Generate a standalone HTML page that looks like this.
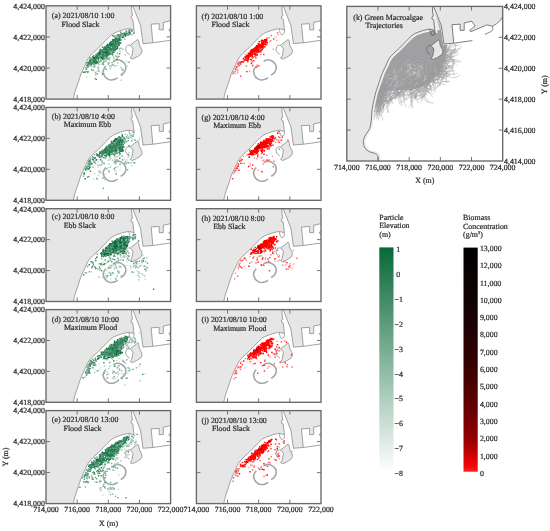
<!DOCTYPE html>
<html><head><meta charset="utf-8"><style>
html,body{margin:0;padding:0;background:#fff;}
body{width:550px;height:531px;overflow:hidden;}
svg{display:block;filter:blur(0.3px);}
text{font-family:'Liberation Serif','Times New Roman',serif;font-size:7.9px;fill:#2c2c2c;stroke:#2c2c2c;stroke-width:0.22px;text-rendering:geometricPrecision;}
</style></head><body>
<svg width="550" height="531" viewBox="0 0 550 531">
<defs><linearGradient id="gG" x1="0" y1="0" x2="0" y2="1"><stop offset="0" stop-color="#086838"/><stop offset="1" stop-color="#ffffff"/></linearGradient><linearGradient id="gR" x1="0" y1="0" x2="0" y2="1"><stop offset="0" stop-color="#000000"/><stop offset="0.25" stop-color="#120204"/><stop offset="0.5" stop-color="#320000"/><stop offset="0.725" stop-color="#660000"/><stop offset="0.86" stop-color="#960000"/><stop offset="0.975" stop-color="#f50505"/><stop offset="1.0" stop-color="#ff1e1e"/></linearGradient></defs>
<clipPath id="c00"><rect x="46.00" y="5.80" width="124.60" height="93.30"/></clipPath>
<g clip-path="url(#c00)">
<rect x="46.00" y="5.80" width="124.60" height="93.30" fill="#fff"/>
<path d="M38.21 169.07 L78.08 165.97 C78.01 165.14 77.85 162.70 77.62 160.99 C77.38 159.28 77.28 156.92 76.68 155.70 C76.09 154.48 75.49 154.35 74.03 153.68 C72.58 153.01 69.67 152.70 67.96 151.66 C66.25 150.62 64.66 149.20 63.76 147.46 C62.85 145.72 62.33 143.31 62.51 141.24 C62.69 139.17 63.78 137.12 64.85 135.02 C65.91 132.92 67.96 131.08 68.90 128.65 C69.83 126.21 70.06 123.51 70.45 120.40 C70.84 117.29 70.71 113.74 71.23 109.98 C71.75 106.23 72.87 101.10 73.57 97.86 C74.27 94.62 74.66 93.11 75.44 90.55 C76.22 87.98 77.38 85.03 78.24 82.46 C79.10 79.90 79.82 77.23 80.58 75.15 C81.33 73.08 82.06 71.58 82.76 70.02 C83.46 68.47 84.08 67.35 84.78 65.82 C85.48 64.29 86.24 62.30 86.96 60.85 C87.69 59.40 88.21 58.38 89.14 57.11 C90.08 55.85 91.30 54.50 92.57 53.23 C93.84 51.96 95.42 50.77 96.77 49.50 C98.12 48.23 99.14 47.16 100.67 45.61 C102.20 44.05 104.35 41.80 105.96 40.17 C107.57 38.53 108.87 37.03 110.32 35.81 C111.78 34.59 113.00 33.71 114.69 32.86 C116.37 32.00 118.79 31.25 120.45 30.68 C122.11 30.11 123.25 29.77 124.65 29.44 C126.06 29.10 128.16 28.79 128.86 28.66 L134.00 29.90 L132.91 20.26 L132.75 19.17 L131.20 18.55 L131.04 16.37 L132.44 15.60 L131.66 10.46 L131.20 -1.97 L38.21 -1.97Z" fill="#e6e6e6"/>
<path d="M132.75 -1.97 L133.06 6.58 L140.54 25.55 L142.88 42.50 L142.88 43.59 L152.84 42.81 L151.13 24.15 L159.23 23.68 L159.23 29.90 L163.28 29.90 L163.28 22.44 L170.91 20.73 L174.18 25.55 L168.73 29.90 L169.82 31.30 L184.46 25.08 L185.86 24.46 L189.13 25.08 L191.31 25.86 L195.36 23.37 L198.95 20.42 L201.13 16.84 L209.54 12.80 L209.54 -1.97Z" fill="#e6e6e6"/>
<path d="M130.26 45.30 L137.74 39.39 L138.67 40.94 L139.45 45.30 L141.63 49.18 L142.10 51.83 L140.54 54.63 L136.65 57.11 L132.29 59.14 L130.26 58.05 L131.82 55.72 L132.44 52.29 L133.06 48.72 L131.35 46.54Z" fill="#e6e6e6"/>
<path d="M78.08 165.97 C78.01 165.14 77.85 162.70 77.62 160.99 C77.38 159.28 77.28 156.92 76.68 155.70 C76.09 154.48 75.49 154.35 74.03 153.68 C72.58 153.01 69.67 152.70 67.96 151.66 C66.25 150.62 64.66 149.20 63.76 147.46 C62.85 145.72 62.33 143.31 62.51 141.24 C62.69 139.17 63.78 137.12 64.85 135.02 C65.91 132.92 67.96 131.08 68.90 128.65 C69.83 126.21 70.06 123.51 70.45 120.40 C70.84 117.29 70.71 113.74 71.23 109.98 C71.75 106.23 72.87 101.10 73.57 97.86 C74.27 94.62 74.66 93.11 75.44 90.55 C76.22 87.98 77.38 85.03 78.24 82.46 C79.10 79.90 79.82 77.23 80.58 75.15 C81.33 73.08 82.06 71.58 82.76 70.02 C83.46 68.47 84.08 67.35 84.78 65.82 C85.48 64.29 86.24 62.30 86.96 60.85 C87.69 59.40 88.21 58.38 89.14 57.11 C90.08 55.85 91.30 54.50 92.57 53.23 C93.84 51.96 95.42 50.77 96.77 49.50 C98.12 48.23 99.14 47.16 100.67 45.61 C102.20 44.05 104.35 41.80 105.96 40.17 C107.57 38.53 108.87 37.03 110.32 35.81 C111.78 34.59 113.00 33.71 114.69 32.86 C116.37 32.00 118.79 31.25 120.45 30.68 C122.11 30.11 123.25 29.77 124.65 29.44 C126.06 29.10 128.16 28.79 128.86 28.66 L134.00 29.90 L132.91 20.26 L132.75 19.17 L131.20 18.55 L131.04 16.37 L132.44 15.60 L131.66 10.46 L131.20 -1.97" fill="none" stroke="#8c8c8c" stroke-width="0.8" stroke-linejoin="round"/>
<path d="M132.75 -1.97 L133.06 6.58 L140.54 25.55 L142.88 42.50 L142.88 43.59 L152.84 42.81 L151.13 24.15 L159.23 23.68 L159.23 29.90 L163.28 29.90 L163.28 22.44 L170.91 20.73 L174.18 25.55 L168.73 29.90 L169.82 31.30 L184.46 25.08 L185.86 24.46 L189.13 25.08 L191.31 25.86 L195.36 23.37 L198.95 20.42 L201.13 16.84 L209.54 12.80 L209.54 -1.97" fill="none" stroke="#8c8c8c" stroke-width="0.8" stroke-linejoin="round"/>
<path d="M152.84 42.81 L171.38 40.17" fill="none" stroke="#8c8c8c" stroke-width="0.8" stroke-linejoin="round"/>
<path d="M191.31 25.86 C191.39 26.40 192.07 28.22 191.78 29.12 C191.50 30.03 190.90 30.50 189.60 31.30 C188.30 32.11 184.93 33.50 183.99 33.95" fill="none" stroke="#8c8c8c" stroke-width="0.8" stroke-linejoin="round"/>
<path d="M128.86 28.66 C128.99 29.31 129.33 31.59 129.64 32.55 C129.95 33.50 130.23 34.10 130.73 34.41 C131.22 34.72 132.05 34.77 132.60 34.41 C133.14 34.05 133.77 32.99 134.00 32.23 C134.23 31.48 134.00 30.29 134.00 29.90" fill="none" stroke="#8c8c8c" stroke-width="0.8" stroke-linejoin="round"/>
<path d="M130.26 45.30 L137.74 39.39 L138.67 40.94 L139.45 45.30 L141.63 49.18 L142.10 51.83 L140.54 54.63 L136.65 57.11 L132.29 59.14 L130.26 58.05 L131.82 55.72 L132.44 52.29 L133.06 48.72 L131.35 46.54Z" fill="none" stroke="#8c8c8c" stroke-width="0.8" stroke-linejoin="round"/>
<path d="M130.26 45.30 C129.79 45.32 128.21 44.93 127.46 45.45 C126.70 45.97 125.93 47.34 125.74 48.41 C125.56 49.47 125.72 50.79 126.37 51.83 C127.02 52.86 129.09 54.16 129.64 54.63" fill="none" stroke="#8c8c8c" stroke-width="0.8" stroke-linejoin="round"/>
<path d="M113.13 61.31 C113.83 61.05 115.93 59.81 117.33 59.76 C118.74 59.71 120.27 60.28 121.54 61.00 C122.81 61.73 124.24 62.95 124.97 64.11 C125.69 65.28 126.03 66.65 125.90 68.00 C125.77 69.35 125.04 71.01 124.19 72.20 C123.33 73.39 121.33 74.66 120.76 75.15" fill="none" stroke="#a6a6a6" stroke-width="1.6"/>
<path d="M105.81 66.13 C105.44 66.70 104.04 68.47 103.63 69.55 C103.21 70.64 103.06 71.42 103.32 72.66 C103.58 73.91 104.35 75.90 105.19 77.02 C106.02 78.13 107.29 78.86 108.30 79.35 C109.31 79.84 110.17 79.97 111.26 79.97 C112.35 79.97 113.78 79.71 114.84 79.35 C115.91 78.99 117.18 78.06 117.64 77.80" fill="none" stroke="#a6a6a6" stroke-width="1.6"/>
<path d="M102.7 50.2h0M97.4 54.1h0M114.1 48.9h0M111.3 41.6h0M92.1 59.0h0M101.6 58.6h0M91.6 62.2h0M106.8 48.5h0M110.9 44.6h0M102.7 51.8h0M99.0 56.9h0M113.0 49.4h0M110.5 45.1h0M89.6 65.3h0M112.0 50.4h0M105.4 50.4h0M112.4 46.1h0M108.3 50.8h0M99.0 56.0h0M103.2 50.0h0M116.5 48.9h0M117.5 45.9h0M107.5 50.3h0M107.8 50.0h0M114.7 49.9h0M116.8 38.6h0M95.7 60.8h0M114.6 46.2h0M106.6 52.7h0M119.4 42.7h0M113.1 45.8h0M115.3 40.2h0M98.5 54.6h0M117.8 44.4h0M110.9 49.2h0M96.2 59.3h0M109.3 46.2h0M102.5 51.0h0M107.1 54.4h0M95.5 63.2h0M110.6 50.5h0M102.8 54.0h0M104.7 46.9h0M113.3 41.2h0M119.7 39.5h0M97.2 56.9h0M106.4 47.9h0M107.9 50.0h0M102.1 57.7h0M87.1 62.7h0M95.5 56.8h0M95.7 56.9h0M105.4 49.3h0M110.7 50.6h0M106.5 48.5h0M95.6 56.0h0M115.6 38.8h0M113.3 48.2h0M115.9 43.7h0M96.7 59.3h0M93.6 63.5h0M118.1 44.9h0M94.6 63.8h0M105.2 49.5h0M117.1 39.4h0M100.4 61.2h0M103.5 50.8h0M106.1 55.0h0M107.5 48.3h0M111.9 46.6h0M115.6 49.3h0M105.5 57.3h0M95.9 61.8h0M107.7 54.5h0M115.1 47.2h0M116.4 38.7h0M96.1 56.4h0M117.4 47.7h0M110.4 50.2h0M111.1 47.8h0M111.3 47.4h0M118.9 39.3h0M111.3 47.6h0M105.0 54.6h0M102.7 57.7h0M90.0 63.2h0M106.8 48.0h0M98.0 59.6h0M115.5 40.1h0M106.9 47.2h0M108.6 51.4h0M109.7 45.8h0M103.5 55.1h0M112.0 44.4h0M106.8 46.5h0M116.2 44.2h0M112.7 40.9h0M106.6 46.3h0M95.7 60.5h0M106.8 57.8h0M110.0 50.2h0M99.4 53.7h0M106.9 45.1h0M103.2 59.2h0M107.0 49.6h0M117.9 44.8h0M102.9 56.6h0M105.8 52.5h0M111.4 44.1h0M100.2 54.1h0M105.4 49.3h0M101.5 51.8h0M110.0 44.6h0M108.3 47.5h0M95.5 62.4h0M102.2 49.9h0M112.1 47.1h0M113.0 41.2h0M105.2 51.1h0M115.7 40.1h0M108.4 52.5h0M112.1 49.7h0M96.3 61.4h0M109.6 48.3h0M113.1 42.2h0M120.0 37.2h0M91.3 64.7h0M99.4 54.8h0M96.7 56.1h0M120.0 40.4h0M119.9 36.9h0M109.9 47.0h0M108.7 51.2h0M99.2 54.0h0M96.3 63.5h0M112.0 45.2h0M104.6 52.7h0M102.1 51.9h0M110.6 51.0h0M102.8 56.9h0M100.9 58.1h0M115.2 45.8h0M95.7 60.9h0M105.0 48.7h0M114.5 50.3h0M114.1 43.5h0M103.5 53.7h0M93.5 60.6h0M92.9 62.4h0M88.9 64.5h0M114.2 41.4h0M107.8 47.3h0M96.9 59.3h0M110.1 50.7h0M111.8 43.4h0M113.4 46.0h0M88.2 63.7h0M112.4 49.2h0M98.0 56.7h0M100.6 57.1h0M116.4 49.4h0M100.1 53.2h0M110.5 42.6h0M104.3 54.9h0M109.0 47.9h0M101.0 49.8h0M97.4 56.2h0M108.2 52.6h0M104.3 49.8h0M102.8 52.4h0M101.7 51.4h0M113.2 49.3h0M93.6 61.1h0M108.5 47.8h0M110.3 45.9h0M112.9 41.4h0M110.9 43.4h0M102.3 53.7h0M93.8 63.9h0M106.4 51.9h0M120.1 40.4h0M96.6 57.0h0M106.6 49.2h0M113.6 39.7h0M101.5 57.9h0M110.0 47.3h0M118.6 37.9h0M117.1 45.5h0M112.1 49.8h0M93.4 61.2h0M100.5 54.2h0M113.3 43.6h0M111.3 48.2h0M106.1 50.3h0M102.8 49.9h0M93.6 57.2h0M117.7 47.9h0M90.3 60.9h0M108.0 50.3h0M112.3 46.8h0M106.6 46.1h0M119.6 43.3h0M95.8 55.4h0M115.8 41.8h0M113.8 43.4h0M110.8 45.5h0M112.6 49.3h0M112.3 42.9h0M106.6 49.9h0M105.0 47.2h0M92.5 61.3h0M105.8 48.8h0M100.8 56.0h0M117.1 45.9h0M112.2 53.0h0M108.1 45.3h0M89.8 65.1h0M102.8 47.4h0M108.5 45.4h0M100.1 51.7h0M108.9 49.5h0M112.1 45.3h0M93.5 62.1h0M109.0 53.3h0M97.8 58.7h0M112.0 50.6h0M112.6 45.0h0M104.3 50.8h0M94.8 63.3h0M95.7 61.2h0M109.1 53.3h0M112.4 45.5h0M106.7 52.6h0M118.2 45.6h0M103.2 51.9h0M112.7 44.3h0M96.7 62.8h0M99.5 57.4h0M105.0 56.5h0M93.3 60.4h0M111.0 42.3h0M103.0 49.6h0M118.0 45.6h0M111.6 44.8h0M112.2 46.9h0M96.1 62.5h0M104.1 54.2h0M107.5 45.8h0M101.2 56.5h0M101.0 56.0h0M125.5 35.5h0M115.5 40.6h0M126.2 33.3h0M122.7 33.8h0M124.8 34.2h0M126.3 34.5h0M124.3 35.0h0M124.2 33.1h0M117.9 35.1h0M128.5 32.1h0M124.5 34.3h0M124.9 34.4h0M128.0 35.3h0M119.9 35.9h0M129.8 32.2h0M121.6 34.1h0M123.3 33.8h0M117.0 59.3h0M96.2 79.4h0M90.3 57.9h0M89.8 62.1h0M84.8 72.3h0M88.4 66.3h0M86.9 65.5h0M92.6 56.6h0M93.2 60.6h0M89.2 61.5h0M87.8 64.6h0" stroke="#22794e" stroke-width="1.4" stroke-linecap="square"/>
<path d="M97.9 59.5h0M99.4 59.5h0M99.2 54.2h0M111.6 49.4h0M103.5 58.1h0M113.2 52.1h0M115.2 46.3h0M99.6 54.7h0M90.6 63.6h0M100.6 58.6h0M102.4 56.1h0M99.3 58.9h0M108.8 46.7h0M117.9 41.1h0M100.8 50.8h0M99.9 55.8h0M104.3 56.9h0M113.3 47.6h0M98.1 59.0h0M120.0 43.6h0M112.1 46.1h0M113.3 42.4h0M117.0 41.5h0M97.9 57.5h0M104.1 58.4h0M114.1 44.9h0M108.4 49.6h0M107.5 46.9h0M98.8 53.9h0M99.7 52.1h0M94.9 59.9h0M98.0 55.0h0M104.0 51.3h0M106.6 48.9h0M106.4 46.3h0M107.4 46.7h0M97.0 59.8h0M96.0 55.6h0M92.4 61.9h0M119.0 44.6h0M101.1 50.0h0M109.1 54.8h0M97.0 56.5h0M106.4 50.4h0M107.1 50.9h0M90.8 64.9h0M98.8 54.9h0M97.0 62.0h0M112.5 45.5h0M114.5 49.7h0M97.4 61.4h0M109.3 45.8h0M120.7 35.3h0M96.3 62.5h0M112.4 47.4h0M92.5 57.3h0M117.5 39.0h0M112.8 35.6h0M120.7 32.3h0M119.2 38.6h0M118.6 36.5h0M131.0 30.2h0M128.9 32.0h0M117.1 39.5h0M125.4 36.5h0M122.8 35.7h0M134.1 32.9h0M117.7 35.3h0M121.1 37.2h0M123.6 37.4h0M119.6 34.8h0M127.9 33.4h0M123.4 36.8h0M117.3 35.5h0M129.2 32.8h0M112.1 65.1h0M98.5 67.7h0M87.9 64.5h0M87.6 66.4h0M89.7 59.5h0M88.2 64.1h0M90.7 62.8h0" stroke="#549775" stroke-width="1.4" stroke-linecap="square"/>
<path d="M116.0 44.4h0M104.7 53.4h0M100.1 58.4h0M97.0 60.2h0M115.1 41.9h0M96.9 57.8h0M113.4 46.3h0M105.0 52.7h0M94.2 63.0h0M115.1 39.5h0M99.5 58.9h0M98.6 55.6h0M118.1 40.7h0M107.9 50.9h0M97.8 62.7h0M108.3 52.7h0M110.1 51.0h0M122.5 37.5h0M106.4 55.4h0M96.4 58.2h0M110.1 43.7h0M97.0 59.4h0M98.2 54.9h0M90.9 59.4h0M97.7 61.9h0M118.9 41.0h0M103.4 51.5h0M96.8 61.5h0M116.6 38.6h0M90.3 61.5h0M108.1 54.9h0M118.0 42.8h0M96.9 57.9h0M99.0 60.2h0M117.4 48.0h0M90.7 60.2h0M114.0 40.1h0M119.0 45.2h0M106.6 54.1h0M118.0 44.1h0M99.5 58.3h0M96.6 58.1h0M118.0 42.7h0M93.9 63.0h0M105.6 52.6h0M89.3 62.4h0M111.9 43.3h0M93.7 58.8h0M114.3 48.2h0M114.7 41.8h0M98.7 58.3h0M115.2 49.6h0M98.0 60.4h0M105.1 50.3h0M110.2 53.8h0M102.1 58.5h0M98.9 52.4h0M115.4 49.5h0M117.0 46.4h0M107.6 48.3h0M98.4 60.7h0M105.8 48.1h0M101.5 57.2h0M94.4 57.7h0M94.9 58.6h0M108.2 50.8h0M93.7 58.2h0M115.8 42.3h0M114.1 46.9h0M109.6 44.9h0M110.2 43.7h0M109.7 46.9h0M111.2 49.1h0M106.3 48.9h0M110.1 49.3h0M117.7 41.2h0M108.2 46.6h0M111.3 50.3h0M109.1 45.4h0M101.2 57.6h0M97.8 59.6h0M113.8 44.2h0M113.5 47.3h0M111.2 43.3h0M107.5 48.0h0M92.0 63.9h0M110.4 48.3h0M112.6 41.1h0M109.8 43.1h0M108.5 51.6h0M103.5 49.2h0M89.0 62.3h0M117.3 47.9h0M114.3 47.1h0M113.7 40.5h0M112.0 44.8h0M119.7 38.2h0M113.3 51.3h0M115.4 41.8h0M96.8 55.6h0M116.8 45.8h0M101.1 55.0h0M114.2 40.9h0M107.0 56.3h0M105.3 49.6h0M91.6 63.1h0M110.5 53.6h0M101.3 58.7h0M110.7 48.9h0M105.3 55.8h0M108.0 54.3h0M98.4 57.2h0M113.7 43.8h0M98.6 55.1h0M101.9 58.7h0M94.5 59.8h0M103.0 56.3h0M99.8 53.6h0M113.4 52.5h0M102.3 55.4h0M97.5 55.5h0M103.8 57.8h0M101.3 57.3h0M101.5 59.9h0M110.7 52.6h0M104.3 48.6h0M98.5 57.5h0M112.4 51.7h0M105.2 52.4h0M110.2 49.7h0M107.8 44.4h0M115.8 43.1h0M105.5 54.1h0M98.6 53.4h0M93.6 58.9h0M88.5 63.2h0M109.6 50.5h0M88.5 64.5h0M100.7 52.5h0M100.1 52.5h0M119.2 40.1h0M107.7 55.9h0M90.9 59.9h0M100.6 54.4h0M104.0 53.2h0M111.5 53.8h0M97.7 56.0h0M106.8 48.8h0M117.1 40.4h0M95.3 58.2h0M107.4 50.5h0M103.4 50.4h0M99.4 57.7h0M101.7 54.7h0M113.5 46.9h0M113.8 49.6h0M100.2 60.8h0M110.0 49.5h0M111.9 50.5h0M107.0 51.7h0M110.5 50.0h0M118.0 39.5h0M103.4 52.3h0M104.4 53.2h0M94.3 61.2h0M114.7 43.7h0M110.9 51.2h0M107.3 49.8h0" stroke="#0a6a3a" stroke-width="1.4" stroke-linecap="square"/>
<path d="M117.0 39.0h0M112.6 41.0h0M97.8 53.4h0M114.7 48.0h0M103.9 55.7h0M102.8 50.1h0M109.3 45.1h0M91.4 63.6h0M102.9 55.9h0M95.3 60.3h0M117.3 45.3h0M116.4 40.9h0M109.4 48.9h0M91.0 64.1h0M115.7 43.7h0M102.9 58.9h0M100.7 51.1h0M106.1 46.8h0M96.6 59.8h0M102.5 54.0h0M105.9 56.2h0M105.7 49.5h0M112.7 49.5h0M112.8 51.9h0M105.2 50.8h0M118.1 44.9h0M111.9 48.5h0M113.9 43.7h0M91.2 61.7h0M112.6 49.6h0M91.1 63.9h0M118.5 45.2h0M110.4 51.9h0M114.1 50.3h0M108.7 53.6h0M89.8 65.6h0M96.9 58.6h0M109.7 50.5h0M121.1 39.9h0M103.7 53.4h0M105.2 51.5h0M91.1 62.0h0M101.2 54.1h0M115.4 44.4h0M104.1 49.4h0M114.2 45.2h0M118.8 40.6h0M111.4 42.2h0M101.1 56.8h0M101.1 55.4h0M89.8 60.9h0M103.6 55.3h0M113.7 46.1h0M109.7 50.7h0M99.8 59.6h0M117.7 39.6h0M99.8 50.8h0M112.2 48.0h0M92.1 62.9h0M95.8 57.8h0M114.1 44.4h0M92.6 60.2h0M117.4 38.8h0M101.4 51.5h0M112.0 50.2h0M92.5 62.0h0M113.5 51.8h0M100.1 49.4h0M119.5 38.1h0M116.7 41.1h0M92.2 59.6h0M108.8 50.9h0M101.3 53.0h0M115.2 39.6h0M106.6 54.6h0M93.4 62.3h0M117.7 38.8h0M101.4 56.7h0M99.7 51.4h0M110.7 50.6h0M116.2 44.1h0M118.3 40.8h0M92.3 61.2h0M99.6 61.9h0M110.0 48.8h0M98.4 55.7h0M105.8 54.7h0M102.5 47.1h0M96.1 54.1h0M118.9 43.6h0M111.6 48.6h0M105.1 54.5h0M95.1 59.5h0M108.4 49.8h0M118.1 38.9h0M113.3 47.5h0M111.3 52.6h0M113.7 41.4h0M99.4 58.9h0M110.1 50.6h0M101.6 53.5h0M94.9 62.2h0M100.3 56.7h0M102.4 56.1h0M108.8 51.6h0M110.5 50.1h0M108.7 45.9h0M89.6 62.8h0M114.8 41.1h0M111.5 43.3h0M109.9 54.4h0M120.7 42.8h0M115.0 46.6h0M111.7 50.4h0M92.9 60.5h0M97.8 58.1h0M100.9 61.4h0M98.3 54.5h0M112.3 42.7h0M103.6 57.4h0M98.3 54.5h0M108.9 48.9h0M109.3 51.9h0M106.7 48.0h0M102.1 50.1h0M104.8 48.4h0M107.5 48.4h0M97.8 60.2h0M108.0 46.4h0M109.8 47.1h0M90.2 63.5h0M119.5 42.7h0M114.2 49.1h0M117.5 43.2h0M118.6 34.6h0M130.3 32.7h0M120.4 35.0h0M116.8 37.0h0M120.5 40.0h0M129.8 34.2h0M113.7 36.2h0M131.9 31.2h0M124.7 33.5h0M112.6 39.6h0M126.3 31.3h0M129.3 30.6h0M126.4 33.6h0M103.0 62.9h0M87.5 62.8h0M93.6 55.7h0M86.2 67.7h0M86.2 69.3h0M83.4 72.2h0M128.8 62.3h0" stroke="#3b8861" stroke-width="1.4" stroke-linecap="square"/>
<path d="M102.1 49.6h0M95.7 55.3h0M118.4 37.3h0M120.7 33.3h0M124.8 39.1h0M121.4 34.1h0M114.7 37.5h0M126.7 32.1h0M122.6 35.5h0M115.1 35.5h0M120.9 37.4h0M122.9 35.6h0M128.5 31.1h0M128.2 35.0h0M109.2 60.1h0M101.1 55.7h0M105.6 58.5h0M85.4 71.9h0M88.7 61.6h0M86.8 68.2h0M87.5 63.5h0M91.9 61.3h0M89.9 64.1h0M90.7 58.8h0M88.8 65.3h0M88.1 67.0h0M86.8 67.7h0" stroke="#84b49c" stroke-width="1.4" stroke-linecap="square"/>
<path d="M111.1 51.6h0M89.7 65.4h0M94.0 64.8h0M119.9 50.9h0M115.7 65.7h0M99.2 71.0h0M117.3 57.3h0M118.0 63.1h0M125.3 54.9h0M88.5 71.8h0M110.2 57.9h0M121.0 67.5h0M127.0 66.4h0" stroke="#9dc3b0" stroke-width="1.4" stroke-linecap="square"/>
<path d="M98.4 56.1h0M108.9 50.9h0M104.6 54.3h0M107.9 48.9h0M102.2 52.8h0M109.7 46.5h0M99.2 57.2h0M115.4 37.4h0M103.8 50.7h0M127.0 35.0h0M128.4 35.2h0M122.4 35.9h0M123.3 35.6h0M123.4 33.7h0M126.3 32.4h0M119.4 34.7h0M133.8 33.4h0M120.8 34.4h0M94.6 65.5h0M98.7 61.2h0M87.7 72.5h0M105.7 69.1h0M86.3 71.6h0" stroke="#6ca689" stroke-width="1.4" stroke-linecap="square"/>
<path d="M112.1 55.9h0M117.3 65.6h0M113.5 55.0h0M106.3 66.2h0M102.0 64.3h0M126.9 66.3h0" stroke="#d8e7df" stroke-width="1.4" stroke-linecap="square"/>
<path d="M117.6 53.5h0M87.6 71.4h0M98.6 64.0h0M95.2 78.5h0M115.0 51.3h0" stroke="#7aaf95" stroke-width="1.4" stroke-linecap="square"/>
<path d="M107.6 57.7h0M106.1 61.2h0M99.9 58.8h0" stroke="#bbd5c8" stroke-width="1.4" stroke-linecap="square"/>
<path d="M103.6 64.9h0M105.0 57.5h0M111.0 66.8h0M111.5 47.4h0" stroke="#a7cab8" stroke-width="1.4" stroke-linecap="square"/>
<path d="M96.1 73.2h0M99.6 60.2h0M91.5 66.9h0M98.4 69.4h0M109.7 62.8h0M114.4 65.9h0M123.8 62.1h0M121.8 69.5h0" stroke="#b1cfc0" stroke-width="1.4" stroke-linecap="square"/>
<path d="M116.0 56.3h0M116.2 56.3h0M102.7 73.8h0M110.2 68.6h0M106.4 69.4h0M119.6 48.9h0M113.6 57.1h0M112.4 51.1h0M105.2 60.2h0M121.2 48.3h0M108.7 58.7h0" stroke="#89b8a0" stroke-width="1.4" stroke-linecap="square"/>
<path d="M103.0 64.0h0M112.6 54.8h0M93.9 64.1h0M118.7 56.5h0M102.5 74.4h0M107.2 59.1h0M119.7 53.8h0M94.6 66.9h0M93.2 70.4h0" stroke="#4e9471" stroke-width="1.4" stroke-linecap="square"/>
<path d="M101.5 64.1h0M95.4 72.4h0M108.0 56.7h0M111.3 53.1h0M122.7 68.8h0" stroke="#a7c9b8" stroke-width="1.4" stroke-linecap="square"/>
<path d="M108.7 56.4h0M97.8 68.0h0M96.9 71.6h0M101.3 72.3h0M122.7 49.3h0" stroke="#cee1d7" stroke-width="1.4" stroke-linecap="square"/>
<path d="M103.9 59.2h0M93.4 59.6h0M114.1 52.1h0M108.4 63.0h0M107.4 56.5h0M101.0 54.6h0M99.9 57.1h0M91.7 69.7h0M112.2 62.6h0" stroke="#62a081" stroke-width="1.4" stroke-linecap="square"/>
<path d="M108.9 58.1h0M105.3 61.3h0M113.7 57.4h0" stroke="#e2ede7" stroke-width="1.4" stroke-linecap="square"/>
<path d="M108.0 58.6h0M114.1 61.6h0M100.7 59.2h0M95.8 74.5h0M109.6 65.9h0M103.6 61.5h0M121.9 75.4h0" stroke="#76ac91" stroke-width="1.4" stroke-linecap="square"/>
<path d="M99.3 65.0h0M119.9 50.9h0M101.1 59.8h0M86.5 76.8h0M97.6 60.5h0M106.1 61.6h0M113.5 56.8h0M94.3 72.1h0M122.2 69.6h0M123.2 70.9h0" stroke="#c4dbd0" stroke-width="1.4" stroke-linecap="square"/>
<path d="M97.5 66.5h0M97.3 59.9h0M103.9 60.7h0M126.4 61.1h0" stroke="#c5dbd0" stroke-width="1.4" stroke-linecap="square"/>
<path d="M113.8 58.5h0M113.3 64.6h0M108.3 64.4h0M117.2 45.1h0M109.1 58.4h0M104.0 61.8h0M116.0 56.1h0M97.7 73.7h0M98.3 70.9h0M122.9 70.2h0" stroke="#89b8a1" stroke-width="1.4" stroke-linecap="square"/>
<path d="M99.2 62.2h0M105.9 61.2h0M94.2 63.9h0M93.0 66.9h0M125.2 64.2h0M121.3 80.1h0" stroke="#98c1ac" stroke-width="1.4" stroke-linecap="square"/>
<path d="M99.7 59.2h0M100.4 61.7h0M122.9 49.5h0M117.5 53.0h0M128.2 62.3h0" stroke="#b5d2c4" stroke-width="1.4" stroke-linecap="square"/>
</g>
<rect x="46.00" y="5.80" width="124.60" height="93.30" fill="none" stroke="#686868" stroke-width="1.35"/>
<path d="M77.15 5.80v4M77.15 99.10v-4M108.30 5.80v4M108.30 99.10v-4M139.45 5.80v4M139.45 99.10v-4M46.00 36.90h4M170.60 36.90h-4M46.00 68.00h4M170.60 68.00h-4" stroke="#686868" stroke-width="0.9"/>
<clipPath id="c01"><rect x="46.00" y="107.40" width="124.60" height="92.90"/></clipPath>
<g clip-path="url(#c01)">
<rect x="46.00" y="107.40" width="124.60" height="92.90" fill="#fff"/>
<path d="M38.21 269.98 L78.08 266.88 C78.01 266.05 77.85 263.63 77.62 261.92 C77.38 260.22 77.28 257.87 76.68 256.66 C76.09 255.45 75.49 255.32 74.03 254.65 C72.58 253.98 69.67 253.67 67.96 252.63 C66.25 251.60 64.66 250.18 63.76 248.45 C62.85 246.72 62.33 244.32 62.51 242.26 C62.69 240.20 63.78 238.16 64.85 236.07 C65.91 233.98 67.96 232.14 68.90 229.72 C69.83 227.29 70.06 224.61 70.45 221.51 C70.84 218.42 70.71 214.88 71.23 211.14 C71.75 207.40 72.87 202.29 73.57 199.06 C74.27 195.84 74.66 194.34 75.44 191.78 C76.22 189.23 77.38 186.29 78.24 183.73 C79.10 181.18 79.82 178.52 80.58 176.46 C81.33 174.39 82.06 172.89 82.76 171.35 C83.46 169.80 84.08 168.69 84.78 167.17 C85.48 165.64 86.24 163.66 86.96 162.21 C87.69 160.77 88.21 159.76 89.14 158.50 C90.08 157.23 91.30 155.89 92.57 154.62 C93.84 153.36 95.42 152.17 96.77 150.91 C98.12 149.64 99.14 148.59 100.67 147.04 C102.20 145.49 104.35 143.24 105.96 141.62 C107.57 139.99 108.87 138.50 110.32 137.28 C111.78 136.07 113.00 135.19 114.69 134.34 C116.37 133.49 118.79 132.74 120.45 132.17 C122.11 131.61 123.25 131.27 124.65 130.93 C126.06 130.60 128.16 130.29 128.86 130.16 L134.00 131.40 L132.91 121.80 L132.75 120.72 L131.20 120.10 L131.04 117.93 L132.44 117.15 L131.66 112.05 L131.20 99.66 L38.21 99.66Z" fill="#e6e6e6"/>
<path d="M132.75 99.66 L133.06 108.17 L140.54 127.06 L142.88 143.94 L142.88 145.02 L152.84 144.25 L151.13 125.67 L159.23 125.21 L159.23 131.40 L163.28 131.40 L163.28 123.97 L170.91 122.26 L174.18 127.06 L168.73 131.40 L169.82 132.79 L184.46 126.60 L185.86 125.98 L189.13 126.60 L191.31 127.37 L195.36 124.90 L198.95 121.95 L201.13 118.39 L209.54 114.37 L209.54 99.66Z" fill="#e6e6e6"/>
<path d="M130.26 146.73 L137.74 140.84 L138.67 142.39 L139.45 146.73 L141.63 150.60 L142.10 153.23 L140.54 156.02 L136.65 158.50 L132.29 160.51 L130.26 159.42 L131.82 157.10 L132.44 153.70 L133.06 150.13 L131.35 147.97Z" fill="#e6e6e6"/>
<path d="M78.08 266.88 C78.01 266.05 77.85 263.63 77.62 261.92 C77.38 260.22 77.28 257.87 76.68 256.66 C76.09 255.45 75.49 255.32 74.03 254.65 C72.58 253.98 69.67 253.67 67.96 252.63 C66.25 251.60 64.66 250.18 63.76 248.45 C62.85 246.72 62.33 244.32 62.51 242.26 C62.69 240.20 63.78 238.16 64.85 236.07 C65.91 233.98 67.96 232.14 68.90 229.72 C69.83 227.29 70.06 224.61 70.45 221.51 C70.84 218.42 70.71 214.88 71.23 211.14 C71.75 207.40 72.87 202.29 73.57 199.06 C74.27 195.84 74.66 194.34 75.44 191.78 C76.22 189.23 77.38 186.29 78.24 183.73 C79.10 181.18 79.82 178.52 80.58 176.46 C81.33 174.39 82.06 172.89 82.76 171.35 C83.46 169.80 84.08 168.69 84.78 167.17 C85.48 165.64 86.24 163.66 86.96 162.21 C87.69 160.77 88.21 159.76 89.14 158.50 C90.08 157.23 91.30 155.89 92.57 154.62 C93.84 153.36 95.42 152.17 96.77 150.91 C98.12 149.64 99.14 148.59 100.67 147.04 C102.20 145.49 104.35 143.24 105.96 141.62 C107.57 139.99 108.87 138.50 110.32 137.28 C111.78 136.07 113.00 135.19 114.69 134.34 C116.37 133.49 118.79 132.74 120.45 132.17 C122.11 131.61 123.25 131.27 124.65 130.93 C126.06 130.60 128.16 130.29 128.86 130.16 L134.00 131.40 L132.91 121.80 L132.75 120.72 L131.20 120.10 L131.04 117.93 L132.44 117.15 L131.66 112.05 L131.20 99.66" fill="none" stroke="#8c8c8c" stroke-width="0.8" stroke-linejoin="round"/>
<path d="M132.75 99.66 L133.06 108.17 L140.54 127.06 L142.88 143.94 L142.88 145.02 L152.84 144.25 L151.13 125.67 L159.23 125.21 L159.23 131.40 L163.28 131.40 L163.28 123.97 L170.91 122.26 L174.18 127.06 L168.73 131.40 L169.82 132.79 L184.46 126.60 L185.86 125.98 L189.13 126.60 L191.31 127.37 L195.36 124.90 L198.95 121.95 L201.13 118.39 L209.54 114.37 L209.54 99.66" fill="none" stroke="#8c8c8c" stroke-width="0.8" stroke-linejoin="round"/>
<path d="M152.84 144.25 L171.38 141.62" fill="none" stroke="#8c8c8c" stroke-width="0.8" stroke-linejoin="round"/>
<path d="M191.31 127.37 C191.39 127.92 192.07 129.72 191.78 130.62 C191.50 131.53 190.90 131.99 189.60 132.79 C188.30 133.59 184.93 134.99 183.99 135.42" fill="none" stroke="#8c8c8c" stroke-width="0.8" stroke-linejoin="round"/>
<path d="M128.86 130.16 C128.99 130.81 129.33 133.08 129.64 134.03 C129.95 134.99 130.23 135.58 130.73 135.89 C131.22 136.20 132.05 136.25 132.60 135.89 C133.14 135.53 133.77 134.47 134.00 133.72 C134.23 132.97 134.00 131.79 134.00 131.40" fill="none" stroke="#8c8c8c" stroke-width="0.8" stroke-linejoin="round"/>
<path d="M130.26 146.73 L137.74 140.84 L138.67 142.39 L139.45 146.73 L141.63 150.60 L142.10 153.23 L140.54 156.02 L136.65 158.50 L132.29 160.51 L130.26 159.42 L131.82 157.10 L132.44 153.70 L133.06 150.13 L131.35 147.97Z" fill="none" stroke="#8c8c8c" stroke-width="0.8" stroke-linejoin="round"/>
<path d="M130.26 146.73 C129.79 146.75 128.21 146.37 127.46 146.88 C126.70 147.40 125.93 148.77 125.74 149.82 C125.56 150.88 125.72 152.20 126.37 153.23 C127.02 154.26 129.09 155.55 129.64 156.02" fill="none" stroke="#8c8c8c" stroke-width="0.8" stroke-linejoin="round"/>
<path d="M113.13 162.68 C113.83 162.42 115.93 161.18 117.33 161.13 C118.74 161.08 120.27 161.64 121.54 162.37 C122.81 163.09 124.24 164.30 124.97 165.46 C125.69 166.62 126.03 167.99 125.90 169.33 C125.77 170.68 125.04 172.33 124.19 173.51 C123.33 174.70 121.33 175.97 120.76 176.46" fill="none" stroke="#a6a6a6" stroke-width="1.6"/>
<path d="M105.81 167.48 C105.44 168.04 104.04 169.80 103.63 170.88 C103.21 171.97 103.06 172.74 103.32 173.98 C103.58 175.22 104.35 177.20 105.19 178.31 C106.02 179.42 107.29 180.15 108.30 180.64 C109.31 181.13 110.17 181.26 111.26 181.26 C112.35 181.26 113.78 181.00 114.84 180.64 C115.91 180.27 117.18 179.35 117.64 179.09" fill="none" stroke="#a6a6a6" stroke-width="1.6"/>
<path d="M113.3 145.6h0M110.9 145.7h0M119.1 149.8h0M122.6 139.1h0M114.9 143.6h0M120.0 138.9h0M100.6 157.0h0M99.9 152.9h0M115.0 139.5h0M120.8 151.2h0M115.6 151.5h0M106.8 147.6h0M106.5 150.0h0M118.7 148.0h0M107.4 151.7h0M113.4 154.1h0M105.3 150.5h0M112.1 144.5h0M107.7 149.3h0M125.0 140.7h0M121.3 139.9h0M112.3 149.6h0M111.4 148.4h0M123.4 140.9h0M116.8 151.6h0M122.3 136.5h0M114.1 144.3h0M121.5 147.9h0M112.1 148.5h0M110.3 152.1h0M117.7 146.8h0M110.6 145.2h0M118.9 146.4h0M104.4 154.8h0M115.5 149.1h0M114.4 140.7h0M116.0 145.0h0M104.6 149.8h0M100.9 157.1h0M106.8 148.4h0M117.7 139.8h0M118.1 143.0h0M123.2 150.5h0M117.7 147.8h0M111.3 143.8h0M117.0 143.1h0M118.3 151.6h0M116.7 152.4h0M119.7 149.3h0M114.2 144.3h0M114.2 142.1h0M109.8 147.4h0M119.8 142.1h0M115.5 148.8h0M116.5 146.5h0M110.0 154.8h0M113.3 147.1h0M118.1 144.2h0M121.1 148.6h0M123.3 145.1h0M118.3 140.2h0M119.7 142.3h0M116.9 147.4h0M112.1 152.4h0M113.6 153.0h0M119.6 142.6h0M112.1 151.6h0M120.2 143.6h0M124.3 142.1h0M121.2 139.0h0M120.9 148.7h0M117.0 145.4h0M124.7 142.5h0M124.9 139.0h0M120.6 138.2h0M114.9 147.3h0M116.9 141.2h0M124.1 143.1h0M122.5 144.8h0M114.0 148.1h0M120.6 138.9h0M101.9 155.1h0M116.6 144.4h0M116.2 148.9h0M109.3 146.8h0M118.9 144.8h0M114.9 144.5h0M117.8 141.2h0M114.3 145.8h0M110.9 144.3h0M117.5 151.8h0M120.7 143.2h0M109.0 154.2h0M113.3 148.8h0M122.9 144.0h0M102.5 153.9h0M113.5 143.1h0M117.6 145.3h0M120.9 143.0h0M114.7 145.7h0M118.7 147.2h0M116.4 145.0h0M118.6 147.6h0M122.1 144.8h0M122.3 139.7h0M108.3 150.6h0M118.8 137.8h0M121.1 139.1h0M112.6 143.1h0M111.6 141.5h0M109.0 146.8h0M119.1 147.5h0M111.0 151.8h0M122.3 148.9h0M101.5 154.1h0M113.9 144.4h0M118.6 146.3h0M118.4 139.0h0M113.7 150.9h0M105.7 149.1h0M109.7 145.3h0M106.2 152.8h0M120.6 147.2h0M103.5 152.3h0M103.9 152.9h0M112.8 150.7h0M119.0 146.2h0M122.2 146.6h0M112.6 149.8h0M118.5 138.0h0M119.7 143.3h0M109.0 152.0h0M120.8 140.6h0M111.2 152.3h0M120.6 150.6h0M114.5 150.6h0M120.1 138.5h0M105.9 150.4h0M103.8 151.2h0M118.2 146.5h0M121.7 141.0h0M116.6 140.3h0M109.6 147.2h0M122.8 141.4h0M116.3 143.2h0M122.3 137.1h0M121.4 148.3h0M119.8 146.1h0M116.2 139.0h0M101.4 152.8h0M120.7 139.8h0M115.1 146.1h0M108.8 149.5h0M119.5 146.8h0M117.3 152.1h0M113.7 142.5h0M107.1 154.5h0M114.5 142.7h0M116.6 142.8h0M109.2 145.9h0M118.8 141.9h0M112.3 151.4h0M118.6 139.7h0M118.7 139.8h0M113.1 144.2h0M105.0 152.6h0M117.1 146.3h0M116.5 151.1h0M108.8 153.2h0M110.0 152.2h0M114.2 148.6h0M121.4 142.7h0M120.5 148.6h0M122.9 140.9h0M116.7 150.7h0M116.4 145.9h0M118.3 141.6h0M109.3 152.6h0M115.4 146.0h0M113.3 144.7h0M107.4 151.7h0M105.2 155.7h0M110.6 146.8h0M114.7 146.5h0M107.5 154.0h0M118.5 143.0h0M123.8 141.6h0M113.7 147.9h0M105.6 148.8h0M117.1 141.3h0M116.0 151.8h0M115.9 153.4h0M106.3 154.4h0M118.2 149.3h0M101.8 151.5h0M107.8 148.7h0M120.1 150.1h0M119.3 147.6h0M111.3 150.2h0M105.7 147.6h0M111.4 147.5h0M118.9 144.6h0M116.5 149.5h0M106.8 147.3h0M105.9 153.7h0M119.2 140.9h0M116.8 150.2h0M119.7 151.8h0M120.7 146.4h0M109.4 152.0h0M119.7 146.2h0M120.1 148.2h0M118.0 147.0h0M116.9 140.5h0M96.8 155.1h0M117.0 141.7h0M114.9 143.4h0M114.2 141.5h0M111.5 145.8h0M118.9 151.5h0M112.9 153.3h0M99.7 154.5h0M111.9 142.8h0M96.7 159.6h0M110.3 153.1h0M121.1 146.4h0M120.8 142.9h0M113.2 148.6h0M113.9 148.1h0M118.7 146.6h0M112.1 146.3h0M119.1 139.3h0M117.5 142.4h0M105.1 151.0h0M110.5 154.0h0M118.5 140.8h0M113.7 147.7h0M114.8 145.2h0M120.6 146.6h0M122.0 151.3h0M108.6 150.9h0M111.2 151.7h0M111.4 150.5h0M114.8 154.5h0M100.0 151.7h0M117.6 142.1h0M103.9 157.7h0M119.3 150.0h0M106.9 146.5h0M113.7 149.2h0M121.7 144.1h0M112.6 144.0h0M117.1 139.5h0M116.6 142.2h0M108.5 146.2h0M119.5 138.4h0M118.3 152.3h0M123.9 138.8h0M107.2 146.9h0M114.8 141.4h0M104.8 150.2h0M107.7 151.1h0M85.4 169.2h0M87.4 166.5h0M89.6 167.5h0M84.0 173.7h0M89.3 163.7h0M86.2 170.2h0M85.2 178.8h0M88.8 161.6h0M94.8 157.9h0M90.4 164.5h0M89.1 168.8h0M86.3 168.0h0M92.0 163.7h0M90.1 162.9h0M100.5 159.8h0M128.6 138.2h0" stroke="#22794e" stroke-width="1.4" stroke-linecap="square"/>
<path d="M113.5 145.4h0M112.1 149.5h0M116.6 141.6h0M124.4 138.6h0M113.9 145.4h0M115.3 153.5h0M114.5 144.4h0M113.8 147.4h0M117.1 149.8h0M120.5 143.7h0M113.5 147.6h0M118.6 139.4h0M111.6 145.5h0M101.6 153.6h0M110.9 150.7h0M103.3 154.3h0M109.6 147.6h0M115.5 145.0h0M108.3 147.2h0M114.1 142.3h0M117.5 138.3h0M116.6 145.2h0M105.2 154.0h0M99.5 156.0h0M107.5 154.2h0M116.6 148.1h0M121.9 148.1h0M107.9 147.0h0M124.4 142.4h0M116.0 140.7h0M113.1 142.0h0M121.0 144.6h0M114.0 146.2h0M121.7 149.3h0M108.0 150.3h0M113.6 151.0h0M120.0 142.3h0M93.4 157.5h0M95.4 163.1h0M89.8 161.8h0M89.1 163.5h0M88.8 176.6h0M89.1 165.5h0M86.9 166.8h0M89.4 161.8h0M90.2 167.0h0M95.4 157.9h0M88.1 163.7h0M87.7 168.8h0M94.3 162.2h0M128.7 162.9h0M128.3 154.6h0M114.4 169.0h0M116.2 173.8h0" stroke="#549775" stroke-width="1.4" stroke-linecap="square"/>
<path d="M117.2 143.0h0M109.8 147.4h0M115.8 151.5h0M119.5 148.5h0M96.9 155.8h0M109.8 150.5h0M117.7 147.8h0M122.3 146.6h0M113.9 140.8h0M120.0 153.7h0M100.0 153.2h0M105.3 149.0h0M115.4 148.8h0M110.9 154.3h0M110.8 147.3h0M117.5 141.4h0M118.5 140.2h0M115.8 148.4h0M111.4 151.6h0M119.8 148.9h0M106.6 149.1h0M120.9 142.7h0M116.2 144.7h0M119.1 140.7h0M113.4 145.3h0M116.0 151.8h0M122.3 140.3h0M104.4 153.2h0M97.6 154.8h0M118.0 142.5h0M111.8 146.2h0M108.0 149.9h0M121.1 139.2h0M119.2 149.6h0M113.2 144.0h0M121.3 143.6h0M105.0 154.6h0M114.2 142.3h0M116.0 142.7h0M102.3 152.6h0M114.8 144.8h0M116.1 144.5h0M121.8 142.8h0M112.4 146.5h0M115.3 146.4h0M121.4 138.8h0M119.2 137.9h0M112.5 144.3h0M119.1 146.1h0M115.3 151.5h0M119.0 137.2h0M117.0 139.5h0M113.7 143.3h0M110.2 150.1h0M110.2 154.5h0M109.0 155.6h0M115.9 140.1h0M110.5 146.3h0M111.9 145.1h0M121.5 142.6h0M99.8 156.4h0M110.6 147.3h0M101.7 155.8h0M118.5 151.5h0M120.5 143.9h0M121.0 141.2h0M102.1 151.5h0M120.0 138.2h0M102.1 156.5h0M112.3 152.3h0M104.5 154.5h0M123.2 144.3h0M122.6 149.1h0M122.3 150.0h0M112.5 144.8h0M121.0 141.3h0M119.2 148.3h0M119.7 141.2h0M115.6 148.0h0M112.0 148.4h0M110.5 146.8h0M117.9 144.2h0M105.5 152.7h0M114.0 152.1h0M120.4 141.2h0M111.8 153.6h0M112.4 148.6h0M113.9 144.6h0M118.4 142.9h0M116.4 144.6h0M118.2 146.1h0M111.7 143.9h0M119.9 148.9h0M109.4 151.3h0M117.9 141.5h0M122.8 141.0h0M114.2 146.4h0M113.0 145.1h0M109.1 154.8h0M119.4 137.6h0M110.9 146.8h0M111.5 148.7h0M118.3 146.2h0M118.7 143.9h0M114.9 145.9h0M123.3 150.6h0M118.3 140.4h0M112.1 147.0h0M115.1 153.5h0M113.1 146.7h0M119.2 147.2h0M116.4 147.1h0M119.7 140.7h0M102.9 151.9h0M120.3 139.6h0M114.4 142.9h0M117.7 143.0h0M122.6 143.6h0M117.1 150.5h0M104.4 152.2h0M120.8 139.7h0M116.9 140.8h0M119.3 142.5h0M115.0 143.2h0M122.3 135.0h0M119.2 137.0h0M113.8 147.1h0M119.2 138.5h0M116.3 140.8h0M119.2 137.6h0M99.1 155.5h0M123.1 138.0h0M110.6 150.5h0M115.5 138.6h0M118.9 146.4h0M114.6 146.5h0M122.7 146.4h0M117.5 148.8h0M118.7 150.8h0M117.9 150.6h0M99.0 155.9h0M111.5 147.0h0M106.3 155.9h0M118.9 151.2h0M119.0 152.2h0M115.7 150.8h0M105.5 150.1h0M112.4 151.8h0M114.5 150.6h0M113.5 143.3h0M119.8 148.9h0M111.1 148.4h0M103.7 150.4h0M105.2 151.6h0M114.8 149.3h0M111.9 152.5h0M110.6 146.0h0M122.5 142.3h0M108.9 151.9h0M117.4 140.3h0M111.8 152.2h0M117.2 149.9h0M114.6 146.5h0M119.4 140.0h0M123.8 147.0h0M114.0 146.0h0M119.9 137.9h0M117.4 143.3h0M110.8 151.5h0" stroke="#0a6a3a" stroke-width="1.4" stroke-linecap="square"/>
<path d="M115.8 141.2h0M108.4 153.3h0M108.4 150.7h0M115.5 144.3h0M113.6 148.3h0M118.5 145.6h0M120.4 147.9h0M108.1 150.5h0M106.9 147.2h0M116.2 152.5h0M94.9 158.5h0M106.6 149.5h0M122.2 142.6h0M114.0 153.8h0M117.1 144.8h0M110.9 146.0h0M114.1 150.3h0M124.4 138.6h0M120.7 141.8h0M118.5 140.7h0M115.7 141.3h0M122.2 137.5h0M110.2 151.0h0M108.6 150.7h0M109.0 145.0h0M110.9 154.0h0M113.2 144.7h0M113.7 154.0h0M122.0 142.8h0M118.9 144.0h0M114.6 148.4h0M105.7 147.6h0M108.1 151.8h0M114.6 152.5h0M117.5 140.8h0M103.8 150.8h0M117.4 142.6h0M109.8 150.3h0M112.2 145.7h0M113.9 143.0h0M111.2 152.8h0M119.5 146.5h0M108.3 150.8h0M115.6 142.4h0M106.3 156.0h0M111.1 147.0h0M121.2 137.4h0M123.6 139.4h0M106.8 151.1h0M121.1 146.0h0M113.1 146.1h0M105.9 155.2h0M111.7 144.2h0M112.1 150.6h0M114.0 146.8h0M117.0 146.7h0M119.9 139.7h0M111.0 151.9h0M110.9 153.1h0M106.3 151.6h0M116.5 147.8h0M114.2 152.0h0M114.5 155.5h0M113.9 153.4h0M108.3 150.2h0M104.7 153.3h0M108.5 153.3h0M119.9 138.3h0M115.8 148.8h0M122.8 143.7h0M122.8 140.6h0M104.2 151.2h0M111.4 144.6h0M118.2 139.9h0M99.8 154.1h0M107.6 149.5h0M118.6 150.1h0M113.5 154.2h0M100.0 155.7h0M123.4 140.2h0M109.1 148.3h0M106.5 147.9h0M117.7 144.0h0M114.6 144.7h0M111.4 143.1h0M112.8 146.3h0M121.2 143.6h0M116.4 142.7h0M115.4 145.8h0M115.6 147.8h0M112.4 145.5h0M122.4 147.6h0M106.6 151.6h0M116.7 147.0h0M105.3 151.1h0M106.5 149.5h0M119.8 145.6h0M123.1 137.2h0M115.0 146.7h0M113.1 143.2h0M117.0 139.0h0M111.3 150.9h0M122.3 141.5h0M121.1 139.0h0M113.0 152.2h0M99.6 155.2h0M105.6 148.8h0M120.4 141.6h0M117.1 153.5h0M122.5 138.7h0M123.2 144.8h0M116.5 149.3h0M109.4 147.7h0M99.4 157.4h0M114.6 149.6h0M118.5 141.7h0M109.1 147.8h0M120.4 146.7h0M114.2 151.8h0M121.2 147.3h0M103.5 154.4h0M118.9 149.9h0M110.5 148.5h0M119.2 137.4h0M112.0 148.9h0M119.7 147.4h0M109.4 145.4h0M112.0 144.0h0M108.0 148.3h0M103.2 152.2h0M103.8 152.4h0M113.6 150.4h0M106.9 150.6h0M111.9 149.9h0M115.0 151.1h0M112.3 146.8h0M107.1 148.1h0M119.3 143.8h0M112.0 145.9h0M90.4 171.3h0M91.2 163.6h0M88.4 169.0h0M90.2 160.0h0M93.2 160.9h0M96.1 160.2h0M87.6 177.1h0M84.2 174.0h0M92.5 159.2h0M88.1 166.6h0M89.3 160.8h0M93.3 159.4h0M91.1 162.9h0M90.8 164.3h0M122.5 159.9h0M119.7 158.4h0M133.0 136.1h0" stroke="#3b8861" stroke-width="1.4" stroke-linecap="square"/>
<path d="M117.7 148.4h0M113.6 148.9h0M118.4 137.9h0M112.7 153.3h0M115.1 143.7h0M120.9 143.2h0M108.4 155.6h0M104.3 154.4h0M113.5 152.0h0M108.2 147.5h0M90.4 160.7h0M87.9 165.8h0M83.5 176.1h0M86.2 167.5h0M91.0 158.4h0M89.9 161.6h0M90.1 163.1h0M92.6 156.8h0M125.7 161.7h0" stroke="#6ca689" stroke-width="1.4" stroke-linecap="square"/>
<path d="M118.2 146.9h0M112.0 144.7h0M116.6 141.1h0M84.3 172.4h0M94.7 161.4h0M87.5 167.1h0M85.8 168.1h0M90.6 163.9h0M94.5 154.9h0" stroke="#84b49c" stroke-width="1.4" stroke-linecap="square"/>
<path d="M121.7 156.0h0M117.7 151.1h0M131.2 162.7h0M97.4 179.6h0M119.9 157.6h0M97.6 165.0h0M112.4 160.2h0" stroke="#a7cab8" stroke-width="1.4" stroke-linecap="square"/>
<path d="M126.3 163.5h0M102.7 163.9h0M101.5 152.1h0M93.0 167.1h0M132.0 141.0h0M133.3 136.1h0" stroke="#7aaf95" stroke-width="1.4" stroke-linecap="square"/>
<path d="M105.3 154.3h0M110.8 157.8h0M100.7 154.8h0M127.9 160.1h0M126.4 137.7h0M127.4 137.5h0M127.0 140.5h0" stroke="#cee1d7" stroke-width="1.4" stroke-linecap="square"/>
<path d="M115.7 171.4h0M120.2 170.3h0M124.6 159.3h0M100.4 165.0h0M111.3 158.1h0M130.8 133.5h0M122.3 138.2h0M129.7 136.4h0" stroke="#d8e7df" stroke-width="1.4" stroke-linecap="square"/>
<path d="M110.2 167.2h0M114.4 142.6h0M109.3 159.4h0M99.3 165.2h0M106.6 168.7h0M132.7 135.2h0M128.2 137.1h0M125.4 134.4h0M134.6 139.5h0" stroke="#98c1ac" stroke-width="1.4" stroke-linecap="square"/>
<path d="M97.9 161.9h0M115.6 171.3h0M97.9 167.1h0M116.8 167.3h0M110.1 159.3h0M126.9 160.1h0M113.8 152.7h0M113.6 162.8h0M100.5 170.4h0M105.2 174.2h0M86.8 170.7h0M102.7 162.9h0M126.8 136.1h0M126.3 141.6h0M124.7 140.9h0" stroke="#c4dbd0" stroke-width="1.4" stroke-linecap="square"/>
<path d="M102.9 178.3h0M126.4 141.7h0M100.1 172.7h0M127.6 169.8h0M133.1 132.4h0M124.0 141.4h0" stroke="#76ac91" stroke-width="1.4" stroke-linecap="square"/>
<path d="M98.6 172.9h0M111.1 165.4h0M114.7 170.7h0M124.2 157.8h0" stroke="#e2ede7" stroke-width="1.4" stroke-linecap="square"/>
<path d="M103.4 188.4h0M134.5 162.7h0M105.7 158.1h0M109.2 171.6h0M96.5 153.7h0M116.5 160.3h0M128.3 140.6h0M129.0 145.7h0" stroke="#4e9471" stroke-width="1.4" stroke-linecap="square"/>
<path d="M124.2 163.3h0M115.3 167.5h0M126.9 162.8h0M102.0 161.0h0M118.8 138.7h0M126.4 136.6h0M135.2 140.1h0" stroke="#89b8a0" stroke-width="1.4" stroke-linecap="square"/>
<path d="M98.4 175.5h0M115.0 154.0h0M108.5 170.2h0M104.8 179.4h0M133.2 163.0h0M94.5 173.5h0M123.2 137.8h0M132.2 138.7h0M123.5 143.4h0M139.0 140.4h0M122.0 138.5h0" stroke="#bbd5c8" stroke-width="1.4" stroke-linecap="square"/>
<path d="M116.0 157.2h0M100.6 156.4h0M111.1 153.8h0M118.0 149.8h0M117.2 156.8h0M115.4 164.0h0M131.4 165.6h0M118.0 152.8h0M132.3 135.4h0M131.1 137.4h0M128.7 137.8h0" stroke="#b1cfc0" stroke-width="1.4" stroke-linecap="square"/>
<path d="M119.4 155.3h0M104.6 163.7h0M108.0 167.9h0M129.2 152.6h0M108.9 164.3h0M123.0 145.5h0M127.5 135.3h0" stroke="#a7c9b8" stroke-width="1.4" stroke-linecap="square"/>
<path d="M98.8 171.1h0M103.8 162.7h0M99.7 171.6h0M101.9 161.5h0M115.9 152.1h0M101.2 165.3h0M122.5 156.2h0M116.9 160.5h0M108.5 160.4h0M101.4 157.9h0M127.1 137.7h0" stroke="#9dc3b0" stroke-width="1.4" stroke-linecap="square"/>
<path d="M115.9 162.7h0M109.6 156.7h0M102.3 150.0h0M96.7 178.4h0M120.0 164.5h0M124.0 137.4h0" stroke="#62a081" stroke-width="1.4" stroke-linecap="square"/>
<path d="M104.1 158.6h0M101.1 172.6h0M93.6 178.7h0M114.3 158.2h0" stroke="#c5dbd0" stroke-width="1.4" stroke-linecap="square"/>
<path d="M126.0 162.2h0M128.2 157.0h0M101.9 163.0h0M139.4 138.5h0M125.4 142.0h0M124.3 139.7h0" stroke="#b5d2c4" stroke-width="1.4" stroke-linecap="square"/>
<path d="M96.3 156.1h0M118.6 151.4h0M118.3 166.7h0" stroke="#d3e4dc" stroke-width="1.4" stroke-linecap="square"/>
<path d="M117.5 159.9h0M114.9 160.0h0M131.2 135.1h0" stroke="#89b8a1" stroke-width="1.4" stroke-linecap="square"/>
<path d="M130.2 136.8h0" stroke="#b6d2c4" stroke-width="1.4" stroke-linecap="square"/>
</g>
<rect x="46.00" y="107.40" width="124.60" height="92.90" fill="none" stroke="#686868" stroke-width="1.35"/>
<path d="M77.15 107.40v4M77.15 200.30v-4M108.30 107.40v4M108.30 200.30v-4M139.45 107.40v4M139.45 200.30v-4M46.00 138.37h4M170.60 138.37h-4M46.00 169.33h4M170.60 169.33h-4" stroke="#686868" stroke-width="0.9"/>
<clipPath id="c02"><rect x="46.00" y="208.70" width="124.60" height="92.80"/></clipPath>
<g clip-path="url(#c02)">
<rect x="46.00" y="208.70" width="124.60" height="92.80" fill="#fff"/>
<path d="M38.21 371.10 L78.08 368.01 C78.01 367.18 77.85 364.76 77.62 363.06 C77.38 361.36 77.28 359.01 76.68 357.80 C76.09 356.59 75.49 356.46 74.03 355.79 C72.58 355.12 69.67 354.81 67.96 353.78 C66.25 352.75 64.66 351.33 63.76 349.60 C62.85 347.87 62.33 345.48 62.51 343.41 C62.69 341.35 63.78 339.32 64.85 337.23 C65.91 335.14 67.96 333.31 68.90 330.89 C69.83 328.46 70.06 325.78 70.45 322.69 C70.84 319.60 70.71 316.06 71.23 312.33 C71.75 308.59 72.87 303.48 73.57 300.26 C74.27 297.04 74.66 295.55 75.44 292.99 C76.22 290.44 77.38 287.50 78.24 284.95 C79.10 282.40 79.82 279.74 80.58 277.68 C81.33 275.62 82.06 274.12 82.76 272.58 C83.46 271.03 84.08 269.92 84.78 268.40 C85.48 266.88 86.24 264.90 86.96 263.45 C87.69 262.01 88.21 261.00 89.14 259.74 C90.08 258.48 91.30 257.14 92.57 255.87 C93.84 254.61 95.42 253.42 96.77 252.16 C98.12 250.90 99.14 249.84 100.67 248.29 C102.20 246.75 104.35 244.51 105.96 242.88 C107.57 241.26 108.87 239.76 110.32 238.55 C111.78 237.34 113.00 236.46 114.69 235.61 C116.37 234.76 118.79 234.01 120.45 233.45 C122.11 232.88 123.25 232.54 124.65 232.21 C126.06 231.87 128.16 231.56 128.86 231.44 L134.00 232.67 L132.91 223.08 L132.75 222.00 L131.20 221.38 L131.04 219.22 L132.44 218.44 L131.66 213.34 L131.20 200.97 L38.21 200.97Z" fill="#e6e6e6"/>
<path d="M132.75 200.97 L133.06 209.47 L140.54 228.34 L142.88 245.20 L142.88 246.28 L152.84 245.51 L151.13 226.95 L159.23 226.49 L159.23 232.67 L163.28 232.67 L163.28 225.25 L170.91 223.55 L174.18 228.34 L168.73 232.67 L169.82 234.07 L184.46 227.88 L185.86 227.26 L189.13 227.88 L191.31 228.65 L195.36 226.18 L198.95 223.24 L201.13 219.68 L209.54 215.66 L209.54 200.97Z" fill="#e6e6e6"/>
<path d="M130.26 247.99 L137.74 242.11 L138.67 243.65 L139.45 247.99 L141.63 251.85 L142.10 254.48 L140.54 257.27 L136.65 259.74 L132.29 261.75 L130.26 260.67 L131.82 258.35 L132.44 254.95 L133.06 251.39 L131.35 249.22Z" fill="#e6e6e6"/>
<path d="M78.08 368.01 C78.01 367.18 77.85 364.76 77.62 363.06 C77.38 361.36 77.28 359.01 76.68 357.80 C76.09 356.59 75.49 356.46 74.03 355.79 C72.58 355.12 69.67 354.81 67.96 353.78 C66.25 352.75 64.66 351.33 63.76 349.60 C62.85 347.87 62.33 345.48 62.51 343.41 C62.69 341.35 63.78 339.32 64.85 337.23 C65.91 335.14 67.96 333.31 68.90 330.89 C69.83 328.46 70.06 325.78 70.45 322.69 C70.84 319.60 70.71 316.06 71.23 312.33 C71.75 308.59 72.87 303.48 73.57 300.26 C74.27 297.04 74.66 295.55 75.44 292.99 C76.22 290.44 77.38 287.50 78.24 284.95 C79.10 282.40 79.82 279.74 80.58 277.68 C81.33 275.62 82.06 274.12 82.76 272.58 C83.46 271.03 84.08 269.92 84.78 268.40 C85.48 266.88 86.24 264.90 86.96 263.45 C87.69 262.01 88.21 261.00 89.14 259.74 C90.08 258.48 91.30 257.14 92.57 255.87 C93.84 254.61 95.42 253.42 96.77 252.16 C98.12 250.90 99.14 249.84 100.67 248.29 C102.20 246.75 104.35 244.51 105.96 242.88 C107.57 241.26 108.87 239.76 110.32 238.55 C111.78 237.34 113.00 236.46 114.69 235.61 C116.37 234.76 118.79 234.01 120.45 233.45 C122.11 232.88 123.25 232.54 124.65 232.21 C126.06 231.87 128.16 231.56 128.86 231.44 L134.00 232.67 L132.91 223.08 L132.75 222.00 L131.20 221.38 L131.04 219.22 L132.44 218.44 L131.66 213.34 L131.20 200.97" fill="none" stroke="#8c8c8c" stroke-width="0.8" stroke-linejoin="round"/>
<path d="M132.75 200.97 L133.06 209.47 L140.54 228.34 L142.88 245.20 L142.88 246.28 L152.84 245.51 L151.13 226.95 L159.23 226.49 L159.23 232.67 L163.28 232.67 L163.28 225.25 L170.91 223.55 L174.18 228.34 L168.73 232.67 L169.82 234.07 L184.46 227.88 L185.86 227.26 L189.13 227.88 L191.31 228.65 L195.36 226.18 L198.95 223.24 L201.13 219.68 L209.54 215.66 L209.54 200.97" fill="none" stroke="#8c8c8c" stroke-width="0.8" stroke-linejoin="round"/>
<path d="M152.84 245.51 L171.38 242.88" fill="none" stroke="#8c8c8c" stroke-width="0.8" stroke-linejoin="round"/>
<path d="M191.31 228.65 C191.39 229.19 192.07 231.00 191.78 231.90 C191.50 232.80 190.90 233.27 189.60 234.07 C188.30 234.86 184.93 236.26 183.99 236.69" fill="none" stroke="#8c8c8c" stroke-width="0.8" stroke-linejoin="round"/>
<path d="M128.86 231.44 C128.99 232.08 129.33 234.35 129.64 235.30 C129.95 236.26 130.23 236.85 130.73 237.16 C131.22 237.47 132.05 237.52 132.60 237.16 C133.14 236.80 133.77 235.74 134.00 234.99 C134.23 234.25 134.00 233.06 134.00 232.67" fill="none" stroke="#8c8c8c" stroke-width="0.8" stroke-linejoin="round"/>
<path d="M130.26 247.99 L137.74 242.11 L138.67 243.65 L139.45 247.99 L141.63 251.85 L142.10 254.48 L140.54 257.27 L136.65 259.74 L132.29 261.75 L130.26 260.67 L131.82 258.35 L132.44 254.95 L133.06 251.39 L131.35 249.22Z" fill="none" stroke="#8c8c8c" stroke-width="0.8" stroke-linejoin="round"/>
<path d="M130.26 247.99 C129.79 248.01 128.21 247.62 127.46 248.14 C126.70 248.66 125.93 250.02 125.74 251.08 C125.56 252.14 125.72 253.45 126.37 254.48 C127.02 255.51 129.09 256.80 129.64 257.27" fill="none" stroke="#8c8c8c" stroke-width="0.8" stroke-linejoin="round"/>
<path d="M113.13 263.92 C113.83 263.66 115.93 262.42 117.33 262.37 C118.74 262.32 120.27 262.88 121.54 263.61 C122.81 264.33 124.24 265.54 124.97 266.70 C125.69 267.86 126.03 269.23 125.90 270.57 C125.77 271.91 125.04 273.56 124.19 274.74 C123.33 275.93 121.33 277.19 120.76 277.68" fill="none" stroke="#a6a6a6" stroke-width="1.6"/>
<path d="M105.81 268.71 C105.44 269.28 104.04 271.03 103.63 272.11 C103.21 273.20 103.06 273.97 103.32 275.21 C103.58 276.44 104.35 278.43 105.19 279.54 C106.02 280.65 107.29 281.37 108.30 281.86 C109.31 282.35 110.17 282.48 111.26 282.48 C112.35 282.48 113.78 282.22 114.84 281.86 C115.91 281.50 117.18 280.57 117.64 280.31" fill="none" stroke="#a6a6a6" stroke-width="1.6"/>
<path d="M115.3 245.5h0M117.5 248.9h0M105.3 251.7h0M120.3 238.3h0M112.9 247.3h0M103.3 254.7h0M117.1 244.3h0M124.7 241.4h0M121.6 240.5h0M123.9 236.2h0M118.9 245.2h0M110.1 246.6h0M114.7 244.2h0M125.9 245.2h0M124.8 244.8h0M122.1 241.5h0M107.3 247.9h0M119.4 247.6h0M107.9 248.3h0M126.3 247.6h0M124.1 248.6h0M122.1 239.3h0M123.7 248.5h0M119.7 243.3h0M117.1 248.5h0M115.6 243.0h0M122.8 244.2h0M115.2 248.5h0M117.4 254.3h0M112.3 244.1h0M125.9 241.8h0M124.3 243.2h0M119.4 242.8h0M125.7 242.0h0M112.0 246.3h0M124.2 240.7h0M121.7 238.3h0M116.4 245.6h0M107.9 254.0h0M114.4 249.5h0M120.1 251.0h0M117.1 252.2h0M125.7 242.4h0M113.6 251.2h0M122.3 242.7h0M104.5 252.9h0M113.8 243.3h0M121.5 246.2h0M111.3 246.0h0M129.4 237.5h0M121.4 247.1h0M110.7 250.0h0M101.8 255.0h0M122.7 239.8h0M120.2 251.9h0M121.8 245.1h0M124.0 246.1h0M122.5 238.2h0M119.2 241.1h0M120.5 248.7h0M126.0 240.9h0M126.1 242.0h0M118.9 244.7h0M108.5 255.4h0M119.2 242.2h0M122.6 241.8h0M122.8 247.4h0M114.8 247.4h0M116.2 249.1h0M110.6 254.1h0M118.3 249.6h0M120.8 240.7h0M108.9 246.1h0M122.8 244.5h0M118.7 242.1h0M106.6 250.6h0M120.9 241.3h0M119.8 245.7h0M119.2 243.1h0M128.4 242.5h0M114.3 250.0h0M107.4 255.3h0M122.0 248.5h0M107.6 252.1h0M118.7 241.5h0M126.2 246.6h0M123.0 239.4h0M111.8 250.5h0M116.9 250.9h0M102.6 254.3h0M123.1 241.0h0M120.2 249.9h0M122.0 253.4h0M114.8 245.7h0M105.1 251.0h0M124.2 238.8h0M123.8 239.7h0M114.8 250.4h0M113.7 248.8h0M114.0 251.2h0M112.7 249.5h0M115.1 241.4h0M122.6 237.9h0M123.1 241.0h0M120.7 249.6h0M116.3 249.8h0M125.8 246.0h0M121.1 239.6h0M122.4 244.3h0M106.0 247.9h0M110.5 249.1h0M121.9 238.0h0M120.6 242.9h0M121.5 245.6h0M116.6 250.9h0M113.5 246.2h0M111.8 247.8h0M115.4 241.2h0M123.9 239.5h0M126.4 236.8h0M127.3 243.9h0M117.1 244.4h0M122.6 238.1h0M115.8 242.8h0M118.7 240.6h0M110.9 246.2h0M126.6 246.1h0M123.8 239.2h0M115.5 240.5h0M115.9 249.7h0M121.2 250.2h0M110.8 245.9h0M114.3 247.3h0M103.7 254.8h0M117.5 240.0h0M121.5 246.2h0M124.7 249.5h0M107.2 253.0h0M105.8 256.3h0M114.1 243.0h0M114.0 243.4h0M123.9 243.4h0M115.1 242.6h0M131.4 261.4h0M110.6 275.1h0M93.0 262.7h0M95.7 258.6h0M118.6 260.3h0M112.8 252.1h0M111.1 265.4h0M117.8 258.1h0M120.4 254.8h0M111.3 252.4h0M127.6 251.0h0M103.8 264.5h0M94.9 267.0h0M110.4 258.5h0M109.4 250.0h0M105.3 259.9h0M124.2 253.4h0M135.5 237.0h0M125.4 239.6h0M132.8 238.5h0M128.9 237.0h0M138.6 241.0h0M125.5 240.2h0M134.5 237.6h0" stroke="#3b8861" stroke-width="1.4" stroke-linecap="square"/>
<path d="M122.0 237.9h0M102.8 252.4h0M126.1 244.0h0M119.5 252.7h0M116.7 251.2h0M115.2 242.2h0M103.3 256.5h0M120.1 241.9h0M126.8 240.8h0M124.8 248.7h0M112.0 248.3h0M109.5 246.0h0M128.2 237.3h0M115.4 243.5h0M110.8 250.0h0M102.8 251.9h0M112.1 241.1h0M113.9 246.2h0M121.5 241.8h0M122.5 246.9h0M107.4 253.1h0M120.7 249.8h0M114.7 244.0h0M113.2 246.7h0M119.0 243.5h0M113.6 247.1h0M111.5 243.7h0M116.1 250.4h0M124.5 240.9h0M106.3 255.0h0M109.4 253.0h0M124.1 243.5h0M124.8 244.9h0M119.1 251.0h0M119.0 244.3h0M113.9 244.7h0M109.4 253.7h0M110.1 250.6h0M122.5 246.5h0M115.9 245.1h0M122.7 245.7h0M118.7 244.4h0M118.1 253.5h0M113.4 242.8h0M121.4 244.5h0M118.8 246.7h0M122.4 239.7h0M110.3 249.9h0M119.5 238.7h0M117.3 246.5h0M104.8 254.0h0M123.6 241.7h0M111.0 249.5h0M117.7 240.9h0M116.2 245.5h0M125.1 247.8h0M112.6 246.4h0M122.7 251.9h0M122.8 253.5h0M113.5 251.4h0M110.2 251.9h0M122.1 238.9h0M104.7 254.9h0M123.9 248.1h0M122.6 244.4h0M116.5 249.9h0M122.6 239.6h0M112.9 242.5h0M109.6 252.3h0M124.9 240.6h0M123.6 243.7h0M100.7 253.5h0M128.1 241.1h0M113.1 244.5h0M112.1 246.2h0M121.5 239.1h0M121.4 251.7h0M120.9 244.4h0M116.9 244.2h0M121.4 247.9h0M121.5 245.7h0M111.5 246.3h0M124.8 238.8h0M111.8 250.2h0M119.3 248.7h0M107.0 253.9h0M115.0 245.1h0M107.9 248.5h0M115.2 241.2h0M119.6 246.4h0M113.0 242.0h0M116.3 243.0h0M113.2 246.2h0M115.5 252.2h0M109.9 245.4h0M104.1 254.0h0M114.5 251.2h0M113.7 251.0h0M108.2 250.8h0M123.4 241.9h0M121.6 239.6h0M118.0 239.6h0M122.2 246.3h0M119.7 249.4h0M127.0 244.8h0M122.8 240.7h0M121.6 237.8h0M113.9 241.9h0M113.8 248.5h0M120.0 243.0h0M109.8 248.0h0M121.8 236.5h0M119.1 244.8h0M123.2 241.3h0M115.3 243.8h0M111.5 244.2h0M117.7 248.3h0M111.4 245.9h0M117.1 251.2h0M111.3 253.5h0M122.9 243.3h0M103.8 251.6h0M120.8 247.1h0M124.4 248.9h0M105.1 250.2h0M116.4 253.1h0M109.3 250.3h0M126.5 237.3h0M117.5 241.6h0M124.3 237.7h0M105.9 252.1h0M103.1 249.4h0M111.5 246.6h0M122.0 237.1h0M122.2 242.2h0M116.2 249.8h0M110.9 251.8h0M113.1 249.3h0M124.0 244.0h0M121.1 250.1h0M119.2 241.6h0M109.0 245.3h0M106.2 247.5h0M122.1 239.4h0M121.6 244.8h0M119.0 240.5h0M117.3 247.3h0M107.9 251.7h0M115.4 252.3h0M113.1 250.3h0M120.5 238.9h0M119.5 242.9h0M111.3 249.3h0M114.7 252.1h0M120.5 239.2h0M121.5 240.3h0M122.8 240.2h0M121.6 243.3h0M102.6 254.7h0M122.2 247.0h0M107.7 247.9h0M117.9 239.5h0M125.5 248.2h0M114.3 245.1h0M127.4 236.8h0M122.0 249.6h0M128.2 239.2h0M123.2 239.7h0M126.0 241.8h0M117.3 245.0h0M122.7 242.9h0M126.2 245.5h0M115.3 252.3h0M121.7 241.2h0M106.2 250.2h0M125.4 243.2h0M110.5 245.1h0M117.2 241.2h0M114.0 250.7h0M112.7 249.1h0M114.9 244.5h0M114.6 250.1h0M125.8 238.4h0M112.8 243.3h0M109.8 254.5h0M106.1 255.1h0M122.7 242.1h0M111.6 246.6h0M117.6 250.2h0M103.2 251.1h0M116.1 251.8h0M126.8 243.8h0M115.2 249.2h0M114.6 253.0h0M118.7 249.3h0M124.4 246.0h0M120.5 250.8h0M105.5 248.5h0M115.0 247.5h0M123.2 239.8h0M122.6 240.4h0M109.0 245.2h0M121.7 243.6h0M121.1 242.3h0M115.3 241.9h0M117.8 244.3h0M120.9 250.8h0M123.5 239.3h0M112.1 248.4h0M112.6 246.7h0M122.7 240.8h0M109.8 250.9h0M105.7 254.0h0M126.4 241.0h0M115.7 248.0h0M116.8 253.0h0M101.1 253.5h0M122.4 240.7h0M111.5 249.3h0M113.3 249.4h0M123.2 238.6h0M118.5 240.8h0M115.6 249.5h0M113.6 246.0h0M112.1 248.6h0M107.8 248.5h0M108.2 249.3h0M120.1 241.0h0M107.6 248.8h0M114.8 244.4h0M125.9 237.4h0M115.3 246.0h0M106.3 253.1h0M120.4 246.7h0M114.2 252.9h0M115.6 250.3h0M112.7 248.5h0M123.4 242.8h0M108.1 248.3h0M116.7 244.1h0M124.7 241.1h0M113.4 251.5h0M122.4 241.4h0M112.3 247.5h0M105.8 251.6h0M115.1 244.0h0M105.9 250.1h0M117.7 248.3h0M104.9 253.1h0M106.1 252.6h0M122.4 245.1h0M113.9 246.3h0M112.2 248.6h0M118.6 249.5h0M121.8 247.4h0M116.8 239.0h0M116.3 247.1h0M119.6 252.0h0M125.5 246.8h0M125.6 237.2h0M127.8 237.1h0M113.6 252.6h0M110.0 245.3h0M116.3 249.6h0M127.4 237.5h0M118.1 246.8h0M119.0 248.3h0M116.8 249.0h0M124.8 242.2h0M117.4 244.2h0M120.5 243.0h0M118.9 244.5h0M121.7 244.4h0M114.9 248.6h0M117.4 245.7h0M114.4 253.7h0M117.0 249.0h0M114.9 252.9h0M119.6 241.5h0M107.4 255.2h0M117.0 250.7h0M121.4 239.1h0M121.8 249.2h0M119.6 243.0h0M126.1 244.0h0M110.4 255.3h0M118.1 244.5h0M115.5 242.7h0M124.7 248.5h0M114.8 244.4h0M121.6 243.8h0M121.8 239.1h0M122.8 253.1h0M108.2 251.8h0M115.7 241.0h0M113.2 244.8h0M119.9 249.3h0M122.5 245.4h0M108.9 253.7h0M111.3 251.9h0M108.6 250.7h0M120.7 251.5h0M119.1 248.1h0M119.5 243.1h0M112.0 246.5h0M124.4 251.4h0M102.8 253.3h0M109.2 251.9h0M124.7 247.8h0M121.3 248.1h0M113.4 251.0h0M120.3 243.1h0M120.9 250.0h0M104.5 251.4h0M118.8 252.5h0M109.3 245.6h0M123.1 252.8h0M124.4 243.8h0M143.3 261.0h0M104.6 263.7h0M92.4 266.6h0M89.3 264.7h0M96.8 257.2h0M83.7 274.9h0M95.8 260.6h0M95.8 268.5h0M109.1 253.9h0M101.1 263.7h0M109.9 267.9h0M108.6 261.2h0M99.6 269.5h0M101.6 270.6h0M109.4 257.0h0M114.3 259.6h0M100.9 264.5h0M133.1 235.1h0M129.5 241.1h0M129.4 238.9h0M132.9 239.0h0M127.3 238.9h0M125.5 237.9h0M123.6 243.7h0" stroke="#22794e" stroke-width="1.4" stroke-linecap="square"/>
<path d="M114.1 246.5h0M114.9 241.6h0M122.9 240.5h0M127.1 246.7h0M112.5 246.5h0M126.5 243.2h0M115.1 249.0h0M127.5 241.1h0M105.6 250.5h0M115.3 250.1h0M113.3 250.3h0M105.1 255.5h0M110.9 249.4h0M123.2 250.1h0M119.1 240.6h0M114.4 245.6h0M110.1 250.9h0M117.7 239.8h0M124.9 241.6h0M122.6 237.7h0M104.6 251.9h0M126.0 242.7h0M119.5 249.2h0M115.1 240.7h0M107.6 251.9h0M122.9 243.0h0M127.1 245.6h0M119.4 241.9h0M118.6 242.6h0M116.9 251.2h0M118.9 241.8h0M123.0 249.0h0M106.2 248.4h0M105.9 251.2h0M120.7 248.3h0M116.7 242.5h0M118.6 251.8h0M119.0 243.0h0M117.3 246.9h0M109.9 248.9h0M128.0 242.7h0M116.4 248.8h0M114.8 249.0h0M119.8 249.1h0M120.4 238.2h0M111.3 253.8h0M118.7 242.2h0M110.6 245.3h0M119.7 252.4h0M127.0 245.2h0M125.6 245.6h0M115.8 249.0h0M110.4 243.8h0M110.4 252.6h0M115.7 251.4h0M122.4 241.3h0M114.9 248.7h0M112.9 249.3h0M118.1 242.6h0M116.8 247.8h0M122.1 244.4h0M107.9 246.4h0M123.3 238.1h0M123.5 244.8h0M115.2 248.5h0M114.3 247.4h0M106.6 252.6h0M102.0 254.9h0M119.1 244.3h0M126.2 237.1h0M122.4 251.6h0M108.1 247.5h0M125.3 238.5h0M119.3 249.5h0M103.2 250.8h0M109.5 244.9h0M113.8 245.4h0M115.8 241.7h0M116.6 248.7h0M113.9 249.4h0M121.4 240.4h0M102.0 252.6h0M116.5 244.7h0M127.4 237.0h0M115.8 246.7h0M121.6 242.5h0M103.3 253.7h0M121.2 247.9h0M122.4 252.5h0M126.5 238.9h0M109.7 249.4h0M125.8 243.4h0M113.4 252.6h0M111.9 252.4h0M104.7 254.7h0M107.7 250.3h0M124.3 251.9h0M119.6 246.5h0M104.2 255.7h0M116.7 245.6h0M110.3 254.1h0M114.7 248.4h0M125.7 242.8h0M127.5 237.5h0M118.6 243.2h0M121.5 247.4h0M114.8 249.1h0M122.7 238.8h0M124.9 240.3h0M107.9 252.5h0M120.7 241.9h0M118.7 242.9h0M121.3 238.5h0M108.0 247.7h0M117.1 242.1h0M116.0 243.9h0M121.3 246.0h0M124.4 240.4h0M117.5 248.2h0M114.4 244.0h0M126.0 244.4h0M114.2 252.2h0M119.3 242.9h0M125.6 240.8h0M118.0 243.4h0M107.9 253.2h0M111.5 253.3h0M106.3 250.4h0M114.6 241.9h0M121.8 248.2h0M112.9 244.2h0M118.3 249.6h0M109.4 247.2h0M114.9 247.2h0M120.5 237.6h0M126.4 240.1h0M127.5 245.2h0M105.9 255.1h0M123.2 252.6h0M117.8 250.1h0M114.5 252.0h0M125.8 243.4h0M120.7 247.1h0M119.4 249.6h0M116.2 247.2h0M115.6 244.8h0M105.0 254.4h0M112.2 243.5h0M127.8 237.5h0M123.8 240.5h0M122.3 251.4h0M123.4 241.3h0M116.3 242.3h0M112.0 252.3h0M123.2 242.5h0M113.3 244.8h0M126.6 240.5h0M122.4 251.1h0M102.3 253.8h0M115.4 242.4h0M103.2 253.3h0M110.7 254.5h0M124.2 244.9h0M128.1 240.4h0M108.5 248.2h0M118.3 247.6h0M123.5 248.3h0M122.9 241.9h0M120.0 240.1h0M124.3 245.1h0M124.3 244.4h0M112.4 249.6h0M119.9 243.4h0M109.7 244.2h0M123.9 250.6h0M125.5 245.8h0M117.4 245.5h0M125.0 241.5h0M121.5 244.5h0M114.7 252.9h0M115.4 251.6h0M125.9 245.8h0M118.3 249.3h0M115.1 249.0h0M101.9 256.3h0" stroke="#0a6a3a" stroke-width="1.4" stroke-linecap="square"/>
<path d="M117.1 243.7h0M107.6 247.1h0M117.5 248.5h0M108.1 246.9h0M107.0 250.0h0M118.8 251.3h0M112.4 250.5h0M112.4 244.8h0M111.3 253.4h0M114.8 250.0h0M122.5 246.3h0M122.0 240.4h0M117.2 253.0h0M125.8 239.6h0M105.7 252.4h0M104.6 251.5h0M118.7 238.7h0M110.8 245.1h0M113.4 247.6h0M125.5 240.6h0M103.0 252.6h0M127.8 241.3h0M117.4 243.8h0M115.4 252.3h0M107.8 252.3h0M117.6 248.0h0M118.5 245.1h0M107.3 250.5h0M113.2 244.4h0M126.9 244.1h0M120.8 250.5h0M122.7 237.6h0M120.0 244.5h0M107.7 249.4h0M126.2 237.4h0M102.9 253.8h0M123.0 252.0h0M106.8 252.2h0M113.3 245.3h0M122.8 247.9h0M109.2 249.6h0M118.7 246.9h0M118.2 243.3h0M118.5 242.5h0M117.9 241.4h0M126.2 243.7h0M111.8 247.3h0M127.3 242.8h0M111.4 247.8h0M123.1 249.9h0M119.8 248.8h0M108.7 252.4h0M108.4 250.8h0M113.3 244.4h0M123.0 246.7h0M110.2 246.4h0M112.5 247.3h0M125.2 246.7h0M119.1 239.7h0M127.0 243.8h0M123.9 246.5h0M122.4 249.6h0M125.5 249.5h0M116.2 240.2h0M115.3 249.5h0M128.8 256.0h0M91.5 261.6h0M93.4 265.0h0M91.8 267.8h0M110.1 252.2h0M123.1 260.2h0M117.2 243.8h0M104.9 263.6h0M108.7 248.0h0M115.5 265.1h0M111.8 261.8h0M114.3 252.1h0M108.5 252.4h0M113.7 256.3h0M114.1 255.6h0M100.4 268.9h0M110.7 260.1h0M117.0 261.7h0M125.9 241.5h0M135.0 237.5h0M130.4 237.7h0M128.6 237.7h0M135.4 234.6h0M134.5 234.9h0" stroke="#549775" stroke-width="1.4" stroke-linecap="square"/>
<path d="M111.1 249.9h0M121.6 240.5h0M110.1 252.6h0M123.3 241.7h0M118.7 238.8h0M118.0 249.6h0M119.0 245.1h0M102.6 255.5h0M126.2 253.9h0M142.1 261.9h0M120.7 266.9h0M118.5 272.0h0M89.5 271.7h0M97.2 254.2h0M91.1 262.0h0M92.6 263.1h0M92.8 266.4h0M87.6 266.5h0M109.8 266.5h0M99.6 267.2h0M111.4 251.5h0M124.3 256.9h0M112.7 272.8h0M114.9 256.2h0M128.7 237.2h0M135.3 237.9h0M126.6 238.5h0M128.9 237.4h0M135.0 238.7h0" stroke="#6ca689" stroke-width="1.4" stroke-linecap="square"/>
<path d="M121.8 239.8h0M143.2 258.7h0M146.0 270.9h0M136.0 265.2h0M117.2 275.9h0M116.4 267.7h0M109.9 272.5h0M85.3 272.8h0M92.7 261.9h0M86.4 273.0h0M114.3 253.5h0M108.0 268.3h0M119.4 252.0h0M101.8 258.5h0M110.8 267.5h0M116.8 261.9h0M102.9 255.8h0M107.9 261.4h0M105.7 255.6h0M108.1 267.9h0M120.7 259.9h0M109.9 255.2h0M102.2 264.8h0M128.7 240.0h0M132.7 239.7h0M131.1 237.8h0M130.4 237.2h0M133.0 237.3h0" stroke="#84b49c" stroke-width="1.4" stroke-linecap="square"/>
<path d="M142.9 255.5h0M127.1 250.2h0M138.6 271.7h0M137.5 264.1h0M126.9 265.6h0M141.0 265.2h0M143.7 275.2h0M136.6 266.7h0M107.1 270.9h0M102.5 277.7h0M99.9 269.2h0M117.8 261.0h0M91.4 271.8h0M105.2 273.7h0M121.4 257.6h0M109.8 274.7h0M113.4 266.5h0" stroke="#c4dbd0" stroke-width="1.4" stroke-linecap="square"/>
<path d="M144.2 266.4h0M129.0 260.3h0M126.2 253.0h0M132.2 272.0h0M144.9 269.4h0M153.6 289.2h0M122.1 247.1h0M133.8 263.2h0M107.4 275.7h0M106.5 277.5h0M112.9 258.9h0" stroke="#4e9471" stroke-width="1.4" stroke-linecap="square"/>
<path d="M138.8 279.9h0M134.8 265.8h0M130.6 266.3h0M133.4 267.1h0M135.9 265.8h0M99.2 263.8h0M118.5 273.4h0M110.6 273.6h0M106.3 276.3h0" stroke="#98c1ac" stroke-width="1.4" stroke-linecap="square"/>
<path d="M145.1 279.1h0M140.8 266.4h0M110.3 268.0h0M109.6 257.0h0" stroke="#b6d2c4" stroke-width="1.4" stroke-linecap="square"/>
<path d="M126.8 261.9h0M142.6 259.2h0M139.1 272.5h0M106.4 277.2h0" stroke="#bbd5c8" stroke-width="1.4" stroke-linecap="square"/>
<path d="M144.7 276.0h0M145.5 261.2h0M133.7 265.1h0M139.0 273.2h0M121.1 275.7h0M113.5 273.7h0M112.4 265.1h0" stroke="#b1cfc0" stroke-width="1.4" stroke-linecap="square"/>
<path d="M140.0 266.4h0M121.6 252.8h0M115.9 278.3h0" stroke="#89b8a0" stroke-width="1.4" stroke-linecap="square"/>
<path d="M137.7 274.0h0M125.4 255.6h0M146.7 266.4h0M137.2 267.2h0M127.7 247.8h0M129.0 248.2h0M140.5 266.0h0M107.7 272.9h0M108.5 272.7h0M117.7 268.2h0M109.6 259.8h0M113.8 267.3h0" stroke="#d8e7df" stroke-width="1.4" stroke-linecap="square"/>
<path d="M138.2 267.8h0M122.4 244.0h0M146.6 257.8h0M123.2 257.0h0M135.5 267.7h0M140.2 266.0h0M111.3 265.7h0M116.0 266.8h0M108.6 267.6h0M119.5 266.2h0M116.1 279.6h0M119.4 267.0h0" stroke="#a7cab8" stroke-width="1.4" stroke-linecap="square"/>
<path d="M121.6 249.6h0M135.6 261.4h0M144.7 265.9h0M139.4 277.2h0M123.6 255.6h0M142.1 273.8h0M114.8 268.8h0M98.8 277.0h0M110.0 267.0h0M119.1 272.3h0M112.0 273.5h0" stroke="#9dc3b0" stroke-width="1.4" stroke-linecap="square"/>
<path d="M125.6 257.4h0M142.4 263.6h0M139.5 263.8h0M133.5 264.4h0M106.3 262.8h0M130.7 268.5h0" stroke="#cee1d7" stroke-width="1.4" stroke-linecap="square"/>
<path d="M145.8 262.2h0M137.2 271.1h0M118.8 251.2h0M126.9 259.6h0M126.6 256.5h0M145.9 267.3h0M138.7 275.3h0M115.3 279.5h0" stroke="#b5d2c4" stroke-width="1.4" stroke-linecap="square"/>
<path d="M147.6 267.8h0M135.4 262.6h0M135.9 267.4h0M107.5 262.1h0M97.8 268.8h0" stroke="#89b8a1" stroke-width="1.4" stroke-linecap="square"/>
<path d="M120.5 256.0h0M137.8 267.2h0M133.5 272.4h0M126.1 240.0h0M115.3 259.7h0" stroke="#a7c9b8" stroke-width="1.4" stroke-linecap="square"/>
<path d="M141.8 260.9h0M136.8 261.7h0M136.5 263.2h0" stroke="#76ac91" stroke-width="1.4" stroke-linecap="square"/>
<path d="M117.4 251.7h0M137.3 275.6h0M129.5 260.7h0M109.1 265.7h0M103.0 262.1h0" stroke="#c5dbd0" stroke-width="1.4" stroke-linecap="square"/>
<path d="M139.4 261.3h0M147.6 263.3h0M137.2 261.4h0M145.9 269.2h0M117.9 270.8h0" stroke="#7aaf95" stroke-width="1.4" stroke-linecap="square"/>
<path d="M127.7 258.5h0M128.7 253.1h0M144.2 258.3h0M113.8 263.8h0" stroke="#62a081" stroke-width="1.4" stroke-linecap="square"/>
<path d="M110.6 277.9h0M110.1 265.6h0M110.4 279.4h0M108.7 276.3h0" stroke="#e2ede7" stroke-width="1.4" stroke-linecap="square"/>
</g>
<rect x="46.00" y="208.70" width="124.60" height="92.80" fill="none" stroke="#686868" stroke-width="1.35"/>
<path d="M77.15 208.70v4M77.15 301.50v-4M108.30 208.70v4M108.30 301.50v-4M139.45 208.70v4M139.45 301.50v-4M46.00 239.63h4M170.60 239.63h-4M46.00 270.57h4M170.60 270.57h-4" stroke="#686868" stroke-width="0.9"/>
<clipPath id="c03"><rect x="46.00" y="309.60" width="124.60" height="92.70"/></clipPath>
<g clip-path="url(#c03)">
<rect x="46.00" y="309.60" width="124.60" height="92.70" fill="#fff"/>
<path d="M38.21 471.82 L78.08 468.74 C78.01 467.91 77.85 465.49 77.62 463.79 C77.38 462.09 77.28 459.75 76.68 458.54 C76.09 457.33 75.49 457.20 74.03 456.53 C72.58 455.86 69.67 455.55 67.96 454.52 C66.25 453.49 64.66 452.07 63.76 450.35 C62.85 448.62 62.33 446.23 62.51 444.17 C62.69 442.11 63.78 440.08 64.85 437.99 C65.91 435.90 67.96 434.08 68.90 431.66 C69.83 429.23 70.06 426.56 70.45 423.47 C70.84 420.38 70.71 416.85 71.23 413.12 C71.75 409.38 72.87 404.28 73.57 401.06 C74.27 397.85 74.66 396.35 75.44 393.80 C76.22 391.25 77.38 388.32 78.24 385.77 C79.10 383.22 79.82 380.57 80.58 378.51 C81.33 376.45 82.06 374.95 82.76 373.41 C83.46 371.86 84.08 370.76 84.78 369.24 C85.48 367.72 86.24 365.74 86.96 364.29 C87.69 362.85 88.21 361.85 89.14 360.59 C90.08 359.32 91.30 357.98 92.57 356.72 C93.84 355.46 95.42 354.28 96.77 353.01 C98.12 351.75 99.14 350.70 100.67 349.15 C102.20 347.61 104.35 345.37 105.96 343.74 C107.57 342.12 108.87 340.63 110.32 339.42 C111.78 338.21 113.00 337.33 114.69 336.48 C116.37 335.63 118.79 334.89 120.45 334.32 C122.11 333.75 123.25 333.42 124.65 333.08 C126.06 332.75 128.16 332.44 128.86 332.31 L134.00 333.55 L132.91 323.97 L132.75 322.89 L131.20 322.27 L131.04 320.11 L132.44 319.33 L131.66 314.24 L131.20 301.88 L38.21 301.88Z" fill="#e6e6e6"/>
<path d="M132.75 301.88 L133.06 310.37 L140.54 329.22 L142.88 346.06 L142.88 347.14 L152.84 346.37 L151.13 327.83 L159.23 327.37 L159.23 333.55 L163.28 333.55 L163.28 326.13 L170.91 324.43 L174.18 329.22 L168.73 333.55 L169.82 334.94 L184.46 328.76 L185.86 328.14 L189.13 328.76 L191.31 329.53 L195.36 327.06 L198.95 324.12 L201.13 320.57 L209.54 316.55 L209.54 301.88Z" fill="#e6e6e6"/>
<path d="M130.26 348.84 L137.74 342.97 L138.67 344.52 L139.45 348.84 L141.63 352.71 L142.10 355.33 L140.54 358.11 L136.65 360.59 L132.29 362.59 L130.26 361.51 L131.82 359.19 L132.44 355.80 L133.06 352.24 L131.35 350.08Z" fill="#e6e6e6"/>
<path d="M78.08 468.74 C78.01 467.91 77.85 465.49 77.62 463.79 C77.38 462.09 77.28 459.75 76.68 458.54 C76.09 457.33 75.49 457.20 74.03 456.53 C72.58 455.86 69.67 455.55 67.96 454.52 C66.25 453.49 64.66 452.07 63.76 450.35 C62.85 448.62 62.33 446.23 62.51 444.17 C62.69 442.11 63.78 440.08 64.85 437.99 C65.91 435.90 67.96 434.08 68.90 431.66 C69.83 429.23 70.06 426.56 70.45 423.47 C70.84 420.38 70.71 416.85 71.23 413.12 C71.75 409.38 72.87 404.28 73.57 401.06 C74.27 397.85 74.66 396.35 75.44 393.80 C76.22 391.25 77.38 388.32 78.24 385.77 C79.10 383.22 79.82 380.57 80.58 378.51 C81.33 376.45 82.06 374.95 82.76 373.41 C83.46 371.86 84.08 370.76 84.78 369.24 C85.48 367.72 86.24 365.74 86.96 364.29 C87.69 362.85 88.21 361.85 89.14 360.59 C90.08 359.32 91.30 357.98 92.57 356.72 C93.84 355.46 95.42 354.28 96.77 353.01 C98.12 351.75 99.14 350.70 100.67 349.15 C102.20 347.61 104.35 345.37 105.96 343.74 C107.57 342.12 108.87 340.63 110.32 339.42 C111.78 338.21 113.00 337.33 114.69 336.48 C116.37 335.63 118.79 334.89 120.45 334.32 C122.11 333.75 123.25 333.42 124.65 333.08 C126.06 332.75 128.16 332.44 128.86 332.31 L134.00 333.55 L132.91 323.97 L132.75 322.89 L131.20 322.27 L131.04 320.11 L132.44 319.33 L131.66 314.24 L131.20 301.88" fill="none" stroke="#8c8c8c" stroke-width="0.8" stroke-linejoin="round"/>
<path d="M132.75 301.88 L133.06 310.37 L140.54 329.22 L142.88 346.06 L142.88 347.14 L152.84 346.37 L151.13 327.83 L159.23 327.37 L159.23 333.55 L163.28 333.55 L163.28 326.13 L170.91 324.43 L174.18 329.22 L168.73 333.55 L169.82 334.94 L184.46 328.76 L185.86 328.14 L189.13 328.76 L191.31 329.53 L195.36 327.06 L198.95 324.12 L201.13 320.57 L209.54 316.55 L209.54 301.88" fill="none" stroke="#8c8c8c" stroke-width="0.8" stroke-linejoin="round"/>
<path d="M152.84 346.37 L171.38 343.74" fill="none" stroke="#8c8c8c" stroke-width="0.8" stroke-linejoin="round"/>
<path d="M191.31 329.53 C191.39 330.07 192.07 331.87 191.78 332.78 C191.50 333.68 190.90 334.14 189.60 334.94 C188.30 335.74 184.93 337.13 183.99 337.56" fill="none" stroke="#8c8c8c" stroke-width="0.8" stroke-linejoin="round"/>
<path d="M128.86 332.31 C128.99 332.96 129.33 335.22 129.64 336.17 C129.95 337.13 130.23 337.72 130.73 338.03 C131.22 338.34 132.05 338.39 132.60 338.03 C133.14 337.67 133.77 336.61 134.00 335.87 C134.23 335.12 134.00 333.93 134.00 333.55" fill="none" stroke="#8c8c8c" stroke-width="0.8" stroke-linejoin="round"/>
<path d="M130.26 348.84 L137.74 342.97 L138.67 344.52 L139.45 348.84 L141.63 352.71 L142.10 355.33 L140.54 358.11 L136.65 360.59 L132.29 362.59 L130.26 361.51 L131.82 359.19 L132.44 355.80 L133.06 352.24 L131.35 350.08Z" fill="none" stroke="#8c8c8c" stroke-width="0.8" stroke-linejoin="round"/>
<path d="M130.26 348.84 C129.79 348.87 128.21 348.48 127.46 349.00 C126.70 349.51 125.93 350.88 125.74 351.93 C125.56 352.99 125.72 354.30 126.37 355.33 C127.02 356.36 129.09 357.65 129.64 358.11" fill="none" stroke="#8c8c8c" stroke-width="0.8" stroke-linejoin="round"/>
<path d="M113.13 364.76 C113.83 364.50 115.93 363.26 117.33 363.21 C118.74 363.16 120.27 363.73 121.54 364.45 C122.81 365.17 124.24 366.38 124.97 367.54 C125.69 368.70 126.03 370.06 125.90 371.40 C125.77 372.74 125.04 374.39 124.19 375.57 C123.33 376.76 121.33 378.02 120.76 378.51" fill="none" stroke="#a6a6a6" stroke-width="1.6"/>
<path d="M105.81 369.55 C105.44 370.11 104.04 371.86 103.63 372.94 C103.21 374.03 103.06 374.80 103.32 376.04 C103.58 377.27 104.35 379.25 105.19 380.36 C106.02 381.47 107.29 382.19 108.30 382.68 C109.31 383.17 110.17 383.30 111.26 383.30 C112.35 383.30 113.78 383.04 114.84 382.68 C115.91 382.32 117.18 381.39 117.64 381.13" fill="none" stroke="#a6a6a6" stroke-width="1.6"/>
<path d="M120.2 346.5h0M124.3 343.0h0M110.3 348.8h0M118.2 344.0h0M120.1 346.7h0M108.2 351.1h0M106.2 355.0h0M116.8 356.1h0M117.1 344.0h0M108.9 349.4h0M111.9 346.6h0M112.1 351.6h0M110.9 355.1h0M107.1 356.6h0M119.3 345.3h0M111.5 350.9h0M118.8 345.3h0M118.7 343.6h0M120.7 344.2h0M114.5 351.9h0M106.9 356.3h0M126.0 337.7h0M120.4 343.3h0M111.1 349.1h0M112.0 349.6h0M107.5 348.8h0M115.8 343.6h0M107.4 355.5h0M118.5 349.1h0M109.9 351.3h0M97.9 356.1h0M109.1 353.0h0M107.0 357.7h0M120.7 343.4h0M119.3 341.8h0M112.8 350.9h0M114.3 347.6h0M116.9 343.4h0M109.4 349.2h0M115.4 349.0h0M118.7 352.2h0M122.1 339.4h0M99.7 357.1h0M117.7 342.4h0M119.3 353.4h0M123.3 344.1h0M122.9 339.1h0M101.9 354.6h0M103.9 355.2h0M113.5 349.7h0M104.1 358.7h0M103.8 354.7h0M117.4 345.0h0M118.0 345.0h0M112.2 346.9h0M106.9 348.9h0M121.6 352.3h0M119.3 341.0h0M115.8 344.5h0M121.0 351.6h0M116.4 348.1h0M117.0 346.7h0M104.8 354.2h0M123.7 338.3h0M105.7 352.0h0M120.2 341.9h0M117.6 342.0h0M120.4 350.7h0M117.4 352.4h0M119.5 345.1h0M121.3 346.9h0M121.9 338.8h0M114.3 345.6h0M118.3 351.2h0M123.7 342.5h0M119.6 351.1h0M116.2 349.9h0M122.1 339.5h0M114.7 354.8h0M103.1 351.9h0M128.7 337.1h0M108.2 349.0h0M121.1 343.3h0M118.6 348.7h0M121.9 339.9h0M124.6 337.7h0M120.7 342.4h0M99.8 357.6h0M99.2 355.6h0M120.7 344.7h0M115.0 344.1h0M127.1 339.3h0M114.4 351.3h0M115.1 355.0h0M104.9 358.6h0M108.5 355.7h0M100.7 356.4h0M110.9 352.7h0M121.8 344.9h0M118.9 346.2h0M119.2 348.6h0M112.2 354.2h0M105.0 352.1h0M113.3 353.1h0M109.0 349.5h0M123.6 337.7h0M109.4 349.2h0M103.9 356.8h0M112.3 350.2h0M111.9 344.6h0M121.3 344.5h0M108.4 353.1h0M109.2 354.5h0M121.4 346.8h0M107.8 348.8h0M118.2 349.3h0M107.5 349.6h0M114.4 345.9h0M120.7 338.8h0M122.9 341.2h0M122.6 347.5h0M116.5 348.1h0M117.7 345.5h0M105.5 352.2h0M117.6 342.4h0M117.4 345.5h0M106.9 357.8h0M108.1 351.5h0M111.6 350.3h0M126.6 340.1h0M106.4 358.7h0M109.6 348.2h0M101.0 354.4h0M122.0 339.3h0M110.8 349.5h0M114.8 346.5h0M116.5 345.1h0M123.6 337.8h0M116.5 342.1h0M118.2 345.3h0M108.6 351.4h0M121.8 338.2h0M122.5 344.9h0M119.6 351.1h0M125.7 342.5h0M115.5 344.4h0M117.8 340.1h0M116.6 343.3h0M108.4 352.8h0M121.4 339.5h0M116.5 353.4h0M115.3 351.6h0M120.3 346.8h0M115.6 353.5h0M112.6 351.8h0M112.6 353.7h0M117.9 345.1h0M123.0 338.6h0M117.3 352.3h0M118.4 345.0h0M110.6 356.9h0M113.2 346.3h0M116.9 354.3h0M115.3 349.1h0M125.0 338.8h0M113.6 345.7h0M113.1 352.0h0M117.4 342.2h0M119.1 350.7h0M101.6 353.7h0M122.5 344.6h0M112.4 350.0h0M113.1 345.7h0M119.1 347.4h0M116.2 346.7h0M109.3 357.2h0M122.6 342.8h0M118.4 346.9h0M121.0 340.2h0M119.8 348.1h0M105.0 357.0h0M101.3 354.5h0M103.1 355.3h0M103.9 357.8h0M115.6 352.3h0M110.8 352.7h0M123.9 342.4h0M115.1 354.7h0M118.1 349.7h0M114.8 349.9h0M113.1 352.5h0M109.7 353.1h0M107.9 353.5h0M120.0 344.5h0M118.7 355.2h0M122.2 340.0h0M117.1 352.2h0M115.9 345.5h0M123.9 342.0h0M111.0 347.3h0M120.5 347.1h0M120.4 353.8h0M115.5 345.3h0M106.1 352.4h0M118.8 343.3h0M119.5 345.8h0M121.4 347.5h0M127.3 337.6h0M122.9 340.3h0M122.2 340.4h0M116.1 353.9h0M118.4 352.0h0M112.6 348.8h0M114.2 349.5h0M117.5 349.2h0M123.5 340.9h0M108.5 355.4h0M128.5 337.1h0M104.3 356.0h0M116.5 347.8h0M117.5 354.4h0M123.5 342.3h0M122.5 342.2h0M112.9 355.1h0M115.6 345.1h0M122.3 339.2h0M116.5 346.6h0M110.7 353.0h0M117.9 345.3h0M115.2 352.5h0M120.7 346.4h0M116.1 348.8h0M123.6 338.7h0M120.3 345.7h0M103.6 356.6h0M119.9 346.8h0M104.0 352.2h0M122.3 340.3h0M116.2 343.2h0M126.6 337.4h0M112.3 351.8h0M116.8 341.7h0M105.9 353.7h0M107.9 353.3h0M116.8 356.0h0M120.5 348.2h0M117.4 342.4h0M107.8 349.2h0M123.0 340.6h0M116.2 354.1h0M106.3 349.3h0M116.1 346.4h0M106.5 350.7h0M103.3 352.8h0M113.5 346.8h0M117.8 340.9h0M98.8 358.3h0M105.7 353.3h0M115.2 350.5h0M119.3 346.7h0M120.0 350.3h0M116.4 348.4h0M114.4 351.9h0M114.6 353.6h0M114.9 343.1h0M122.8 347.6h0M90.4 361.2h0M94.0 363.5h0M90.1 366.0h0M89.9 368.6h0M95.0 364.4h0M95.2 365.2h0M87.8 373.0h0M92.3 362.8h0M85.8 372.4h0M91.7 363.5h0M87.9 368.1h0M86.2 371.4h0M113.9 371.8h0M114.8 366.3h0M128.6 342.8h0M126.6 341.8h0M121.1 343.0h0" stroke="#22794e" stroke-width="1.4" stroke-linecap="square"/>
<path d="M111.2 347.2h0M123.5 347.2h0M112.9 351.6h0M121.1 338.6h0M108.8 354.2h0M122.4 346.3h0M119.5 342.8h0M111.1 345.8h0M116.3 351.1h0M114.5 341.1h0M126.5 337.9h0M121.4 339.5h0M116.2 351.7h0M120.6 342.9h0M119.0 350.4h0M112.2 352.0h0M113.5 352.1h0M120.1 346.7h0M105.0 351.9h0M98.2 358.5h0M115.5 348.1h0M115.0 349.0h0M117.1 345.9h0M117.0 343.3h0M118.6 353.6h0M124.9 342.3h0M110.0 347.1h0M114.5 346.4h0M118.2 345.9h0M115.5 344.0h0M119.5 347.3h0M116.4 346.2h0M115.1 350.5h0M115.7 344.8h0M120.0 345.1h0M117.0 342.9h0M109.5 352.1h0M119.7 346.3h0M124.9 343.4h0M121.2 343.6h0M127.0 337.3h0M106.5 352.0h0M120.7 341.6h0M123.4 344.9h0M124.1 340.2h0M113.3 351.6h0M114.3 352.7h0M117.6 346.5h0M117.5 346.9h0M111.1 355.1h0M120.4 343.3h0M117.3 342.9h0M114.7 355.3h0M118.1 344.5h0M121.5 352.9h0M117.3 342.8h0M118.0 351.2h0M114.8 347.8h0M119.6 340.2h0M121.7 342.5h0M115.2 342.8h0M114.3 345.9h0M116.1 352.4h0M117.7 343.8h0M125.3 341.4h0M118.1 345.8h0M116.4 352.2h0M105.7 356.2h0M122.2 352.8h0M121.7 341.4h0M103.8 354.7h0M113.2 347.5h0M121.5 344.2h0M119.6 342.8h0M125.8 336.8h0M110.8 348.7h0M116.5 344.5h0M121.3 350.0h0M113.6 356.7h0M106.4 355.7h0M119.8 350.7h0M114.4 342.5h0M124.3 339.2h0M121.6 342.8h0M115.0 342.7h0M110.4 353.0h0M115.6 348.7h0M112.6 348.5h0M118.1 350.5h0M111.9 355.0h0M110.7 344.9h0M97.7 359.0h0M114.2 344.7h0M117.4 345.4h0M118.1 343.5h0M116.5 353.8h0M117.5 340.0h0M120.0 350.4h0M110.4 352.2h0M111.6 354.7h0M119.8 342.6h0M121.1 342.6h0M110.1 352.5h0M102.6 353.0h0M121.6 346.8h0M109.9 354.7h0M115.5 346.9h0M103.3 354.7h0M115.0 348.5h0M116.7 354.8h0M104.4 354.3h0M101.3 352.3h0M125.8 339.5h0M111.9 347.1h0M105.0 354.6h0M121.1 345.0h0M121.5 348.2h0M114.5 348.0h0M110.2 352.9h0M121.3 349.9h0M105.7 355.8h0M126.5 338.8h0M121.1 345.4h0M118.2 347.3h0M108.3 357.7h0M117.3 347.7h0M107.0 348.5h0M127.0 339.8h0M122.4 346.4h0M121.2 343.9h0M112.0 354.3h0M105.0 353.6h0M120.9 339.0h0M122.3 346.7h0M118.4 345.2h0M120.8 345.2h0M107.3 355.8h0M117.2 350.6h0M112.3 350.9h0M126.0 339.1h0M121.8 347.8h0M112.5 347.0h0M117.5 351.5h0M104.0 354.6h0M119.5 341.1h0M108.5 357.2h0M117.0 346.3h0M112.1 354.0h0M120.8 352.7h0M113.8 348.5h0M116.9 345.3h0M114.6 352.3h0M112.3 355.5h0M116.2 343.6h0M118.0 344.6h0M111.5 355.5h0M99.9 356.7h0" stroke="#0a6a3a" stroke-width="1.4" stroke-linecap="square"/>
<path d="M103.5 359.0h0M115.8 342.9h0M109.6 351.3h0M107.1 353.5h0M112.0 356.3h0M118.0 347.2h0M114.6 349.5h0M121.7 343.5h0M114.1 348.5h0M120.6 338.4h0M115.3 356.1h0M121.8 348.2h0M105.3 355.2h0M109.3 352.3h0M113.2 355.7h0M119.6 351.6h0M116.6 349.3h0M125.6 337.9h0M114.3 352.5h0M119.0 346.4h0M106.6 355.1h0M122.5 347.4h0M103.8 355.8h0M111.9 353.6h0M111.7 350.1h0M116.2 345.7h0M121.1 348.9h0M109.9 348.5h0M105.0 351.5h0M102.6 354.4h0M115.0 351.7h0M124.9 337.5h0M101.9 353.0h0M110.8 355.2h0M111.9 346.1h0M111.6 354.2h0M107.8 352.9h0M119.8 343.7h0M109.7 352.6h0M112.7 351.9h0M87.9 368.3h0M96.0 360.5h0M86.6 374.1h0M93.3 362.4h0M89.1 373.1h0M94.0 365.0h0M87.6 367.2h0M89.6 363.4h0M88.7 371.8h0M90.3 366.4h0M89.2 366.2h0M94.7 364.6h0M92.8 359.4h0M90.1 364.6h0M90.8 364.8h0M89.8 368.5h0M93.4 365.3h0M90.3 366.3h0M87.1 370.0h0M94.7 362.6h0M88.8 369.1h0M89.6 368.7h0M130.3 369.8h0" stroke="#549775" stroke-width="1.4" stroke-linecap="square"/>
<path d="M101.2 357.3h0M109.6 355.2h0M112.7 352.2h0M122.5 341.1h0M105.3 352.8h0M117.8 346.5h0M111.4 344.4h0M121.8 340.0h0M114.0 351.4h0M117.8 347.1h0M122.0 343.7h0M126.0 337.8h0M105.2 350.3h0M115.3 347.9h0M117.4 348.2h0M108.3 353.1h0M118.7 348.2h0M121.8 340.9h0M125.4 339.1h0M117.8 343.0h0M106.8 358.1h0M119.4 338.6h0M110.1 351.8h0M107.0 355.6h0M106.6 354.1h0M115.9 343.0h0M112.0 351.7h0M121.7 348.4h0M105.2 354.5h0M119.1 345.7h0M111.8 351.1h0M115.7 347.7h0M125.4 336.1h0M110.2 350.2h0M125.8 340.5h0M115.0 341.9h0M102.7 354.7h0M106.5 354.1h0M114.0 349.8h0M114.7 354.7h0M117.7 348.1h0M113.3 353.2h0M114.8 343.7h0M120.7 339.2h0M126.9 337.2h0M95.2 358.1h0M126.1 340.8h0M120.3 341.3h0M115.2 352.3h0M119.1 349.6h0M106.9 352.3h0M123.7 341.8h0M120.2 348.5h0M112.0 354.5h0M105.7 352.3h0M108.4 354.9h0M121.6 342.7h0M113.4 351.6h0M111.5 353.1h0M112.3 357.5h0M114.3 350.3h0M118.9 348.2h0M122.0 338.6h0M110.5 353.0h0M113.0 347.3h0M114.4 353.2h0M116.8 348.0h0M119.4 348.8h0M112.0 352.2h0M121.6 346.3h0M112.8 356.6h0M119.4 343.5h0M114.9 343.8h0M119.3 342.0h0M109.8 345.7h0M116.4 343.5h0M125.3 339.6h0M115.9 345.3h0M119.2 342.6h0M118.1 341.3h0M104.9 350.4h0M114.6 350.1h0M119.7 347.2h0M117.3 345.8h0M118.6 349.0h0M114.5 346.8h0M122.6 341.9h0M122.6 342.7h0M120.8 346.8h0M112.1 356.6h0M123.4 341.1h0M116.7 344.9h0M119.0 351.8h0M123.3 342.0h0M124.3 343.6h0M117.7 348.8h0M120.8 341.6h0M120.1 351.0h0M125.2 337.5h0M113.4 344.2h0M111.1 346.8h0M112.7 351.7h0M123.9 338.8h0M117.8 341.7h0M104.5 353.7h0M116.7 342.7h0M118.4 344.2h0M112.0 346.0h0M117.1 342.3h0M104.7 355.3h0M110.1 354.6h0M110.9 348.1h0M115.2 351.5h0M119.7 344.8h0M111.0 350.6h0M119.2 353.1h0M120.9 339.3h0M125.4 337.1h0M105.0 355.1h0M107.9 349.0h0M119.3 346.2h0M111.8 355.8h0M106.1 352.3h0M123.8 340.5h0M121.3 344.4h0M108.8 347.4h0M100.6 356.1h0M123.8 340.2h0M114.0 350.3h0M117.9 342.0h0M121.7 348.9h0M110.9 346.8h0M115.3 355.6h0M111.3 347.8h0M97.6 356.5h0M119.7 343.0h0M116.4 344.7h0M110.4 350.7h0M115.9 347.5h0M123.5 342.0h0M119.9 348.5h0M106.2 350.2h0M88.1 364.9h0M93.9 360.5h0M91.8 362.5h0M89.0 370.5h0M91.5 362.2h0M96.0 360.5h0M86.6 375.1h0M83.1 377.7h0M88.3 368.4h0M89.5 363.8h0M89.5 372.0h0M89.6 364.0h0M89.5 365.3h0M95.6 359.7h0M91.0 360.8h0M142.7 374.4h0M103.9 362.7h0M128.3 367.7h0" stroke="#3b8861" stroke-width="1.4" stroke-linecap="square"/>
<path d="M105.5 355.6h0M112.8 346.2h0M110.4 351.2h0M107.6 351.3h0M118.8 346.2h0M119.9 346.3h0M121.2 345.2h0M106.7 355.9h0M104.4 353.5h0M119.4 341.0h0M106.0 350.8h0M87.4 366.8h0M89.8 366.6h0M91.0 362.3h0M93.0 367.9h0M90.0 362.9h0M96.2 360.9h0M88.1 370.8h0M90.5 363.1h0M90.0 373.3h0M92.7 361.5h0M87.6 369.6h0M107.0 374.6h0M113.8 360.7h0M111.1 358.1h0M117.3 367.1h0M134.9 338.2h0M128.4 348.4h0M132.2 340.4h0" stroke="#6ca689" stroke-width="1.4" stroke-linecap="square"/>
<path d="M107.9 356.3h0M123.4 338.5h0M120.0 348.4h0M110.2 345.2h0M92.5 367.5h0M86.9 371.7h0M87.6 368.3h0M85.0 377.1h0M85.9 373.7h0M88.8 365.1h0M95.9 360.7h0M94.3 364.1h0M91.1 360.9h0M95.6 365.0h0M124.3 362.2h0M113.3 371.3h0M123.4 361.0h0M118.9 365.7h0" stroke="#84b49c" stroke-width="1.4" stroke-linecap="square"/>
<path d="M112.8 359.3h0M113.0 378.7h0M94.6 372.5h0M118.2 374.5h0M140.0 364.2h0M118.0 372.9h0M114.6 376.1h0M106.4 378.4h0M124.9 342.6h0M131.6 342.8h0M125.5 344.7h0" stroke="#b1cfc0" stroke-width="1.4" stroke-linecap="square"/>
<path d="M140.1 364.6h0M104.5 373.0h0M127.0 359.7h0M136.4 367.7h0M130.2 339.3h0M129.0 346.9h0M126.9 342.7h0" stroke="#7aaf95" stroke-width="1.4" stroke-linecap="square"/>
<path d="M124.9 362.4h0M99.7 356.7h0M120.8 377.9h0M122.7 361.4h0M138.2 342.9h0M128.8 342.5h0M118.9 349.0h0" stroke="#9dc3b0" stroke-width="1.4" stroke-linecap="square"/>
<path d="M103.9 359.8h0M107.7 373.5h0M121.1 373.6h0M99.0 371.0h0M94.9 369.8h0M130.7 370.0h0M106.4 357.1h0M121.7 350.5h0M126.1 345.7h0" stroke="#d8e7df" stroke-width="1.4" stroke-linecap="square"/>
<path d="M108.7 368.5h0M129.5 368.9h0M128.6 367.4h0M110.0 366.2h0M139.7 380.8h0M122.9 347.0h0M131.7 339.7h0" stroke="#a7cab8" stroke-width="1.4" stroke-linecap="square"/>
<path d="M109.6 362.5h0M113.7 360.7h0M115.8 373.1h0M122.8 345.2h0M134.7 342.9h0M135.4 341.8h0" stroke="#62a081" stroke-width="1.4" stroke-linecap="square"/>
<path d="M123.0 373.9h0M104.4 366.2h0M133.2 340.4h0M130.8 342.0h0" stroke="#a7c9b8" stroke-width="1.4" stroke-linecap="square"/>
<path d="M128.6 370.8h0M102.2 374.5h0M139.0 366.6h0M115.5 378.6h0M107.2 372.2h0M134.2 335.7h0M135.9 340.6h0M128.0 346.2h0" stroke="#b5d2c4" stroke-width="1.4" stroke-linecap="square"/>
<path d="M119.6 362.1h0M100.0 369.9h0M130.5 342.4h0" stroke="#cee1d7" stroke-width="1.4" stroke-linecap="square"/>
<path d="M112.7 370.5h0M99.5 364.0h0M118.0 358.3h0M112.0 377.9h0" stroke="#d3e4dc" stroke-width="1.4" stroke-linecap="square"/>
<path d="M116.8 360.5h0M108.2 374.2h0M117.5 376.9h0M131.6 341.8h0" stroke="#bbd5c8" stroke-width="1.4" stroke-linecap="square"/>
<path d="M97.5 370.7h0M133.2 369.4h0M118.3 380.2h0M128.8 371.3h0M127.0 345.1h0" stroke="#4e9471" stroke-width="1.4" stroke-linecap="square"/>
<path d="M119.7 370.4h0M103.1 355.6h0M107.3 359.8h0M131.7 342.3h0M126.6 347.9h0" stroke="#98c1ac" stroke-width="1.4" stroke-linecap="square"/>
<path d="M117.9 371.7h0M117.6 368.9h0" stroke="#b6d2c4" stroke-width="1.4" stroke-linecap="square"/>
<path d="M119.5 369.0h0M122.8 346.7h0" stroke="#89b8a1" stroke-width="1.4" stroke-linecap="square"/>
<path d="M125.7 363.6h0M100.5 367.9h0M128.3 343.6h0" stroke="#c5dbd0" stroke-width="1.4" stroke-linecap="square"/>
<path d="M118.5 367.0h0M122.0 360.3h0M95.9 366.1h0M118.8 374.1h0M126.9 373.2h0M128.4 371.3h0M124.7 384.8h0M119.8 358.4h0M145.1 374.1h0M118.4 367.5h0M124.1 343.1h0M139.5 332.8h0" stroke="#c4dbd0" stroke-width="1.4" stroke-linecap="square"/>
<path d="M127.4 378.2h0M112.8 373.0h0M107.5 377.8h0M133.3 341.6h0M135.0 339.8h0" stroke="#89b8a0" stroke-width="1.4" stroke-linecap="square"/>
<path d="M122.2 378.7h0M114.0 377.0h0M126.2 378.3h0M121.8 370.9h0M126.3 339.9h0M129.3 341.1h0" stroke="#76ac91" stroke-width="1.4" stroke-linecap="square"/>
</g>
<rect x="46.00" y="309.60" width="124.60" height="92.70" fill="none" stroke="#686868" stroke-width="1.35"/>
<path d="M77.15 309.60v4M77.15 402.30v-4M108.30 309.60v4M108.30 402.30v-4M139.45 309.60v4M139.45 402.30v-4M46.00 340.50h4M170.60 340.50h-4M46.00 371.40h4M170.60 371.40h-4" stroke="#686868" stroke-width="0.9"/>
<clipPath id="c04"><rect x="46.00" y="410.60" width="124.60" height="93.00"/></clipPath>
<g clip-path="url(#c04)">
<rect x="46.00" y="410.60" width="124.60" height="93.00" fill="#fff"/>
<path d="M38.21 573.35 L78.08 570.25 C78.01 569.42 77.85 567.00 77.62 565.29 C77.38 563.58 77.28 561.23 76.68 560.02 C76.09 558.81 75.49 558.68 74.03 558.00 C72.58 557.33 69.67 557.02 67.96 555.99 C66.25 554.96 64.66 553.54 63.76 551.81 C62.85 550.07 62.33 547.67 62.51 545.61 C62.69 543.54 63.78 541.50 64.85 539.40 C65.91 537.31 67.96 535.48 68.90 533.05 C69.83 530.62 70.06 527.94 70.45 524.84 C70.84 521.74 70.71 518.20 71.23 514.45 C71.75 510.70 72.87 505.59 73.57 502.36 C74.27 499.13 74.66 497.63 75.44 495.08 C76.22 492.52 77.38 489.57 78.24 487.01 C79.10 484.46 79.82 481.80 80.58 479.73 C81.33 477.66 82.06 476.17 82.76 474.62 C83.46 473.06 84.08 471.95 84.78 470.43 C85.48 468.91 86.24 466.92 86.96 465.47 C87.69 464.02 88.21 463.02 89.14 461.75 C90.08 460.48 91.30 459.14 92.57 457.88 C93.84 456.61 95.42 455.42 96.77 454.16 C98.12 452.89 99.14 451.83 100.67 450.28 C102.20 448.73 104.35 446.48 105.96 444.86 C107.57 443.23 108.87 441.73 110.32 440.52 C111.78 439.30 113.00 438.42 114.69 437.57 C116.37 436.72 118.79 435.97 120.45 435.40 C122.11 434.83 123.25 434.50 124.65 434.16 C126.06 433.82 128.16 433.51 128.86 433.39 L134.00 434.62 L132.91 425.02 L132.75 423.93 L131.20 423.31 L131.04 421.14 L132.44 420.37 L131.66 415.25 L131.20 402.85 L38.21 402.85Z" fill="#e6e6e6"/>
<path d="M132.75 402.85 L133.06 411.38 L140.54 430.29 L142.88 447.18 L142.88 448.27 L152.84 447.49 L151.13 428.89 L159.23 428.43 L159.23 434.62 L163.28 434.62 L163.28 427.19 L170.91 425.48 L174.18 430.29 L168.73 434.62 L169.82 436.02 L184.46 429.82 L185.86 429.20 L189.13 429.82 L191.31 430.60 L195.36 428.12 L198.95 425.17 L201.13 421.61 L209.54 417.58 L209.54 402.85Z" fill="#e6e6e6"/>
<path d="M130.26 449.97 L137.74 444.08 L138.67 445.63 L139.45 449.97 L141.63 453.85 L142.10 456.48 L140.54 459.27 L136.65 461.75 L132.29 463.77 L130.26 462.68 L131.82 460.36 L132.44 456.95 L133.06 453.38 L131.35 451.21Z" fill="#e6e6e6"/>
<path d="M78.08 570.25 C78.01 569.42 77.85 567.00 77.62 565.29 C77.38 563.58 77.28 561.23 76.68 560.02 C76.09 558.81 75.49 558.68 74.03 558.00 C72.58 557.33 69.67 557.02 67.96 555.99 C66.25 554.96 64.66 553.54 63.76 551.81 C62.85 550.07 62.33 547.67 62.51 545.61 C62.69 543.54 63.78 541.50 64.85 539.40 C65.91 537.31 67.96 535.48 68.90 533.05 C69.83 530.62 70.06 527.94 70.45 524.84 C70.84 521.74 70.71 518.20 71.23 514.45 C71.75 510.70 72.87 505.59 73.57 502.36 C74.27 499.13 74.66 497.63 75.44 495.08 C76.22 492.52 77.38 489.57 78.24 487.01 C79.10 484.46 79.82 481.80 80.58 479.73 C81.33 477.66 82.06 476.17 82.76 474.62 C83.46 473.06 84.08 471.95 84.78 470.43 C85.48 468.91 86.24 466.92 86.96 465.47 C87.69 464.02 88.21 463.02 89.14 461.75 C90.08 460.48 91.30 459.14 92.57 457.88 C93.84 456.61 95.42 455.42 96.77 454.16 C98.12 452.89 99.14 451.83 100.67 450.28 C102.20 448.73 104.35 446.48 105.96 444.86 C107.57 443.23 108.87 441.73 110.32 440.52 C111.78 439.30 113.00 438.42 114.69 437.57 C116.37 436.72 118.79 435.97 120.45 435.40 C122.11 434.83 123.25 434.50 124.65 434.16 C126.06 433.82 128.16 433.51 128.86 433.39 L134.00 434.62 L132.91 425.02 L132.75 423.93 L131.20 423.31 L131.04 421.14 L132.44 420.37 L131.66 415.25 L131.20 402.85" fill="none" stroke="#8c8c8c" stroke-width="0.8" stroke-linejoin="round"/>
<path d="M132.75 402.85 L133.06 411.38 L140.54 430.29 L142.88 447.18 L142.88 448.27 L152.84 447.49 L151.13 428.89 L159.23 428.43 L159.23 434.62 L163.28 434.62 L163.28 427.19 L170.91 425.48 L174.18 430.29 L168.73 434.62 L169.82 436.02 L184.46 429.82 L185.86 429.20 L189.13 429.82 L191.31 430.60 L195.36 428.12 L198.95 425.17 L201.13 421.61 L209.54 417.58 L209.54 402.85" fill="none" stroke="#8c8c8c" stroke-width="0.8" stroke-linejoin="round"/>
<path d="M152.84 447.49 L171.38 444.86" fill="none" stroke="#8c8c8c" stroke-width="0.8" stroke-linejoin="round"/>
<path d="M191.31 430.60 C191.39 431.14 192.07 432.95 191.78 433.85 C191.50 434.75 190.90 435.22 189.60 436.02 C188.30 436.82 184.93 438.22 183.99 438.66" fill="none" stroke="#8c8c8c" stroke-width="0.8" stroke-linejoin="round"/>
<path d="M128.86 433.39 C128.99 434.03 129.33 436.30 129.64 437.26 C129.95 438.22 130.23 438.81 130.73 439.12 C131.22 439.43 132.05 439.48 132.60 439.12 C133.14 438.76 133.77 437.70 134.00 436.95 C134.23 436.20 134.00 435.01 134.00 434.62" fill="none" stroke="#8c8c8c" stroke-width="0.8" stroke-linejoin="round"/>
<path d="M130.26 449.97 L137.74 444.08 L138.67 445.63 L139.45 449.97 L141.63 453.85 L142.10 456.48 L140.54 459.27 L136.65 461.75 L132.29 463.77 L130.26 462.68 L131.82 460.36 L132.44 456.95 L133.06 453.38 L131.35 451.21Z" fill="none" stroke="#8c8c8c" stroke-width="0.8" stroke-linejoin="round"/>
<path d="M130.26 449.97 C129.79 450.00 128.21 449.61 127.46 450.12 C126.70 450.64 125.93 452.01 125.74 453.07 C125.56 454.13 125.72 455.45 126.37 456.48 C127.02 457.51 129.09 458.81 129.64 459.27" fill="none" stroke="#8c8c8c" stroke-width="0.8" stroke-linejoin="round"/>
<path d="M113.13 465.94 C113.83 465.68 115.93 464.44 117.33 464.39 C118.74 464.33 120.27 464.90 121.54 465.62 C122.81 466.35 124.24 467.56 124.97 468.73 C125.69 469.89 126.03 471.26 125.90 472.60 C125.77 473.94 125.04 475.60 124.19 476.79 C123.33 477.97 121.33 479.24 120.76 479.73" fill="none" stroke="#a6a6a6" stroke-width="1.6"/>
<path d="M105.81 470.74 C105.44 471.31 104.04 473.07 103.63 474.15 C103.21 475.24 103.06 476.01 103.32 477.25 C103.58 478.49 104.35 480.48 105.19 481.59 C106.02 482.70 107.29 483.42 108.30 483.92 C109.31 484.41 110.17 484.54 111.26 484.54 C112.35 484.54 113.78 484.28 114.84 483.92 C115.91 483.55 117.18 482.62 117.64 482.37" fill="none" stroke="#a6a6a6" stroke-width="1.6"/>
<path d="M94.8 464.1h0M107.2 458.8h0M108.2 456.3h0M91.7 462.3h0M117.2 449.8h0M109.6 449.8h0M118.4 448.3h0M126.6 440.3h0M117.1 444.7h0M120.3 445.0h0M99.6 457.4h0M112.8 450.4h0M111.8 453.8h0M119.5 446.5h0M117.6 446.5h0M97.2 464.5h0M111.5 452.3h0M109.7 454.4h0M113.4 447.4h0M128.0 437.0h0M112.9 448.3h0M104.2 454.6h0M109.2 457.1h0M101.4 458.3h0M104.3 455.1h0M115.6 451.7h0M128.1 437.0h0M120.8 446.3h0M119.8 445.2h0M112.7 453.2h0M114.6 445.9h0M112.2 449.9h0M110.6 449.8h0M127.9 437.0h0M90.5 465.3h0M91.4 464.4h0M117.0 448.0h0M103.2 460.0h0M93.8 467.2h0M107.6 454.3h0M128.4 437.6h0M105.3 460.8h0M106.3 451.4h0M123.7 443.5h0M119.1 446.7h0M110.5 459.4h0M114.2 454.4h0M121.7 441.3h0M117.1 449.2h0M108.5 453.7h0M95.9 465.0h0M102.0 463.1h0M107.7 459.0h0M108.8 447.7h0M96.4 460.7h0M101.2 462.1h0M125.2 441.0h0M115.9 451.3h0M102.7 460.5h0M112.0 450.1h0M117.0 446.5h0M120.2 447.5h0M100.6 463.1h0M115.3 448.1h0M121.0 442.5h0M108.6 449.0h0M114.3 444.1h0M111.8 452.4h0M110.6 455.6h0M113.0 451.9h0M96.6 461.2h0M104.4 454.2h0M121.8 445.4h0M117.8 444.0h0M120.7 442.1h0M111.8 456.5h0M114.0 452.2h0M103.4 458.6h0M106.6 458.6h0M115.1 454.2h0M110.7 452.5h0M127.7 438.1h0M116.5 445.5h0M104.5 453.1h0M98.4 463.4h0M115.1 444.8h0M111.7 451.7h0M111.8 450.2h0M108.1 451.8h0M94.9 463.0h0M111.9 450.9h0M114.2 451.7h0M125.8 440.7h0M103.4 462.4h0M119.8 447.1h0M99.8 462.8h0M105.6 455.2h0M116.9 446.7h0M110.9 453.8h0M112.0 445.0h0M108.5 452.8h0M113.6 446.6h0M112.7 450.2h0M120.3 443.8h0M101.6 457.9h0M102.6 461.3h0M107.8 452.4h0M121.5 441.0h0M113.9 448.8h0M92.4 467.1h0M123.6 439.4h0M117.5 442.0h0M94.5 465.1h0M115.0 454.4h0M119.5 441.8h0M107.2 458.3h0M112.2 448.4h0M114.7 447.8h0M111.4 448.8h0M119.3 444.5h0M120.4 446.3h0M115.6 450.8h0M109.5 447.7h0M126.2 437.9h0M116.7 449.2h0M111.8 454.9h0M124.6 440.8h0M111.1 451.6h0M101.7 462.7h0M103.5 452.6h0M108.9 451.1h0M118.3 442.8h0M106.4 452.9h0M125.4 440.8h0M111.0 452.0h0M124.6 437.2h0M122.0 442.3h0M114.2 448.8h0M119.9 440.6h0M100.8 454.2h0M117.3 449.2h0M114.4 456.4h0M107.4 462.1h0M115.1 453.6h0M113.6 453.6h0M117.1 443.3h0M116.3 442.8h0M120.3 446.3h0M98.7 461.3h0M115.5 453.1h0M86.7 481.5h0M87.0 474.0h0M89.3 466.0h0M85.8 472.7h0M79.9 487.4h0M99.6 465.4h0M87.8 475.0h0M83.9 481.7h0M89.5 470.2h0M89.3 477.1h0M88.4 469.9h0M91.1 468.7h0M86.3 474.6h0M94.7 474.0h0M96.4 482.1h0M94.3 467.6h0M99.6 473.3h0M84.6 475.1h0M108.6 462.5h0M104.9 464.5h0M101.2 475.7h0M102.7 470.1h0M128.3 451.8h0" stroke="#3b8861" stroke-width="1.4" stroke-linecap="square"/>
<path d="M108.8 460.3h0M110.9 455.1h0M123.8 443.4h0M106.0 454.8h0M104.5 454.9h0M99.6 455.0h0M88.8 466.2h0M106.2 449.6h0M106.0 457.4h0M122.8 443.5h0M100.7 456.0h0M106.2 457.2h0M93.9 460.9h0M96.3 459.5h0M96.4 459.9h0M125.3 438.5h0M115.5 449.6h0M105.6 461.1h0M119.4 448.1h0M106.7 454.1h0M106.3 454.3h0M112.9 449.6h0M117.1 450.1h0M110.4 448.9h0M113.3 450.4h0M113.0 447.3h0M95.2 466.1h0M99.8 464.7h0M109.3 451.7h0M112.2 452.0h0M100.3 461.3h0M123.6 441.6h0M117.9 443.6h0M107.6 451.1h0M117.0 444.6h0M91.1 464.9h0M107.0 458.7h0M121.2 443.1h0M106.2 451.1h0M107.0 454.3h0M109.5 457.8h0M122.5 442.9h0M109.8 455.9h0M112.1 445.9h0M112.1 453.5h0M98.1 459.9h0M116.1 448.3h0M114.2 447.7h0M115.8 446.3h0M112.5 452.3h0M123.5 443.2h0M121.8 441.5h0M108.7 448.2h0M98.9 460.1h0M110.0 447.5h0M113.0 447.3h0M110.2 452.5h0M118.7 447.9h0M119.9 446.5h0M97.2 460.4h0M93.9 466.3h0M114.3 446.1h0M120.5 443.1h0M114.8 445.2h0M113.5 446.5h0M118.1 453.2h0M125.4 439.7h0M108.6 455.0h0M113.8 449.1h0M98.9 459.7h0M119.8 442.6h0M125.3 443.1h0M104.6 460.7h0M115.3 450.6h0M115.8 445.0h0M102.4 459.6h0M107.3 455.2h0M119.4 444.3h0M93.5 467.0h0M94.8 458.1h0M111.6 450.0h0M108.8 456.6h0M128.7 439.5h0M115.7 446.7h0M100.2 456.9h0M124.0 440.7h0M91.6 467.3h0M105.9 456.2h0M110.8 453.8h0M98.0 460.5h0M115.8 444.2h0M114.1 450.9h0M101.9 459.8h0M123.8 439.7h0M115.5 453.9h0M108.5 451.9h0M97.0 462.1h0M105.3 458.0h0M121.3 443.9h0M117.6 444.9h0M100.1 458.7h0M115.0 445.9h0M112.2 448.5h0M118.3 450.9h0M108.6 449.0h0M109.1 459.1h0M123.8 439.0h0M114.0 448.5h0M118.1 445.8h0M113.3 448.7h0M109.7 457.4h0M124.1 438.5h0M112.8 456.7h0M123.3 442.8h0M118.5 447.7h0M92.4 462.9h0M125.4 440.1h0M104.3 459.4h0M116.6 452.5h0M125.7 438.4h0M121.8 446.2h0M110.1 449.7h0M114.0 445.4h0M122.5 445.0h0M102.6 459.9h0M115.7 452.9h0M107.3 450.8h0M118.5 444.2h0M103.0 454.5h0M105.7 454.0h0M124.3 439.2h0M121.5 442.8h0M103.8 454.9h0M126.0 437.8h0M120.8 446.2h0M97.6 458.9h0M107.8 450.0h0M109.5 456.8h0M109.0 450.2h0M113.2 446.0h0M98.8 459.9h0M122.8 440.3h0M95.7 463.3h0M114.2 445.6h0M108.1 458.4h0M115.7 451.9h0M119.1 441.4h0M95.3 466.5h0M108.1 455.5h0M106.2 458.0h0M107.3 450.0h0M111.7 454.2h0M99.6 460.8h0M122.3 446.4h0M120.2 446.9h0M109.7 459.5h0M116.1 444.9h0M118.4 448.9h0M112.0 452.7h0M105.9 456.5h0M117.5 450.4h0M110.0 450.0h0M106.5 460.0h0M106.1 452.4h0M121.6 441.5h0M119.2 443.2h0M109.2 453.7h0" stroke="#0a6a3a" stroke-width="1.4" stroke-linecap="square"/>
<path d="M108.9 461.9h0M110.0 452.4h0M105.6 450.5h0M119.0 447.6h0M115.5 447.2h0M122.5 442.5h0M108.0 452.2h0M101.2 454.6h0M120.7 444.5h0M119.6 441.8h0M123.9 438.2h0M103.8 459.7h0M119.4 446.9h0M116.2 445.5h0M117.9 445.8h0M103.4 461.4h0M114.4 447.0h0M122.7 440.3h0M121.0 440.9h0M109.6 452.8h0M111.7 451.3h0M105.5 452.6h0M106.4 450.7h0M100.6 457.9h0M111.4 449.4h0M105.2 453.2h0M113.3 452.6h0M113.4 452.2h0M112.7 454.9h0M114.2 452.3h0M115.7 454.7h0M109.5 455.0h0M111.6 448.5h0M126.0 443.2h0M106.2 453.2h0M124.3 440.9h0M94.4 465.9h0M114.4 448.8h0M100.8 464.2h0M107.9 453.6h0M91.0 466.8h0M94.0 466.9h0M127.6 437.9h0M123.2 443.8h0M123.4 439.1h0M111.9 447.1h0M103.3 456.4h0M111.8 455.8h0M111.9 453.9h0M101.6 460.6h0M113.2 448.2h0M94.7 463.8h0M117.4 444.4h0M118.3 447.2h0M117.1 445.1h0M108.3 449.2h0M108.6 453.7h0M126.9 436.4h0M93.4 462.8h0M114.6 449.4h0M108.2 450.9h0M115.8 454.8h0M110.5 448.5h0M96.5 459.9h0M94.3 464.9h0M122.7 440.0h0M99.7 456.6h0M116.1 450.5h0M107.2 454.6h0M104.3 460.9h0M95.6 462.3h0M125.2 442.4h0M109.1 448.7h0M118.1 450.7h0M107.5 453.4h0M109.1 451.5h0M101.9 464.5h0M108.6 456.4h0M97.4 463.0h0M122.8 444.0h0M105.2 453.0h0M111.3 454.4h0M126.4 438.9h0M96.2 463.4h0M110.1 450.6h0M109.4 448.9h0M126.2 439.9h0M113.7 456.0h0M112.3 446.0h0M120.3 442.6h0M107.7 449.7h0M104.2 459.1h0M122.2 441.9h0M91.2 466.5h0M102.3 456.9h0M106.5 457.9h0M97.8 465.0h0M112.6 446.6h0M111.7 446.6h0M117.6 443.0h0M113.8 452.3h0M112.7 451.2h0M105.5 450.2h0M98.1 465.2h0M103.9 454.7h0M110.3 452.0h0M106.7 455.5h0M122.4 444.6h0M104.3 454.1h0M112.8 448.2h0M100.2 457.8h0M120.0 448.1h0M116.6 447.2h0M112.8 446.8h0M122.4 446.7h0M106.8 453.7h0M118.9 449.7h0M117.8 442.9h0M109.3 455.3h0M118.8 448.8h0M111.6 453.1h0M93.9 464.8h0M108.9 451.6h0M126.5 439.8h0M90.0 465.0h0M105.5 460.6h0M104.2 460.2h0M97.2 461.3h0M94.7 464.6h0M102.8 462.3h0M108.6 460.2h0M113.2 448.4h0M120.4 447.1h0M109.1 451.3h0M102.5 456.5h0M102.4 452.1h0M112.3 452.8h0M124.9 441.3h0M112.6 446.1h0M125.2 439.5h0M105.4 454.8h0M120.1 445.6h0M114.8 451.9h0M110.6 447.4h0M121.1 443.8h0M103.9 461.1h0M110.7 458.5h0M109.0 458.7h0M105.6 452.2h0M99.2 459.1h0M110.4 452.1h0M122.3 442.1h0M101.2 460.4h0M115.6 451.7h0M117.6 447.3h0M92.8 464.3h0M112.1 452.2h0M116.6 445.9h0M113.5 448.2h0M119.1 447.9h0M116.0 444.0h0M118.5 442.6h0M108.8 459.0h0M101.7 458.7h0M106.0 449.8h0M102.3 458.0h0M104.1 453.1h0M118.3 450.9h0M102.8 459.6h0M124.5 442.1h0M120.9 443.3h0M118.9 443.8h0M110.1 449.6h0M120.5 441.0h0M102.6 458.3h0M89.9 465.2h0M108.1 453.1h0M115.9 443.0h0M120.2 446.9h0M101.0 458.6h0M101.9 462.9h0M112.5 447.0h0M98.3 463.2h0M107.7 455.8h0M124.3 439.9h0M119.3 446.2h0M110.9 449.7h0M107.8 450.9h0M117.1 446.2h0M119.4 447.7h0M104.0 458.0h0M113.9 447.2h0M113.7 445.9h0M96.5 466.5h0M124.0 441.3h0M100.9 460.1h0M113.6 452.3h0M104.5 455.4h0M107.3 448.3h0M114.3 445.6h0M124.8 442.5h0M110.8 456.5h0M113.9 452.0h0M115.6 449.0h0M112.8 459.0h0M124.7 439.7h0M105.4 452.8h0M95.3 463.6h0M108.7 454.8h0M119.7 442.4h0M101.9 452.9h0M118.6 451.4h0M117.3 451.3h0M99.3 457.1h0M113.7 447.2h0M111.0 448.3h0M118.2 445.9h0M103.3 453.2h0M103.1 459.2h0M105.1 452.6h0M107.9 455.6h0M116.8 446.4h0M101.4 461.4h0M93.3 463.9h0M106.7 453.9h0M117.0 446.6h0M96.2 463.0h0M117.3 446.7h0M98.4 460.4h0M113.5 455.6h0M106.5 458.6h0M120.8 446.3h0M113.4 449.4h0M100.7 458.6h0M114.5 451.8h0M119.7 445.7h0M112.7 454.5h0M115.7 446.3h0M99.7 459.4h0M123.8 441.1h0M95.4 465.7h0M112.4 455.6h0M112.9 450.7h0M112.7 453.8h0M114.5 447.3h0M98.3 461.5h0M114.7 449.6h0M112.9 449.1h0M116.3 445.3h0M113.7 450.2h0M104.4 453.0h0M110.7 446.4h0M108.5 452.8h0M107.7 449.8h0M118.2 444.4h0M110.0 454.1h0M121.5 444.2h0M103.0 455.3h0M112.6 447.6h0M117.5 446.6h0M116.9 442.6h0M95.0 463.8h0M105.5 457.5h0M117.3 450.1h0M109.3 453.3h0M92.6 465.4h0M113.5 450.2h0M101.9 462.3h0M110.0 449.9h0M110.1 448.4h0M111.8 447.4h0M85.6 475.2h0M91.6 467.5h0M86.8 470.1h0M92.8 464.8h0M89.7 471.3h0M99.1 469.1h0M88.1 482.3h0M85.0 475.2h0M90.5 468.1h0M107.3 469.1h0M98.6 471.7h0M94.3 472.6h0M97.6 466.7h0M98.8 471.0h0M96.6 465.8h0M94.5 461.5h0M101.5 467.8h0M102.9 470.7h0M90.5 470.7h0M84.4 476.8h0M97.6 470.6h0M112.2 488.3h0" stroke="#22794e" stroke-width="1.4" stroke-linecap="square"/>
<path d="M94.9 463.7h0M111.7 452.5h0M103.1 457.2h0M121.5 442.8h0M98.6 462.8h0M118.2 450.0h0M112.5 447.7h0M107.3 457.6h0M111.9 457.2h0M111.3 452.2h0M117.7 445.5h0M112.8 453.1h0M108.9 452.8h0M100.5 457.5h0M115.7 451.2h0M121.1 442.8h0M108.7 457.8h0M124.0 443.2h0M124.4 440.0h0M97.3 464.1h0M107.2 456.9h0M122.2 442.9h0M96.2 463.0h0M103.6 455.2h0M109.4 448.3h0M104.9 458.4h0M131.9 436.2h0M113.8 453.9h0M101.3 459.9h0M96.1 465.3h0M115.2 453.4h0M114.6 448.1h0M115.8 448.3h0M109.6 449.0h0M110.7 448.8h0M119.2 447.8h0M103.1 457.1h0M116.3 449.9h0M117.2 444.4h0M115.5 453.9h0M120.9 443.7h0M96.8 457.1h0M105.6 454.8h0M101.7 455.0h0M109.5 453.3h0M106.9 449.9h0M116.6 448.1h0M120.3 448.5h0M91.8 463.6h0M105.3 458.0h0M119.6 440.9h0M117.1 448.9h0M123.7 442.4h0M119.4 448.6h0M121.1 445.3h0M104.4 455.0h0M118.1 447.1h0M123.3 439.5h0M107.2 448.7h0M109.3 452.0h0M102.0 457.8h0M110.1 453.7h0M85.5 482.3h0M87.7 471.7h0M88.8 471.1h0M89.4 477.9h0M86.7 473.6h0M89.1 464.9h0M87.1 478.5h0M88.0 473.7h0M96.9 471.5h0M89.7 467.5h0M90.3 469.7h0M105.1 477.7h0M99.8 481.7h0M92.2 479.1h0M84.4 479.2h0M93.8 473.9h0M100.7 462.6h0M103.7 462.0h0M93.2 479.3h0M102.7 457.2h0M90.5 466.2h0M105.7 475.2h0M125.9 497.7h0M136.0 442.1h0M127.0 446.2h0M109.1 468.8h0" stroke="#549775" stroke-width="1.4" stroke-linecap="square"/>
<path d="M121.8 444.3h0M106.8 451.1h0M113.3 448.6h0M108.7 457.3h0M115.2 452.2h0M120.9 442.7h0M119.1 444.7h0M125.4 438.3h0M118.9 441.0h0M91.5 462.0h0M87.5 474.1h0M84.2 475.8h0M88.3 469.1h0M87.5 475.7h0M86.5 475.5h0M86.4 473.9h0M95.3 468.8h0M95.5 477.5h0M93.9 473.4h0M96.6 478.8h0M103.6 468.3h0M95.1 468.4h0M99.5 468.8h0M97.8 473.5h0M88.0 482.5h0M93.7 472.0h0M91.6 476.0h0M97.0 465.1h0M103.1 461.5h0M98.8 465.4h0M106.9 471.4h0M105.3 464.1h0M100.9 471.1h0M92.5 472.5h0M103.4 486.3h0M92.4 477.7h0M82.6 477.7h0M110.6 482.5h0M129.4 443.9h0M113.7 466.9h0M111.7 466.9h0" stroke="#6ca689" stroke-width="1.4" stroke-linecap="square"/>
<path d="M115.9 445.5h0M86.8 477.0h0M86.5 477.5h0M95.4 465.5h0M98.9 466.8h0M99.3 471.7h0M89.8 470.7h0M85.4 487.0h0M93.0 466.8h0M89.1 468.9h0M98.6 476.2h0M100.1 469.5h0M97.7 467.2h0M100.9 481.0h0M102.1 470.9h0M98.6 462.2h0M105.5 473.3h0M94.4 462.3h0M115.4 467.4h0" stroke="#84b49c" stroke-width="1.4" stroke-linecap="square"/>
<path d="M111.9 489.6h0M105.3 488.2h0M113.6 487.6h0M125.4 444.1h0M134.7 444.5h0M127.0 445.7h0M129.0 454.2h0M133.3 440.8h0M104.8 462.0h0M116.2 457.8h0M104.2 465.5h0M105.4 465.7h0M107.4 469.5h0" stroke="#b1cfc0" stroke-width="1.4" stroke-linecap="square"/>
<path d="M112.7 494.3h0M100.3 480.4h0M113.8 489.4h0M115.6 496.3h0M135.1 442.8h0M128.2 446.4h0M115.4 460.2h0M111.7 463.5h0M107.1 463.0h0M104.2 467.3h0" stroke="#89b8a1" stroke-width="1.4" stroke-linecap="square"/>
<path d="M110.9 488.4h0M100.8 487.8h0M132.9 437.6h0M109.8 469.4h0M117.2 458.3h0M120.8 460.9h0" stroke="#76ac91" stroke-width="1.4" stroke-linecap="square"/>
<path d="M104.9 482.5h0M137.1 434.4h0M128.7 446.4h0M113.2 470.1h0M100.7 471.2h0M113.0 466.8h0M113.9 458.9h0" stroke="#4e9471" stroke-width="1.4" stroke-linecap="square"/>
<path d="M109.6 492.5h0M108.6 491.2h0M120.8 460.3h0" stroke="#d8e7df" stroke-width="1.4" stroke-linecap="square"/>
<path d="M110.7 493.1h0M102.7 495.0h0M118.4 489.4h0M110.2 487.8h0M132.2 438.0h0M135.9 440.3h0" stroke="#cee1d7" stroke-width="1.4" stroke-linecap="square"/>
<path d="M110.5 494.6h0M104.8 487.2h0M97.1 482.3h0M112.6 488.2h0M131.5 440.4h0M131.6 444.4h0M120.0 444.0h0" stroke="#98c1ac" stroke-width="1.4" stroke-linecap="square"/>
<path d="M110.9 488.9h0M107.8 488.7h0M130.8 442.3h0M117.6 468.3h0" stroke="#7aaf95" stroke-width="1.4" stroke-linecap="square"/>
<path d="M109.1 487.7h0M104.0 484.2h0M125.7 444.2h0M124.6 452.3h0M130.4 443.4h0" stroke="#bbd5c8" stroke-width="1.4" stroke-linecap="square"/>
<path d="M100.9 490.5h0M114.4 488.6h0M103.7 484.6h0M125.0 457.5h0M117.0 445.8h0M131.6 442.3h0M122.3 440.0h0M122.7 442.5h0" stroke="#89b8a0" stroke-width="1.4" stroke-linecap="square"/>
<path d="M117.9 497.6h0M104.6 486.9h0M98.7 475.5h0M115.6 467.5h0" stroke="#62a081" stroke-width="1.4" stroke-linecap="square"/>
<path d="M110.4 487.4h0M109.4 489.5h0M126.2 450.6h0M132.5 440.9h0M127.5 445.3h0M115.7 454.5h0M109.1 457.9h0" stroke="#9dc3b0" stroke-width="1.4" stroke-linecap="square"/>
<path d="M101.5 487.6h0M112.3 488.6h0M124.9 449.0h0M122.2 445.9h0M121.9 449.4h0M133.7 441.9h0M109.3 461.9h0M101.9 465.9h0M118.8 475.0h0M107.3 469.9h0M116.5 463.7h0M109.4 461.2h0M114.8 463.1h0" stroke="#c4dbd0" stroke-width="1.4" stroke-linecap="square"/>
<path d="M99.7 489.0h0M94.9 481.9h0M120.2 448.4h0M114.0 470.3h0M117.8 458.8h0" stroke="#b5d2c4" stroke-width="1.4" stroke-linecap="square"/>
<path d="M121.5 450.2h0M128.8 446.0h0M127.5 440.7h0M123.3 446.3h0M127.9 454.8h0M117.6 462.8h0M113.0 457.3h0" stroke="#a7c9b8" stroke-width="1.4" stroke-linecap="square"/>
<path d="M125.2 452.8h0M124.4 446.0h0M116.8 455.4h0M106.8 457.6h0" stroke="#a7cab8" stroke-width="1.4" stroke-linecap="square"/>
<path d="M119.1 452.2h0M116.7 462.6h0" stroke="#e2ede7" stroke-width="1.4" stroke-linecap="square"/>
<path d="M106.5 462.6h0" stroke="#d3e4dc" stroke-width="1.4" stroke-linecap="square"/>
</g>
<rect x="46.00" y="410.60" width="124.60" height="93.00" fill="none" stroke="#686868" stroke-width="1.35"/>
<path d="M77.15 410.60v4M77.15 503.60v-4M108.30 410.60v4M108.30 503.60v-4M139.45 410.60v4M139.45 503.60v-4M46.00 441.60h4M170.60 441.60h-4M46.00 472.60h4M170.60 472.60h-4" stroke="#686868" stroke-width="0.9"/>
<clipPath id="c10"><rect x="196.40" y="5.80" width="124.60" height="93.30"/></clipPath>
<g clip-path="url(#c10)">
<rect x="196.40" y="5.80" width="124.60" height="93.30" fill="#fff"/>
<path d="M188.61 169.07 L228.48 165.97 C228.41 165.14 228.25 162.70 228.02 160.99 C227.78 159.28 227.68 156.92 227.08 155.70 C226.49 154.48 225.89 154.35 224.44 153.68 C222.98 153.01 220.07 152.70 218.36 151.66 C216.65 150.62 215.06 149.20 214.16 147.46 C213.25 145.72 212.73 143.31 212.91 141.24 C213.09 139.17 214.18 137.12 215.25 135.02 C216.31 132.92 218.36 131.08 219.30 128.65 C220.23 126.21 220.46 123.51 220.85 120.40 C221.24 117.29 221.11 113.74 221.63 109.98 C222.15 106.23 223.27 101.10 223.97 97.86 C224.67 94.62 225.06 93.11 225.84 90.55 C226.62 87.98 227.78 85.03 228.64 82.46 C229.50 79.90 230.22 77.23 230.98 75.15 C231.73 73.08 232.46 71.58 233.16 70.02 C233.86 68.47 234.48 67.35 235.18 65.82 C235.88 64.29 236.64 62.30 237.36 60.85 C238.09 59.40 238.61 58.38 239.54 57.11 C240.48 55.85 241.70 54.50 242.97 53.23 C244.24 51.96 245.82 50.77 247.17 49.50 C248.52 48.23 249.54 47.16 251.07 45.61 C252.60 44.05 254.75 41.80 256.36 40.17 C257.97 38.53 259.27 37.03 260.72 35.81 C262.18 34.59 263.40 33.71 265.09 32.86 C266.77 32.00 269.19 31.25 270.85 30.68 C272.51 30.11 273.65 29.77 275.05 29.44 C276.46 29.10 278.56 28.79 279.26 28.66 L284.40 29.90 L283.31 20.26 L283.15 19.17 L281.60 18.55 L281.44 16.37 L282.84 15.60 L282.06 10.46 L281.60 -1.97 L188.61 -1.97Z" fill="#e6e6e6"/>
<path d="M283.15 -1.97 L283.46 6.58 L290.94 25.55 L293.28 42.50 L293.28 43.59 L303.24 42.81 L301.53 24.15 L309.63 23.68 L309.63 29.90 L313.68 29.90 L313.68 22.44 L321.31 20.73 L324.58 25.55 L319.13 29.90 L320.22 31.30 L334.86 25.08 L336.26 24.46 L339.53 25.08 L341.71 25.86 L345.76 23.37 L349.35 20.42 L351.53 16.84 L359.94 12.80 L359.94 -1.97Z" fill="#e6e6e6"/>
<path d="M280.66 45.30 L288.14 39.39 L289.07 40.94 L289.85 45.30 L292.03 49.18 L292.50 51.83 L290.94 54.63 L287.05 57.11 L282.69 59.14 L280.66 58.05 L282.22 55.72 L282.84 52.29 L283.46 48.72 L281.75 46.54Z" fill="#e6e6e6"/>
<path d="M228.48 165.97 C228.41 165.14 228.25 162.70 228.02 160.99 C227.78 159.28 227.68 156.92 227.08 155.70 C226.49 154.48 225.89 154.35 224.44 153.68 C222.98 153.01 220.07 152.70 218.36 151.66 C216.65 150.62 215.06 149.20 214.16 147.46 C213.25 145.72 212.73 143.31 212.91 141.24 C213.09 139.17 214.18 137.12 215.25 135.02 C216.31 132.92 218.36 131.08 219.30 128.65 C220.23 126.21 220.46 123.51 220.85 120.40 C221.24 117.29 221.11 113.74 221.63 109.98 C222.15 106.23 223.27 101.10 223.97 97.86 C224.67 94.62 225.06 93.11 225.84 90.55 C226.62 87.98 227.78 85.03 228.64 82.46 C229.50 79.90 230.22 77.23 230.98 75.15 C231.73 73.08 232.46 71.58 233.16 70.02 C233.86 68.47 234.48 67.35 235.18 65.82 C235.88 64.29 236.64 62.30 237.36 60.85 C238.09 59.40 238.61 58.38 239.54 57.11 C240.48 55.85 241.70 54.50 242.97 53.23 C244.24 51.96 245.82 50.77 247.17 49.50 C248.52 48.23 249.54 47.16 251.07 45.61 C252.60 44.05 254.75 41.80 256.36 40.17 C257.97 38.53 259.27 37.03 260.72 35.81 C262.18 34.59 263.40 33.71 265.09 32.86 C266.77 32.00 269.19 31.25 270.85 30.68 C272.51 30.11 273.65 29.77 275.05 29.44 C276.46 29.10 278.56 28.79 279.26 28.66 L284.40 29.90 L283.31 20.26 L283.15 19.17 L281.60 18.55 L281.44 16.37 L282.84 15.60 L282.06 10.46 L281.60 -1.97" fill="none" stroke="#8c8c8c" stroke-width="0.8" stroke-linejoin="round"/>
<path d="M283.15 -1.97 L283.46 6.58 L290.94 25.55 L293.28 42.50 L293.28 43.59 L303.24 42.81 L301.53 24.15 L309.63 23.68 L309.63 29.90 L313.68 29.90 L313.68 22.44 L321.31 20.73 L324.58 25.55 L319.13 29.90 L320.22 31.30 L334.86 25.08 L336.26 24.46 L339.53 25.08 L341.71 25.86 L345.76 23.37 L349.35 20.42 L351.53 16.84 L359.94 12.80 L359.94 -1.97" fill="none" stroke="#8c8c8c" stroke-width="0.8" stroke-linejoin="round"/>
<path d="M303.24 42.81 L321.78 40.17" fill="none" stroke="#8c8c8c" stroke-width="0.8" stroke-linejoin="round"/>
<path d="M341.71 25.86 C341.79 26.40 342.47 28.22 342.18 29.12 C341.90 30.03 341.30 30.50 340.00 31.30 C338.70 32.11 335.33 33.50 334.39 33.95" fill="none" stroke="#8c8c8c" stroke-width="0.8" stroke-linejoin="round"/>
<path d="M279.26 28.66 C279.39 29.31 279.73 31.59 280.04 32.55 C280.35 33.50 280.63 34.10 281.13 34.41 C281.62 34.72 282.45 34.77 283.00 34.41 C283.54 34.05 284.17 32.99 284.40 32.23 C284.63 31.48 284.40 30.29 284.40 29.90" fill="none" stroke="#8c8c8c" stroke-width="0.8" stroke-linejoin="round"/>
<path d="M280.66 45.30 L288.14 39.39 L289.07 40.94 L289.85 45.30 L292.03 49.18 L292.50 51.83 L290.94 54.63 L287.05 57.11 L282.69 59.14 L280.66 58.05 L282.22 55.72 L282.84 52.29 L283.46 48.72 L281.75 46.54Z" fill="none" stroke="#8c8c8c" stroke-width="0.8" stroke-linejoin="round"/>
<path d="M280.66 45.30 C280.19 45.32 278.61 44.93 277.86 45.45 C277.10 45.97 276.33 47.34 276.14 48.41 C275.96 49.47 276.12 50.79 276.77 51.83 C277.42 52.86 279.49 54.16 280.04 54.63" fill="none" stroke="#8c8c8c" stroke-width="0.8" stroke-linejoin="round"/>
<path d="M263.53 61.31 C264.23 61.05 266.33 59.81 267.73 59.76 C269.14 59.71 270.67 60.28 271.94 61.00 C273.21 61.73 274.64 62.95 275.37 64.11 C276.09 65.28 276.43 66.65 276.30 68.00 C276.17 69.35 275.44 71.01 274.59 72.20 C273.73 73.39 271.73 74.66 271.16 75.15" fill="none" stroke="#a6a6a6" stroke-width="1.6"/>
<path d="M256.21 66.13 C255.84 66.70 254.44 68.47 254.03 69.55 C253.61 70.64 253.46 71.42 253.72 72.66 C253.98 73.91 254.75 75.90 255.59 77.02 C256.42 78.13 257.69 78.86 258.70 79.35 C259.71 79.84 260.57 79.97 261.66 79.97 C262.75 79.97 264.18 79.71 265.24 79.35 C266.31 78.99 267.58 78.06 268.05 77.80" fill="none" stroke="#a6a6a6" stroke-width="1.6"/>
<path d="M254.7 52.2h0M257.3 52.6h0M247.7 59.0h0M264.1 40.7h0M256.0 50.3h0M244.8 59.6h0M248.4 53.3h0M255.2 55.5h0M256.5 49.1h0M257.7 47.4h0M260.8 44.6h0M266.2 43.6h0M263.5 46.4h0M259.2 41.8h0M255.9 48.3h0M245.0 57.0h0M245.5 57.3h0M259.3 49.1h0M266.8 43.7h0M262.7 44.0h0M262.6 40.3h0M256.0 46.6h0M252.3 53.7h0M249.7 54.6h0M258.3 43.8h0M252.4 50.2h0M264.7 39.9h0M254.2 48.6h0M264.7 44.3h0M256.1 50.7h0M250.7 54.7h0M262.7 45.0h0M262.0 42.2h0M261.2 46.4h0M254.9 55.2h0M256.5 47.9h0M249.0 55.6h0M243.6 58.5h0M255.8 57.8h0M255.3 49.6h0M250.4 56.3h0M256.4 46.7h0M261.2 50.7h0M252.0 53.3h0M262.3 42.5h0M257.0 49.1h0M262.2 46.9h0M250.3 51.6h0M262.0 40.1h0M247.0 57.5h0M241.0 62.5h0M262.8 43.9h0M257.3 46.1h0M256.7 50.2h0M260.1 44.5h0M257.1 46.6h0M258.6 51.3h0M256.0 54.1h0M251.4 59.9h0M266.4 39.6h0M250.8 51.3h0M253.5 54.0h0M242.1 62.0h0M257.5 52.1h0M262.6 43.8h0M262.5 43.6h0M262.6 44.1h0M243.1 61.8h0M242.6 61.9h0M250.8 53.4h0M264.4 41.9h0M258.8 46.8h0M256.4 49.9h0M259.1 51.9h0M257.4 48.9h0M262.6 46.9h0M260.8 45.2h0M250.1 52.7h0M249.3 55.9h0M251.2 51.8h0M265.4 41.1h0M266.2 40.7h0M261.6 47.7h0M258.2 45.5h0M252.0 50.0h0M254.9 53.9h0M265.5 41.4h0M254.6 51.8h0M259.9 45.1h0M255.1 48.5h0M255.7 50.3h0M260.7 46.6h0M260.6 51.5h0M247.2 57.3h0M259.7 46.8h0M247.8 61.9h0M262.9 43.6h0M262.5 42.9h0M256.9 55.4h0M258.0 52.2h0M263.0 41.2h0M247.1 56.0h0M265.2 44.1h0M252.8 54.0h0M248.7 57.5h0M263.2 46.6h0M255.3 49.0h0M265.2 43.1h0M249.1 53.6h0M251.7 53.7h0M263.7 46.9h0M256.9 47.9h0M244.1 60.9h0M266.4 44.9h0M258.4 45.6h0M255.1 56.2h0M262.3 49.6h0M246.6 60.3h0M262.3 45.0h0M263.1 43.7h0M258.3 47.5h0M252.2 51.9h0M257.7 47.5h0M256.6 49.8h0M245.8 58.2h0M252.1 57.7h0M256.1 48.0h0M249.2 54.9h0M252.8 50.0h0M260.1 51.9h0M262.1 45.7h0M246.5 57.9h0M260.0 47.1h0M258.3 44.5h0M257.3 48.1h0M252.3 54.8h0M255.2 52.0h0M253.0 49.7h0M254.1 51.4h0M263.7 41.4h0M254.6 48.5h0M263.2 44.5h0M252.5 49.4h0M248.8 59.0h0M257.9 46.5h0M249.2 55.4h0M263.6 43.6h0M246.5 55.5h0M264.8 46.9h0M256.4 48.9h0M257.7 46.8h0M247.0 55.8h0M255.8 53.3h0M252.7 53.6h0M257.2 46.7h0M248.8 56.1h0M256.9 50.7h0M248.9 57.7h0M262.1 43.1h0M257.4 49.3h0M261.2 41.0h0M257.8 50.5h0M261.7 43.2h0M241.7 62.0h0M265.5 44.1h0M256.7 45.8h0M253.4 49.3h0M262.5 43.3h0M250.7 55.1h0M250.9 55.0h0M251.7 54.3h0M251.8 55.1h0M262.6 45.6h0M254.3 53.1h0M253.6 51.5h0M250.7 59.6h0M262.1 42.2h0M260.5 48.1h0M259.1 45.5h0M253.3 49.5h0M253.1 52.9h0M252.3 55.7h0M252.2 51.5h0M260.3 45.9h0M264.8 40.9h0M253.4 57.1h0M265.9 42.9h0M262.1 43.6h0M257.3 49.8h0M251.7 54.3h0M252.3 56.5h0M266.1 41.5h0M259.0 51.0h0M256.1 53.9h0M267.1 42.9h0M254.2 50.9h0M267.1 40.1h0M250.0 53.2h0M252.4 54.4h0M264.8 46.8h0M247.7 55.6h0M264.8 39.8h0M248.8 55.6h0M250.9 50.4h0M257.8 50.1h0M252.5 51.6h0M246.5 56.3h0M256.5 51.0h0M255.3 48.4h0M258.8 43.8h0M254.4 48.9h0M243.4 58.8h0M263.2 44.2h0M262.0 43.7h0M257.7 46.7h0M259.6 48.9h0M256.9 49.8h0M248.0 54.9h0M254.7 49.2h0M248.6 56.3h0M250.5 54.7h0M258.0 50.3h0M253.2 51.6h0M263.3 46.2h0M265.8 39.7h0M266.0 43.3h0M256.7 47.2h0M249.6 54.9h0M251.8 52.6h0M261.9 43.4h0M245.8 57.4h0M251.9 49.6h0M263.0 48.2h0M255.0 51.0h0M245.8 60.0h0M265.5 42.2h0M247.6 55.6h0M254.0 49.1h0M246.3 56.8h0M252.8 52.2h0M259.0 50.6h0M254.8 50.0h0M251.7 53.4h0M263.8 41.8h0M255.7 51.6h0M264.7 41.9h0M267.2 42.5h0M253.9 52.0h0M258.2 45.9h0M254.7 53.1h0M263.3 42.3h0M248.0 60.3h0M266.1 41.1h0M255.9 47.8h0M257.8 47.6h0M258.2 49.2h0M255.2 51.1h0M264.2 44.3h0M243.6 58.5h0M246.1 56.9h0M255.1 47.8h0M265.4 44.5h0M262.9 43.8h0M247.1 57.7h0M256.4 48.2h0M260.2 47.9h0M261.1 50.0h0M258.7 43.7h0M260.3 44.7h0M265.8 43.0h0M240.1 63.0h0M240.2 62.1h0M239.1 63.5h0M253.0 53.3h0M246.9 71.6h0M258.6 65.9h0M251.4 63.5h0" stroke="#ff0000" stroke-width="1.4" stroke-linecap="square"/>
<path d="M273.7 39.0h0M265.0 43.1h0M266.9 38.2h0M239.2 65.6h0M235.6 69.2h0M233.2 73.5h0M240.7 76.1h0M234.3 71.7h0M236.4 66.8h0M240.2 63.0h0M236.4 67.2h0M238.0 63.4h0M240.2 63.8h0M238.1 64.6h0M263.8 54.5h0M253.8 60.7h0M255.3 52.5h0M256.7 67.0h0M257.4 54.8h0M252.7 65.5h0" stroke="#ff3333" stroke-width="1.4" stroke-linecap="square"/>
<path d="M270.6 40.7h0M268.9 37.6h0M277.5 32.7h0M271.2 35.5h0M237.6 66.5h0M239.0 62.0h0M235.4 68.7h0M238.5 63.4h0M240.8 64.6h0M239.7 63.4h0M237.2 70.1h0M235.2 71.5h0M239.1 65.4h0M252.6 61.2h0M251.9 62.1h0M260.9 54.4h0M252.7 57.8h0M253.5 53.1h0M257.2 65.1h0" stroke="#ff6666" stroke-width="1.4" stroke-linecap="square"/>
<path d="M266.7 43.9h0M269.7 42.0h0M276.9 40.2h0M275.9 37.1h0M278.3 34.8h0M234.6 72.3h0M234.2 71.6h0M237.9 70.5h0M237.3 69.3h0M237.4 66.9h0M236.1 73.6h0M237.7 72.5h0M249.6 71.3h0M246.5 66.3h0M256.0 57.1h0M245.5 54.3h0M254.7 55.9h0M245.6 65.9h0M252.4 66.4h0M246.3 65.9h0M273.2 49.3h0" stroke="#ff9999" stroke-width="1.4" stroke-linecap="square"/>
</g>
<rect x="196.40" y="5.80" width="124.60" height="93.30" fill="none" stroke="#686868" stroke-width="1.35"/>
<path d="M227.55 5.80v4M227.55 99.10v-4M258.70 5.80v4M258.70 99.10v-4M289.85 5.80v4M289.85 99.10v-4M196.40 36.90h4M321.00 36.90h-4M196.40 68.00h4M321.00 68.00h-4" stroke="#686868" stroke-width="0.9"/>
<clipPath id="c11"><rect x="196.40" y="107.40" width="124.60" height="92.90"/></clipPath>
<g clip-path="url(#c11)">
<rect x="196.40" y="107.40" width="124.60" height="92.90" fill="#fff"/>
<path d="M188.61 269.98 L228.48 266.88 C228.41 266.05 228.25 263.63 228.02 261.92 C227.78 260.22 227.68 257.87 227.08 256.66 C226.49 255.45 225.89 255.32 224.44 254.65 C222.98 253.98 220.07 253.67 218.36 252.63 C216.65 251.60 215.06 250.18 214.16 248.45 C213.25 246.72 212.73 244.32 212.91 242.26 C213.09 240.20 214.18 238.16 215.25 236.07 C216.31 233.98 218.36 232.14 219.30 229.72 C220.23 227.29 220.46 224.61 220.85 221.51 C221.24 218.42 221.11 214.88 221.63 211.14 C222.15 207.40 223.27 202.29 223.97 199.06 C224.67 195.84 225.06 194.34 225.84 191.78 C226.62 189.23 227.78 186.29 228.64 183.73 C229.50 181.18 230.22 178.52 230.98 176.46 C231.73 174.39 232.46 172.89 233.16 171.35 C233.86 169.80 234.48 168.69 235.18 167.17 C235.88 165.64 236.64 163.66 237.36 162.21 C238.09 160.77 238.61 159.76 239.54 158.50 C240.48 157.23 241.70 155.89 242.97 154.62 C244.24 153.36 245.82 152.17 247.17 150.91 C248.52 149.64 249.54 148.59 251.07 147.04 C252.60 145.49 254.75 143.24 256.36 141.62 C257.97 139.99 259.27 138.50 260.72 137.28 C262.18 136.07 263.40 135.19 265.09 134.34 C266.77 133.49 269.19 132.74 270.85 132.17 C272.51 131.61 273.65 131.27 275.05 130.93 C276.46 130.60 278.56 130.29 279.26 130.16 L284.40 131.40 L283.31 121.80 L283.15 120.72 L281.60 120.10 L281.44 117.93 L282.84 117.15 L282.06 112.05 L281.60 99.66 L188.61 99.66Z" fill="#e6e6e6"/>
<path d="M283.15 99.66 L283.46 108.17 L290.94 127.06 L293.28 143.94 L293.28 145.02 L303.24 144.25 L301.53 125.67 L309.63 125.21 L309.63 131.40 L313.68 131.40 L313.68 123.97 L321.31 122.26 L324.58 127.06 L319.13 131.40 L320.22 132.79 L334.86 126.60 L336.26 125.98 L339.53 126.60 L341.71 127.37 L345.76 124.90 L349.35 121.95 L351.53 118.39 L359.94 114.37 L359.94 99.66Z" fill="#e6e6e6"/>
<path d="M280.66 146.73 L288.14 140.84 L289.07 142.39 L289.85 146.73 L292.03 150.60 L292.50 153.23 L290.94 156.02 L287.05 158.50 L282.69 160.51 L280.66 159.42 L282.22 157.10 L282.84 153.70 L283.46 150.13 L281.75 147.97Z" fill="#e6e6e6"/>
<path d="M228.48 266.88 C228.41 266.05 228.25 263.63 228.02 261.92 C227.78 260.22 227.68 257.87 227.08 256.66 C226.49 255.45 225.89 255.32 224.44 254.65 C222.98 253.98 220.07 253.67 218.36 252.63 C216.65 251.60 215.06 250.18 214.16 248.45 C213.25 246.72 212.73 244.32 212.91 242.26 C213.09 240.20 214.18 238.16 215.25 236.07 C216.31 233.98 218.36 232.14 219.30 229.72 C220.23 227.29 220.46 224.61 220.85 221.51 C221.24 218.42 221.11 214.88 221.63 211.14 C222.15 207.40 223.27 202.29 223.97 199.06 C224.67 195.84 225.06 194.34 225.84 191.78 C226.62 189.23 227.78 186.29 228.64 183.73 C229.50 181.18 230.22 178.52 230.98 176.46 C231.73 174.39 232.46 172.89 233.16 171.35 C233.86 169.80 234.48 168.69 235.18 167.17 C235.88 165.64 236.64 163.66 237.36 162.21 C238.09 160.77 238.61 159.76 239.54 158.50 C240.48 157.23 241.70 155.89 242.97 154.62 C244.24 153.36 245.82 152.17 247.17 150.91 C248.52 149.64 249.54 148.59 251.07 147.04 C252.60 145.49 254.75 143.24 256.36 141.62 C257.97 139.99 259.27 138.50 260.72 137.28 C262.18 136.07 263.40 135.19 265.09 134.34 C266.77 133.49 269.19 132.74 270.85 132.17 C272.51 131.61 273.65 131.27 275.05 130.93 C276.46 130.60 278.56 130.29 279.26 130.16 L284.40 131.40 L283.31 121.80 L283.15 120.72 L281.60 120.10 L281.44 117.93 L282.84 117.15 L282.06 112.05 L281.60 99.66" fill="none" stroke="#8c8c8c" stroke-width="0.8" stroke-linejoin="round"/>
<path d="M283.15 99.66 L283.46 108.17 L290.94 127.06 L293.28 143.94 L293.28 145.02 L303.24 144.25 L301.53 125.67 L309.63 125.21 L309.63 131.40 L313.68 131.40 L313.68 123.97 L321.31 122.26 L324.58 127.06 L319.13 131.40 L320.22 132.79 L334.86 126.60 L336.26 125.98 L339.53 126.60 L341.71 127.37 L345.76 124.90 L349.35 121.95 L351.53 118.39 L359.94 114.37 L359.94 99.66" fill="none" stroke="#8c8c8c" stroke-width="0.8" stroke-linejoin="round"/>
<path d="M303.24 144.25 L321.78 141.62" fill="none" stroke="#8c8c8c" stroke-width="0.8" stroke-linejoin="round"/>
<path d="M341.71 127.37 C341.79 127.92 342.47 129.72 342.18 130.62 C341.90 131.53 341.30 131.99 340.00 132.79 C338.70 133.59 335.33 134.99 334.39 135.42" fill="none" stroke="#8c8c8c" stroke-width="0.8" stroke-linejoin="round"/>
<path d="M279.26 130.16 C279.39 130.81 279.73 133.08 280.04 134.03 C280.35 134.99 280.63 135.58 281.13 135.89 C281.62 136.20 282.45 136.25 283.00 135.89 C283.54 135.53 284.17 134.47 284.40 133.72 C284.63 132.97 284.40 131.79 284.40 131.40" fill="none" stroke="#8c8c8c" stroke-width="0.8" stroke-linejoin="round"/>
<path d="M280.66 146.73 L288.14 140.84 L289.07 142.39 L289.85 146.73 L292.03 150.60 L292.50 153.23 L290.94 156.02 L287.05 158.50 L282.69 160.51 L280.66 159.42 L282.22 157.10 L282.84 153.70 L283.46 150.13 L281.75 147.97Z" fill="none" stroke="#8c8c8c" stroke-width="0.8" stroke-linejoin="round"/>
<path d="M280.66 146.73 C280.19 146.75 278.61 146.37 277.86 146.88 C277.10 147.40 276.33 148.77 276.14 149.82 C275.96 150.88 276.12 152.20 276.77 153.23 C277.42 154.26 279.49 155.55 280.04 156.02" fill="none" stroke="#8c8c8c" stroke-width="0.8" stroke-linejoin="round"/>
<path d="M263.53 162.68 C264.23 162.42 266.33 161.18 267.73 161.13 C269.14 161.08 270.67 161.64 271.94 162.37 C273.21 163.09 274.64 164.30 275.37 165.46 C276.09 166.62 276.43 167.99 276.30 169.33 C276.17 170.68 275.44 172.33 274.59 173.51 C273.73 174.70 271.73 175.97 271.16 176.46" fill="none" stroke="#a6a6a6" stroke-width="1.6"/>
<path d="M256.21 167.48 C255.84 168.04 254.44 169.80 254.03 170.88 C253.61 171.97 253.46 172.74 253.72 173.98 C253.98 175.22 254.75 177.20 255.59 178.31 C256.42 179.42 257.69 180.15 258.70 180.64 C259.71 181.13 260.57 181.26 261.66 181.26 C262.75 181.26 264.18 181.00 265.24 180.64 C266.31 180.27 267.58 179.35 268.05 179.09" fill="none" stroke="#a6a6a6" stroke-width="1.6"/>
<path d="M264.4 144.5h0M253.5 150.5h0M251.5 150.9h0M271.4 145.9h0M272.7 136.7h0M261.1 145.6h0M261.7 151.5h0M263.8 143.8h0M269.7 147.1h0M273.2 141.1h0M264.3 141.2h0M255.6 148.7h0M264.0 145.0h0M255.1 148.3h0M256.8 151.1h0M267.7 145.4h0M250.7 154.0h0M252.8 152.8h0M259.3 147.3h0M268.3 138.8h0M259.8 144.5h0M250.4 151.7h0M272.5 137.2h0M257.4 148.9h0M262.4 142.7h0M264.3 144.9h0M265.1 145.8h0M262.7 148.8h0M270.0 144.0h0M269.0 148.8h0M267.8 139.2h0M254.2 150.9h0M258.0 147.2h0M267.2 142.3h0M251.0 153.7h0M258.4 143.6h0M269.4 140.5h0M263.0 145.3h0M260.5 145.4h0M266.3 138.6h0M249.4 157.4h0M261.8 150.2h0M264.5 142.8h0M256.1 152.9h0M264.4 142.7h0M265.3 147.0h0M264.8 147.8h0M261.2 142.4h0M267.8 143.2h0M261.0 145.5h0M262.6 149.7h0M263.9 145.2h0M259.7 147.3h0M273.5 137.1h0M265.2 146.0h0M268.7 142.6h0M258.2 147.2h0M263.1 147.0h0M257.5 151.3h0M272.2 140.1h0M266.6 140.3h0M256.2 151.4h0M264.2 143.4h0M270.7 144.3h0M271.2 139.7h0M262.1 144.7h0M271.9 136.8h0M262.6 142.4h0M270.0 139.7h0M269.5 144.2h0M262.9 144.1h0M260.6 144.0h0M255.5 149.5h0M259.7 147.2h0M268.5 145.6h0M252.0 151.6h0M263.2 146.2h0M264.1 146.3h0M253.2 150.5h0M261.7 142.3h0M249.3 156.9h0M262.4 148.6h0M265.9 143.2h0M274.7 139.1h0M249.8 154.0h0M256.5 150.9h0M262.6 142.4h0M259.4 146.9h0M255.3 147.8h0M273.5 136.7h0M258.4 150.3h0M261.7 147.6h0M266.2 140.8h0M259.1 145.9h0M263.2 145.5h0M262.1 148.1h0M260.2 148.0h0M270.8 143.6h0M261.7 146.1h0M270.0 138.8h0M270.4 145.2h0M256.4 146.6h0M267.8 145.6h0M251.5 152.8h0M256.1 149.5h0M260.8 150.6h0M264.1 151.0h0M267.0 143.1h0M252.7 151.8h0M266.3 143.5h0M263.8 147.4h0M261.4 144.0h0M266.7 147.0h0M250.7 153.0h0M256.1 150.6h0M256.3 147.4h0M264.6 143.4h0M262.1 145.2h0M254.7 148.8h0M259.7 145.9h0M263.4 144.7h0M268.5 141.9h0M254.4 150.2h0M262.1 150.7h0M257.6 149.5h0M270.2 141.5h0M266.3 145.6h0M265.2 141.5h0M259.4 147.8h0M263.4 143.8h0M261.6 146.7h0M265.5 140.2h0M266.0 146.8h0M261.8 146.2h0M252.1 154.9h0M262.3 152.5h0M249.8 154.3h0M271.7 139.4h0M268.2 140.7h0M267.3 142.8h0M249.8 150.3h0M262.4 144.8h0M265.9 140.6h0M266.3 142.4h0M256.8 153.5h0M252.8 151.8h0M272.2 135.7h0M267.3 149.0h0M272.3 138.9h0M264.5 150.4h0M266.3 141.2h0M256.0 152.8h0M266.5 143.1h0M261.0 145.4h0M274.6 139.0h0M271.5 137.2h0M265.7 140.7h0M260.5 142.3h0M266.4 146.8h0M261.5 143.6h0M256.9 150.6h0M258.8 148.4h0M263.9 141.8h0M261.4 142.6h0M271.4 142.7h0M262.5 143.5h0M251.9 153.8h0M263.8 143.4h0M263.8 145.5h0M254.8 152.8h0M252.2 150.6h0M268.3 140.4h0M257.5 148.3h0M268.2 146.8h0M261.9 144.9h0M253.5 154.6h0M264.4 142.2h0M265.6 146.2h0M259.9 149.1h0M254.8 150.8h0M269.1 140.2h0M263.5 143.8h0M264.6 143.0h0M266.2 140.7h0M253.4 151.7h0M266.8 146.1h0M271.2 142.3h0M272.8 136.9h0M273.0 138.9h0M265.7 143.8h0M272.0 141.0h0M272.9 145.1h0M271.9 139.6h0M261.8 142.4h0M265.6 142.6h0M265.2 142.8h0M252.9 151.4h0M267.8 139.1h0M263.5 142.0h0M251.4 153.9h0M262.2 144.4h0M263.5 141.6h0M261.0 148.1h0M253.3 154.0h0M261.1 146.4h0M266.6 139.5h0M261.5 145.4h0M269.2 142.7h0M273.7 137.8h0M257.1 148.3h0M251.6 152.5h0M258.9 145.1h0M254.1 152.1h0M266.2 143.5h0M260.4 147.8h0M272.3 138.3h0M260.9 148.0h0M260.4 145.9h0M250.1 151.6h0M257.8 147.2h0M269.1 142.5h0M267.4 141.1h0M263.8 140.5h0M270.0 136.9h0M266.3 139.0h0M262.7 144.3h0M266.9 143.5h0M258.3 145.4h0M253.1 151.8h0M261.6 146.9h0M271.4 136.5h0M269.0 142.1h0M266.7 140.4h0M251.5 154.7h0M266.4 143.4h0M266.4 144.5h0M265.9 144.8h0M270.8 139.9h0M265.4 141.1h0M258.1 151.3h0M267.1 139.1h0M247.4 154.6h0M271.3 142.7h0M248.6 154.5h0M249.1 156.9h0M271.3 141.5h0M263.7 147.3h0M263.8 147.3h0M267.8 139.1h0M271.0 139.5h0M251.4 153.8h0M266.1 141.8h0M270.3 140.1h0M260.1 145.1h0M255.5 151.4h0M253.3 151.7h0M267.9 141.6h0M250.0 154.2h0M269.8 138.8h0M250.1 151.6h0M252.3 150.9h0M272.6 137.7h0M260.8 143.4h0M238.3 166.3h0M238.9 170.4h0M238.5 164.0h0M237.2 168.6h0M241.0 160.1h0M235.0 170.9h0M261.9 171.8h0M269.1 160.1h0M266.9 160.1h0M257.5 152.6h0M257.7 155.0h0M264.0 154.3h0M248.7 166.5h0M277.6 133.3h0" stroke="#ff0000" stroke-width="1.4" stroke-linecap="square"/>
<path d="M256.1 148.8h0M259.3 145.8h0M260.0 147.1h0M257.5 148.9h0M256.8 148.5h0M259.3 145.7h0M257.9 145.3h0M258.6 147.2h0M259.1 145.6h0M257.2 146.3h0M259.3 147.2h0M259.5 146.7h0M257.2 148.6h0M257.8 147.8h0M256.2 148.1h0M259.0 145.7h0M258.1 148.0h0" stroke="#b70202" stroke-width="1.4" stroke-linecap="square"/>
<path d="M241.3 160.8h0M241.9 163.4h0M239.7 161.2h0M237.3 167.0h0M237.5 167.7h0M244.3 163.4h0M261.8 157.4h0M261.5 153.5h0M274.0 161.2h0M273.3 166.9h0M263.8 160.1h0M250.4 164.1h0M266.9 155.4h0M278.7 140.3h0M276.7 139.6h0M278.7 136.7h0" stroke="#ff6666" stroke-width="1.4" stroke-linecap="square"/>
<path d="M243.4 156.4h0M233.8 173.5h0M237.6 165.8h0M247.1 154.5h0M234.7 172.2h0M241.1 158.7h0M234.3 171.8h0M258.2 153.6h0M254.3 158.0h0M261.0 158.2h0M272.7 156.3h0M263.1 164.2h0M269.2 160.6h0M256.7 158.7h0M249.8 166.3h0M258.2 170.3h0M262.6 160.6h0M278.2 142.3h0M275.7 142.2h0M279.5 133.1h0M274.1 141.1h0M275.5 137.5h0M281.8 140.2h0M274.4 139.5h0M280.3 133.6h0" stroke="#ff9999" stroke-width="1.4" stroke-linecap="square"/>
<path d="M239.7 161.3h0M240.7 163.4h0M236.0 170.1h0M232.6 178.8h0M236.1 168.3h0M242.3 159.6h0M237.5 165.9h0M252.2 168.6h0M252.7 165.3h0M279.4 149.1h0M255.0 154.2h0M257.7 156.7h0M281.1 140.3h0M275.4 137.9h0M288.0 140.1h0M279.2 142.4h0M279.8 137.6h0M278.3 131.6h0M282.4 137.2h0M273.5 135.9h0" stroke="#ff3333" stroke-width="1.4" stroke-linecap="square"/>
</g>
<rect x="196.40" y="107.40" width="124.60" height="92.90" fill="none" stroke="#686868" stroke-width="1.35"/>
<path d="M227.55 107.40v4M227.55 200.30v-4M258.70 107.40v4M258.70 200.30v-4M289.85 107.40v4M289.85 200.30v-4M196.40 138.37h4M321.00 138.37h-4M196.40 169.33h4M321.00 169.33h-4" stroke="#686868" stroke-width="0.9"/>
<clipPath id="c12"><rect x="196.40" y="208.70" width="124.60" height="92.80"/></clipPath>
<g clip-path="url(#c12)">
<rect x="196.40" y="208.70" width="124.60" height="92.80" fill="#fff"/>
<path d="M188.61 371.10 L228.48 368.01 C228.41 367.18 228.25 364.76 228.02 363.06 C227.78 361.36 227.68 359.01 227.08 357.80 C226.49 356.59 225.89 356.46 224.44 355.79 C222.98 355.12 220.07 354.81 218.36 353.78 C216.65 352.75 215.06 351.33 214.16 349.60 C213.25 347.87 212.73 345.48 212.91 343.41 C213.09 341.35 214.18 339.32 215.25 337.23 C216.31 335.14 218.36 333.31 219.30 330.89 C220.23 328.46 220.46 325.78 220.85 322.69 C221.24 319.60 221.11 316.06 221.63 312.33 C222.15 308.59 223.27 303.48 223.97 300.26 C224.67 297.04 225.06 295.55 225.84 292.99 C226.62 290.44 227.78 287.50 228.64 284.95 C229.50 282.40 230.22 279.74 230.98 277.68 C231.73 275.62 232.46 274.12 233.16 272.58 C233.86 271.03 234.48 269.92 235.18 268.40 C235.88 266.88 236.64 264.90 237.36 263.45 C238.09 262.01 238.61 261.00 239.54 259.74 C240.48 258.48 241.70 257.14 242.97 255.87 C244.24 254.61 245.82 253.42 247.17 252.16 C248.52 250.90 249.54 249.84 251.07 248.29 C252.60 246.75 254.75 244.51 256.36 242.88 C257.97 241.26 259.27 239.76 260.72 238.55 C262.18 237.34 263.40 236.46 265.09 235.61 C266.77 234.76 269.19 234.01 270.85 233.45 C272.51 232.88 273.65 232.54 275.05 232.21 C276.46 231.87 278.56 231.56 279.26 231.44 L284.40 232.67 L283.31 223.08 L283.15 222.00 L281.60 221.38 L281.44 219.22 L282.84 218.44 L282.06 213.34 L281.60 200.97 L188.61 200.97Z" fill="#e6e6e6"/>
<path d="M283.15 200.97 L283.46 209.47 L290.94 228.34 L293.28 245.20 L293.28 246.28 L303.24 245.51 L301.53 226.95 L309.63 226.49 L309.63 232.67 L313.68 232.67 L313.68 225.25 L321.31 223.55 L324.58 228.34 L319.13 232.67 L320.22 234.07 L334.86 227.88 L336.26 227.26 L339.53 227.88 L341.71 228.65 L345.76 226.18 L349.35 223.24 L351.53 219.68 L359.94 215.66 L359.94 200.97Z" fill="#e6e6e6"/>
<path d="M280.66 247.99 L288.14 242.11 L289.07 243.65 L289.85 247.99 L292.03 251.85 L292.50 254.48 L290.94 257.27 L287.05 259.74 L282.69 261.75 L280.66 260.67 L282.22 258.35 L282.84 254.95 L283.46 251.39 L281.75 249.22Z" fill="#e6e6e6"/>
<path d="M228.48 368.01 C228.41 367.18 228.25 364.76 228.02 363.06 C227.78 361.36 227.68 359.01 227.08 357.80 C226.49 356.59 225.89 356.46 224.44 355.79 C222.98 355.12 220.07 354.81 218.36 353.78 C216.65 352.75 215.06 351.33 214.16 349.60 C213.25 347.87 212.73 345.48 212.91 343.41 C213.09 341.35 214.18 339.32 215.25 337.23 C216.31 335.14 218.36 333.31 219.30 330.89 C220.23 328.46 220.46 325.78 220.85 322.69 C221.24 319.60 221.11 316.06 221.63 312.33 C222.15 308.59 223.27 303.48 223.97 300.26 C224.67 297.04 225.06 295.55 225.84 292.99 C226.62 290.44 227.78 287.50 228.64 284.95 C229.50 282.40 230.22 279.74 230.98 277.68 C231.73 275.62 232.46 274.12 233.16 272.58 C233.86 271.03 234.48 269.92 235.18 268.40 C235.88 266.88 236.64 264.90 237.36 263.45 C238.09 262.01 238.61 261.00 239.54 259.74 C240.48 258.48 241.70 257.14 242.97 255.87 C244.24 254.61 245.82 253.42 247.17 252.16 C248.52 250.90 249.54 249.84 251.07 248.29 C252.60 246.75 254.75 244.51 256.36 242.88 C257.97 241.26 259.27 239.76 260.72 238.55 C262.18 237.34 263.40 236.46 265.09 235.61 C266.77 234.76 269.19 234.01 270.85 233.45 C272.51 232.88 273.65 232.54 275.05 232.21 C276.46 231.87 278.56 231.56 279.26 231.44 L284.40 232.67 L283.31 223.08 L283.15 222.00 L281.60 221.38 L281.44 219.22 L282.84 218.44 L282.06 213.34 L281.60 200.97" fill="none" stroke="#8c8c8c" stroke-width="0.8" stroke-linejoin="round"/>
<path d="M283.15 200.97 L283.46 209.47 L290.94 228.34 L293.28 245.20 L293.28 246.28 L303.24 245.51 L301.53 226.95 L309.63 226.49 L309.63 232.67 L313.68 232.67 L313.68 225.25 L321.31 223.55 L324.58 228.34 L319.13 232.67 L320.22 234.07 L334.86 227.88 L336.26 227.26 L339.53 227.88 L341.71 228.65 L345.76 226.18 L349.35 223.24 L351.53 219.68 L359.94 215.66 L359.94 200.97" fill="none" stroke="#8c8c8c" stroke-width="0.8" stroke-linejoin="round"/>
<path d="M303.24 245.51 L321.78 242.88" fill="none" stroke="#8c8c8c" stroke-width="0.8" stroke-linejoin="round"/>
<path d="M341.71 228.65 C341.79 229.19 342.47 231.00 342.18 231.90 C341.90 232.80 341.30 233.27 340.00 234.07 C338.70 234.86 335.33 236.26 334.39 236.69" fill="none" stroke="#8c8c8c" stroke-width="0.8" stroke-linejoin="round"/>
<path d="M279.26 231.44 C279.39 232.08 279.73 234.35 280.04 235.30 C280.35 236.26 280.63 236.85 281.13 237.16 C281.62 237.47 282.45 237.52 283.00 237.16 C283.54 236.80 284.17 235.74 284.40 234.99 C284.63 234.25 284.40 233.06 284.40 232.67" fill="none" stroke="#8c8c8c" stroke-width="0.8" stroke-linejoin="round"/>
<path d="M280.66 247.99 L288.14 242.11 L289.07 243.65 L289.85 247.99 L292.03 251.85 L292.50 254.48 L290.94 257.27 L287.05 259.74 L282.69 261.75 L280.66 260.67 L282.22 258.35 L282.84 254.95 L283.46 251.39 L281.75 249.22Z" fill="none" stroke="#8c8c8c" stroke-width="0.8" stroke-linejoin="round"/>
<path d="M280.66 247.99 C280.19 248.01 278.61 247.62 277.86 248.14 C277.10 248.66 276.33 250.02 276.14 251.08 C275.96 252.14 276.12 253.45 276.77 254.48 C277.42 255.51 279.49 256.80 280.04 257.27" fill="none" stroke="#8c8c8c" stroke-width="0.8" stroke-linejoin="round"/>
<path d="M263.53 263.92 C264.23 263.66 266.33 262.42 267.73 262.37 C269.14 262.32 270.67 262.88 271.94 263.61 C273.21 264.33 274.64 265.54 275.37 266.70 C276.09 267.86 276.43 269.23 276.30 270.57 C276.17 271.91 275.44 273.56 274.59 274.74 C273.73 275.93 271.73 277.19 271.16 277.68" fill="none" stroke="#a6a6a6" stroke-width="1.6"/>
<path d="M256.21 268.71 C255.84 269.28 254.44 271.03 254.03 272.11 C253.61 273.20 253.46 273.97 253.72 275.21 C253.98 276.44 254.75 278.43 255.59 279.54 C256.42 280.65 257.69 281.37 258.70 281.86 C259.71 282.35 260.57 282.48 261.66 282.48 C262.75 282.48 264.18 282.22 265.24 281.86 C266.31 281.50 267.58 280.57 268.05 280.31" fill="none" stroke="#a6a6a6" stroke-width="1.6"/>
<path d="M266.9 243.7h0M265.2 242.5h0M264.3 242.8h0M274.9 239.3h0M265.0 244.6h0M264.6 240.8h0M266.3 248.1h0M263.6 244.3h0M263.3 243.3h0M264.4 245.7h0M267.5 240.5h0M267.0 244.7h0M269.6 241.6h0M262.7 244.5h0M270.9 240.5h0M265.3 250.3h0M274.2 240.4h0M262.2 246.5h0M272.0 242.8h0M261.3 245.1h0M261.1 245.6h0M255.1 250.6h0M272.3 242.9h0M272.1 240.4h0M260.9 244.3h0M268.9 238.3h0M257.0 251.6h0M265.3 246.5h0M273.3 238.0h0M256.8 248.4h0M264.4 241.9h0M273.1 242.7h0M271.0 238.7h0M265.7 243.1h0M264.0 245.4h0M256.1 249.1h0M273.7 238.5h0M268.4 246.9h0M267.9 244.9h0M261.6 250.9h0M265.7 243.0h0M260.9 246.2h0M272.6 243.0h0M262.2 247.8h0M270.3 246.9h0M263.9 246.3h0M267.0 242.5h0M251.6 253.8h0M271.8 237.9h0M273.7 238.8h0M268.2 246.6h0M269.2 241.4h0M268.1 241.7h0M262.3 245.5h0M261.4 248.2h0M270.2 239.9h0M271.7 237.9h0M271.3 241.8h0M273.6 243.7h0M270.9 242.7h0M257.6 247.2h0M272.7 246.9h0M257.4 251.0h0M266.8 243.3h0M266.3 245.9h0M263.4 243.6h0M264.2 245.4h0M258.7 245.4h0M265.9 246.8h0M264.7 242.6h0M267.3 240.5h0M254.5 252.1h0M274.0 236.7h0M261.9 245.3h0M259.5 249.1h0M269.6 246.3h0M265.4 240.6h0M252.8 252.1h0M261.5 252.2h0M275.8 238.6h0M268.3 247.4h0M262.5 244.1h0M261.4 245.9h0M270.2 250.7h0M264.1 241.4h0M267.3 242.1h0M271.3 240.8h0M255.6 251.3h0M266.0 245.9h0M254.7 251.5h0M273.1 242.0h0M273.6 236.5h0M271.6 246.7h0M270.1 245.1h0M255.3 251.5h0M261.4 248.3h0M275.8 238.6h0M274.8 244.8h0M260.2 251.0h0M261.9 245.7h0M270.4 244.6h0M266.1 246.9h0M260.8 251.5h0M266.7 243.5h0M267.0 242.2h0M269.1 243.6h0M254.0 253.0h0M261.3 245.2h0M272.1 246.0h0M261.4 246.5h0M265.5 246.6h0M267.2 246.1h0M276.0 240.1h0M265.6 245.0h0M273.8 241.3h0M273.5 239.6h0M254.7 251.3h0M270.1 242.0h0M268.2 245.0h0M277.9 241.0h0M261.4 250.6h0M270.4 242.5h0M258.1 250.8h0M265.6 244.1h0M268.6 241.4h0M265.0 242.2h0M268.8 240.9h0M270.3 249.7h0M273.3 238.0h0M262.6 245.9h0M255.1 247.4h0M272.3 237.8h0M261.0 245.5h0M268.3 240.2h0M269.0 240.0h0M260.2 245.2h0M270.7 240.9h0M269.6 242.9h0M262.2 251.5h0M271.5 237.6h0M265.5 244.0h0M261.6 248.3h0M272.8 247.0h0M274.4 238.2h0M267.9 240.9h0M271.1 238.2h0M264.7 243.4h0M264.0 245.4h0M265.6 250.9h0M266.4 244.9h0M276.7 236.8h0M251.9 252.6h0M272.8 241.4h0M266.4 246.6h0M265.7 240.7h0M274.3 240.8h0M268.1 243.4h0M268.7 244.7h0M261.8 244.6h0M273.2 248.3h0M266.1 244.3h0M257.2 251.4h0M260.7 253.0h0M267.5 244.8h0M252.4 252.6h0M266.8 245.8h0M261.3 250.3h0M273.8 236.8h0M268.4 240.9h0M253.2 252.4h0M266.6 247.7h0M258.2 245.4h0M253.4 252.5h0M251.3 249.5h0M260.7 249.5h0M274.3 240.8h0M254.1 249.2h0M270.5 245.1h0M269.7 245.6h0M267.7 243.4h0M266.4 244.3h0M272.0 243.0h0M258.6 247.2h0M255.6 250.1h0M265.3 243.2h0M257.8 251.4h0M255.8 253.6h0M254.4 250.2h0M262.7 244.3h0M255.3 250.7h0M261.9 245.6h0M265.8 246.8h0M255.6 249.8h0M266.1 241.7h0M262.3 245.0h0M261.1 247.8h0M276.7 241.7h0M266.8 242.7h0M261.0 248.2h0M272.0 242.6h0M258.1 252.6h0M262.7 247.3h0M259.2 246.9h0M269.0 248.8h0M269.1 247.3h0M272.9 237.5h0M261.0 251.4h0M271.5 240.4h0M264.6 245.6h0M266.5 242.9h0M260.2 253.3h0M272.2 239.4h0M266.1 242.9h0M266.1 247.4h0M261.8 245.1h0M265.5 243.5h0M273.7 239.0h0M265.4 243.5h0M259.1 249.2h0M254.0 250.8h0M262.1 247.0h0M257.8 246.7h0M270.3 247.0h0M250.5 254.1h0M269.7 247.1h0M263.8 247.8h0M272.4 239.7h0M259.5 248.7h0M274.9 239.1h0M261.4 244.5h0M254.4 250.2h0M273.6 238.2h0M266.0 242.9h0M258.3 253.4h0M271.8 243.2h0M264.8 244.1h0M266.5 246.6h0M273.4 242.1h0M270.5 237.5h0M271.4 245.4h0M271.2 239.7h0M273.7 239.5h0M269.1 242.3h0M265.8 241.8h0M264.1 248.2h0M272.1 242.1h0M270.0 241.0h0M266.6 247.9h0M269.8 238.0h0M262.0 245.6h0M271.4 238.2h0M271.2 240.5h0M252.8 250.5h0M271.8 240.8h0M269.4 239.1h0M267.9 248.5h0M266.5 240.3h0M266.8 244.3h0M268.8 240.4h0M264.4 244.8h0M259.6 246.2h0M272.0 242.0h0M264.0 251.1h0M265.4 242.3h0M270.1 241.9h0M268.8 241.1h0M268.1 240.0h0M257.3 252.7h0M261.2 243.9h0M262.4 245.9h0M260.5 244.8h0M267.2 245.4h0M271.0 240.4h0M275.9 239.6h0M274.2 239.0h0M258.3 251.1h0M270.5 244.7h0M265.4 241.8h0M271.1 248.2h0M267.5 243.9h0M259.9 248.7h0M272.2 249.6h0M266.7 241.5h0M261.9 245.9h0M267.7 241.5h0M251.1 252.9h0M266.4 245.1h0M264.0 242.2h0M266.6 242.0h0M271.8 244.0h0M269.1 240.9h0M263.5 241.8h0M274.9 258.8h0M248.9 266.2h0M262.8 258.0h0M261.3 265.0h0" stroke="#ff0000" stroke-width="1.4" stroke-linecap="square"/>
<path d="M259.6 246.6h0M260.3 247.7h0M258.4 248.4h0M259.1 249.6h0M259.1 247.7h0M259.4 247.4h0M259.4 247.2h0M258.2 246.7h0" stroke="#b70202" stroke-width="1.4" stroke-linecap="square"/>
<path d="M246.1 260.3h0M243.9 266.4h0M240.2 263.1h0M239.4 263.2h0M238.1 267.1h0M235.5 273.3h0M238.2 267.0h0M245.4 258.7h0M243.9 258.3h0M293.4 250.4h0M278.0 261.4h0M285.9 264.8h0M290.5 263.7h0M279.1 260.0h0M292.0 268.4h0M279.4 255.5h0M274.9 261.3h0M293.6 264.1h0M274.2 251.6h0M265.4 259.9h0M273.7 253.9h0M256.8 259.7h0M264.4 252.5h0M264.2 265.6h0M251.9 261.7h0M260.7 255.8h0M250.0 256.9h0M261.6 255.9h0" stroke="#ff9999" stroke-width="1.4" stroke-linecap="square"/>
<path d="M244.6 258.2h0M240.4 266.7h0M241.7 267.8h0M240.9 260.5h0M242.9 260.1h0M272.7 252.2h0M289.8 265.8h0M286.3 269.1h0M272.7 253.3h0M275.3 248.0h0M263.2 265.0h0M267.9 259.0h0M256.0 262.9h0M258.2 262.3h0M269.8 257.6h0M253.1 258.0h0M269.5 270.8h0M268.6 261.5h0M262.4 259.2h0" stroke="#ff3333" stroke-width="1.4" stroke-linecap="square"/>
<path d="M242.1 260.9h0M239.7 266.2h0M239.1 264.7h0M234.6 278.9h0M237.6 276.2h0M238.5 268.6h0M284.1 261.6h0M296.8 258.3h0M287.3 262.8h0M288.6 266.7h0M282.8 265.1h0M278.4 256.8h0M277.6 250.4h0M286.0 262.4h0M288.1 269.3h0M289.6 267.4h0M257.3 258.0h0M253.9 256.9h0M249.8 263.0h0M266.6 248.6h0M265.4 258.1h0M257.6 260.0h0M259.1 256.2h0M270.9 254.8h0" stroke="#ff6666" stroke-width="1.4" stroke-linecap="square"/>
</g>
<rect x="196.40" y="208.70" width="124.60" height="92.80" fill="none" stroke="#686868" stroke-width="1.35"/>
<path d="M227.55 208.70v4M227.55 301.50v-4M258.70 208.70v4M258.70 301.50v-4M289.85 208.70v4M289.85 301.50v-4M196.40 239.63h4M321.00 239.63h-4M196.40 270.57h4M321.00 270.57h-4" stroke="#686868" stroke-width="0.9"/>
<clipPath id="c13"><rect x="196.40" y="309.60" width="124.60" height="92.70"/></clipPath>
<g clip-path="url(#c13)">
<rect x="196.40" y="309.60" width="124.60" height="92.70" fill="#fff"/>
<path d="M188.61 471.82 L228.48 468.74 C228.41 467.91 228.25 465.49 228.02 463.79 C227.78 462.09 227.68 459.75 227.08 458.54 C226.49 457.33 225.89 457.20 224.44 456.53 C222.98 455.86 220.07 455.55 218.36 454.52 C216.65 453.49 215.06 452.07 214.16 450.35 C213.25 448.62 212.73 446.23 212.91 444.17 C213.09 442.11 214.18 440.08 215.25 437.99 C216.31 435.90 218.36 434.08 219.30 431.66 C220.23 429.23 220.46 426.56 220.85 423.47 C221.24 420.38 221.11 416.85 221.63 413.12 C222.15 409.38 223.27 404.28 223.97 401.06 C224.67 397.85 225.06 396.35 225.84 393.80 C226.62 391.25 227.78 388.32 228.64 385.77 C229.50 383.22 230.22 380.57 230.98 378.51 C231.73 376.45 232.46 374.95 233.16 373.41 C233.86 371.86 234.48 370.76 235.18 369.24 C235.88 367.72 236.64 365.74 237.36 364.29 C238.09 362.85 238.61 361.85 239.54 360.59 C240.48 359.32 241.70 357.98 242.97 356.72 C244.24 355.46 245.82 354.28 247.17 353.01 C248.52 351.75 249.54 350.70 251.07 349.15 C252.60 347.61 254.75 345.37 256.36 343.74 C257.97 342.12 259.27 340.63 260.72 339.42 C262.18 338.21 263.40 337.33 265.09 336.48 C266.77 335.63 269.19 334.89 270.85 334.32 C272.51 333.75 273.65 333.42 275.05 333.08 C276.46 332.75 278.56 332.44 279.26 332.31 L284.40 333.55 L283.31 323.97 L283.15 322.89 L281.60 322.27 L281.44 320.11 L282.84 319.33 L282.06 314.24 L281.60 301.88 L188.61 301.88Z" fill="#e6e6e6"/>
<path d="M283.15 301.88 L283.46 310.37 L290.94 329.22 L293.28 346.06 L293.28 347.14 L303.24 346.37 L301.53 327.83 L309.63 327.37 L309.63 333.55 L313.68 333.55 L313.68 326.13 L321.31 324.43 L324.58 329.22 L319.13 333.55 L320.22 334.94 L334.86 328.76 L336.26 328.14 L339.53 328.76 L341.71 329.53 L345.76 327.06 L349.35 324.12 L351.53 320.57 L359.94 316.55 L359.94 301.88Z" fill="#e6e6e6"/>
<path d="M280.66 348.84 L288.14 342.97 L289.07 344.52 L289.85 348.84 L292.03 352.71 L292.50 355.33 L290.94 358.11 L287.05 360.59 L282.69 362.59 L280.66 361.51 L282.22 359.19 L282.84 355.80 L283.46 352.24 L281.75 350.08Z" fill="#e6e6e6"/>
<path d="M228.48 468.74 C228.41 467.91 228.25 465.49 228.02 463.79 C227.78 462.09 227.68 459.75 227.08 458.54 C226.49 457.33 225.89 457.20 224.44 456.53 C222.98 455.86 220.07 455.55 218.36 454.52 C216.65 453.49 215.06 452.07 214.16 450.35 C213.25 448.62 212.73 446.23 212.91 444.17 C213.09 442.11 214.18 440.08 215.25 437.99 C216.31 435.90 218.36 434.08 219.30 431.66 C220.23 429.23 220.46 426.56 220.85 423.47 C221.24 420.38 221.11 416.85 221.63 413.12 C222.15 409.38 223.27 404.28 223.97 401.06 C224.67 397.85 225.06 396.35 225.84 393.80 C226.62 391.25 227.78 388.32 228.64 385.77 C229.50 383.22 230.22 380.57 230.98 378.51 C231.73 376.45 232.46 374.95 233.16 373.41 C233.86 371.86 234.48 370.76 235.18 369.24 C235.88 367.72 236.64 365.74 237.36 364.29 C238.09 362.85 238.61 361.85 239.54 360.59 C240.48 359.32 241.70 357.98 242.97 356.72 C244.24 355.46 245.82 354.28 247.17 353.01 C248.52 351.75 249.54 350.70 251.07 349.15 C252.60 347.61 254.75 345.37 256.36 343.74 C257.97 342.12 259.27 340.63 260.72 339.42 C262.18 338.21 263.40 337.33 265.09 336.48 C266.77 335.63 269.19 334.89 270.85 334.32 C272.51 333.75 273.65 333.42 275.05 333.08 C276.46 332.75 278.56 332.44 279.26 332.31 L284.40 333.55 L283.31 323.97 L283.15 322.89 L281.60 322.27 L281.44 320.11 L282.84 319.33 L282.06 314.24 L281.60 301.88" fill="none" stroke="#8c8c8c" stroke-width="0.8" stroke-linejoin="round"/>
<path d="M283.15 301.88 L283.46 310.37 L290.94 329.22 L293.28 346.06 L293.28 347.14 L303.24 346.37 L301.53 327.83 L309.63 327.37 L309.63 333.55 L313.68 333.55 L313.68 326.13 L321.31 324.43 L324.58 329.22 L319.13 333.55 L320.22 334.94 L334.86 328.76 L336.26 328.14 L339.53 328.76 L341.71 329.53 L345.76 327.06 L349.35 324.12 L351.53 320.57 L359.94 316.55 L359.94 301.88" fill="none" stroke="#8c8c8c" stroke-width="0.8" stroke-linejoin="round"/>
<path d="M303.24 346.37 L321.78 343.74" fill="none" stroke="#8c8c8c" stroke-width="0.8" stroke-linejoin="round"/>
<path d="M341.71 329.53 C341.79 330.07 342.47 331.87 342.18 332.78 C341.90 333.68 341.30 334.14 340.00 334.94 C338.70 335.74 335.33 337.13 334.39 337.56" fill="none" stroke="#8c8c8c" stroke-width="0.8" stroke-linejoin="round"/>
<path d="M279.26 332.31 C279.39 332.96 279.73 335.22 280.04 336.17 C280.35 337.13 280.63 337.72 281.13 338.03 C281.62 338.34 282.45 338.39 283.00 338.03 C283.54 337.67 284.17 336.61 284.40 335.87 C284.63 335.12 284.40 333.93 284.40 333.55" fill="none" stroke="#8c8c8c" stroke-width="0.8" stroke-linejoin="round"/>
<path d="M280.66 348.84 L288.14 342.97 L289.07 344.52 L289.85 348.84 L292.03 352.71 L292.50 355.33 L290.94 358.11 L287.05 360.59 L282.69 362.59 L280.66 361.51 L282.22 359.19 L282.84 355.80 L283.46 352.24 L281.75 350.08Z" fill="none" stroke="#8c8c8c" stroke-width="0.8" stroke-linejoin="round"/>
<path d="M280.66 348.84 C280.19 348.87 278.61 348.48 277.86 349.00 C277.10 349.51 276.33 350.88 276.14 351.93 C275.96 352.99 276.12 354.30 276.77 355.33 C277.42 356.36 279.49 357.65 280.04 358.11" fill="none" stroke="#8c8c8c" stroke-width="0.8" stroke-linejoin="round"/>
<path d="M263.53 364.76 C264.23 364.50 266.33 363.26 267.73 363.21 C269.14 363.16 270.67 363.73 271.94 364.45 C273.21 365.17 274.64 366.38 275.37 367.54 C276.09 368.70 276.43 370.06 276.30 371.40 C276.17 372.74 275.44 374.39 274.59 375.57 C273.73 376.76 271.73 378.02 271.16 378.51" fill="none" stroke="#a6a6a6" stroke-width="1.6"/>
<path d="M256.21 369.55 C255.84 370.11 254.44 371.86 254.03 372.94 C253.61 374.03 253.46 374.80 253.72 376.04 C253.98 377.27 254.75 379.25 255.59 380.36 C256.42 381.47 257.69 382.19 258.70 382.68 C259.71 383.17 260.57 383.30 261.66 383.30 C262.75 383.30 264.18 383.04 265.24 382.68 C266.31 382.32 267.58 381.39 268.05 381.13" fill="none" stroke="#a6a6a6" stroke-width="1.6"/>
<path d="M269.6 340.6h0M255.3 353.6h0M253.5 352.1h0M252.9 353.3h0M271.3 343.6h0M263.3 344.1h0M263.9 345.7h0M263.3 353.5h0M264.3 345.7h0M266.2 347.1h0M260.8 348.8h0M267.5 340.8h0M265.8 345.7h0M263.8 345.8h0M267.8 343.7h0M264.8 343.8h0M265.9 347.2h0M263.3 346.2h0M261.2 348.8h0M268.2 343.0h0M253.8 355.9h0M256.1 356.7h0M267.2 341.1h0M262.3 350.8h0M272.7 343.2h0M258.6 347.2h0M267.5 341.6h0M268.2 348.5h0M265.1 343.6h0M262.3 345.9h0M257.4 350.8h0M250.7 354.3h0M253.2 357.8h0M269.3 344.0h0M264.2 347.0h0M264.5 351.1h0M270.3 341.9h0M259.8 347.8h0M257.2 349.6h0M260.9 348.3h0M253.5 355.7h0M260.4 347.0h0M266.6 340.5h0M258.3 347.7h0M272.4 339.1h0M269.6 346.7h0M262.7 346.0h0M260.1 348.8h0M255.1 353.2h0M263.3 345.4h0M258.9 349.7h0M259.0 348.8h0M249.6 359.6h0M266.1 351.4h0M254.1 355.1h0M265.3 345.5h0M264.1 343.4h0M263.0 345.9h0M253.1 353.9h0M252.2 356.9h0M253.6 351.8h0M252.7 353.6h0M259.7 350.3h0M269.7 348.0h0M249.4 354.4h0M257.7 350.7h0M262.8 346.2h0M253.7 355.9h0M266.7 342.5h0M257.8 347.1h0M259.5 349.8h0M257.2 350.0h0M257.2 347.1h0M255.5 357.0h0M267.2 341.9h0M263.8 348.3h0M272.0 338.5h0M266.4 343.1h0M260.5 345.1h0M267.9 341.2h0M264.2 345.1h0M254.0 352.9h0M265.1 344.7h0M268.8 345.7h0M266.3 348.9h0M263.9 343.4h0M257.8 348.4h0M271.7 346.9h0M259.9 354.3h0M263.0 345.1h0M269.7 339.5h0M250.7 355.8h0M254.6 353.1h0M263.8 346.5h0M248.8 357.6h0M261.6 353.5h0M268.7 342.2h0M264.2 351.4h0M267.7 340.2h0M270.6 342.0h0M259.6 350.1h0M266.1 348.8h0M261.4 345.2h0M247.8 355.7h0M255.6 352.1h0M267.6 341.9h0M269.2 346.0h0M267.9 345.4h0M250.8 354.8h0M259.2 346.7h0M267.1 344.8h0M248.4 356.6h0M273.3 339.4h0M269.1 340.0h0M254.2 355.4h0M260.4 350.5h0M266.4 345.1h0M256.8 349.5h0M268.6 345.1h0M247.8 358.8h0M264.7 344.9h0M261.0 347.8h0M267.4 343.1h0M260.0 351.1h0M264.4 349.8h0M262.5 348.7h0M271.3 343.1h0M254.0 357.2h0M263.1 344.4h0M255.1 351.6h0M252.4 353.7h0M264.8 346.0h0M260.2 353.2h0M265.0 345.7h0M258.4 346.3h0M250.3 353.7h0M262.0 347.9h0M249.5 356.0h0M262.9 343.0h0M268.7 343.5h0M251.4 355.4h0M272.2 345.2h0M260.4 344.6h0M261.7 343.5h0M258.6 352.7h0M259.3 348.1h0M264.4 344.5h0M266.1 343.0h0M257.8 353.6h0M262.0 346.4h0M262.7 346.9h0M257.7 352.3h0M252.7 353.6h0M255.9 353.1h0M266.7 352.4h0M264.3 345.6h0M252.4 356.8h0M252.7 354.6h0M267.8 341.0h0M262.2 348.1h0M265.5 351.4h0M254.4 354.9h0M257.2 348.3h0M266.2 342.2h0M265.7 343.9h0M270.8 338.4h0M260.1 349.0h0M260.6 348.9h0M267.5 342.4h0M266.4 350.8h0M271.3 341.1h0M250.2 354.7h0M256.0 356.0h0M257.6 348.9h0M258.7 355.2h0M253.9 353.0h0M267.7 343.9h0M254.7 349.9h0M256.6 352.6h0M258.5 355.5h0M267.8 343.1h0M268.5 342.6h0M257.3 347.2h0M267.0 342.9h0M263.3 347.3h0M271.7 338.9h0M261.0 349.0h0M268.6 344.6h0M263.4 348.3h0M248.9 356.2h0M269.8 345.7h0M264.6 348.0h0M263.6 349.5h0M259.2 350.3h0M268.6 341.1h0M261.5 353.3h0M253.9 356.4h0M255.5 351.6h0M264.5 343.0h0M249.4 357.0h0M259.6 347.8h0M273.7 339.2h0M264.5 347.9h0M259.2 351.2h0M264.6 348.6h0M253.8 357.9h0M270.3 345.6h0M262.9 345.5h0M272.0 345.0h0M261.3 349.7h0M254.0 353.5h0M267.6 342.2h0M268.8 341.4h0M271.7 343.7h0M257.4 352.0h0M260.1 351.7h0M258.1 348.3h0M252.0 353.1h0M266.9 341.6h0M248.7 357.7h0M263.0 348.5h0M262.2 345.9h0M262.3 344.7h0M267.1 342.1h0M254.6 352.8h0M271.7 341.2h0M256.0 354.3h0M264.4 348.6h0M256.6 354.8h0M254.2 350.7h0M250.7 352.9h0M271.0 345.4h0M269.1 344.0h0M253.7 354.2h0M258.4 347.1h0M259.1 349.4h0M265.1 342.6h0M264.9 342.7h0M263.6 347.0h0M268.6 340.2h0M267.0 345.6h0M271.8 346.0h0M265.4 345.3h0M250.4 358.1h0M263.1 348.3h0M256.1 358.2h0M269.5 340.2h0M254.8 350.9h0M265.8 346.1h0M261.6 347.9h0M270.2 339.7h0M259.2 346.7h0M253.3 357.8h0M253.4 355.1h0M262.5 347.5h0M261.2 348.2h0M260.0 349.8h0M253.2 353.6h0M263.7 348.5h0M271.2 339.2h0M261.8 345.2h0M259.9 347.3h0M265.8 349.5h0M263.1 346.1h0M264.4 345.8h0M253.2 352.4h0M258.3 352.5h0M258.2 350.2h0M243.6 361.0h0M240.8 367.0h0M274.1 354.0h0M286.4 342.2h0M277.5 344.7h0M271.9 352.4h0M270.3 347.0h0M260.8 362.6h0M254.9 363.5h0" stroke="#ff0000" stroke-width="1.4" stroke-linecap="square"/>
<path d="M258.0 349.1h0M256.2 349.3h0M256.9 350.6h0M253.8 350.2h0M256.6 349.6h0M255.9 351.3h0M258.3 348.5h0M257.2 348.2h0M256.9 348.7h0M256.3 349.1h0M256.6 350.8h0M256.1 350.7h0" stroke="#b70202" stroke-width="1.4" stroke-linecap="square"/>
<path d="M237.8 367.9h0M236.6 372.1h0M239.7 367.1h0M241.1 361.9h0M238.2 367.5h0M270.1 356.6h0M276.5 354.1h0M271.8 345.1h0M284.8 340.7h0M276.5 351.9h0M277.9 347.9h0M277.7 350.6h0M284.1 361.6h0M278.4 350.9h0M277.0 341.2h0M274.9 349.3h0M264.5 361.4h0M244.7 367.9h0M269.6 366.6h0M267.8 368.4h0M268.1 366.9h0M253.2 363.8h0M265.0 359.7h0" stroke="#ff9999" stroke-width="1.4" stroke-linecap="square"/>
<path d="M245.4 358.6h0M235.4 372.5h0M247.8 354.9h0M240.5 369.3h0M238.3 366.5h0M238.7 367.6h0M233.9 378.9h0M234.7 374.1h0M274.4 363.7h0M287.1 366.7h0M268.8 355.7h0M272.4 352.9h0M268.4 347.0h0M281.3 341.7h0M279.6 350.9h0M275.0 354.6h0M282.7 367.0h0M287.4 364.7h0M292.2 367.0h0M250.2 361.7h0M251.8 358.9h0" stroke="#ff6666" stroke-width="1.4" stroke-linecap="square"/>
<path d="M235.6 377.6h0M240.6 363.2h0M236.5 373.5h0M236.1 370.8h0M242.3 364.8h0M275.3 349.2h0M276.2 350.6h0M279.3 347.4h0M276.5 346.9h0M280.1 362.4h0M275.1 357.1h0M291.5 354.8h0M276.9 353.3h0M285.4 363.0h0M265.0 360.9h0M264.4 365.4h0M257.7 373.2h0M262.5 365.6h0M264.0 365.3h0M256.5 358.5h0M268.2 354.8h0M264.4 371.0h0" stroke="#ff3333" stroke-width="1.4" stroke-linecap="square"/>
</g>
<rect x="196.40" y="309.60" width="124.60" height="92.70" fill="none" stroke="#686868" stroke-width="1.35"/>
<path d="M227.55 309.60v4M227.55 402.30v-4M258.70 309.60v4M258.70 402.30v-4M289.85 309.60v4M289.85 402.30v-4M196.40 340.50h4M321.00 340.50h-4M196.40 371.40h4M321.00 371.40h-4" stroke="#686868" stroke-width="0.9"/>
<clipPath id="c14"><rect x="196.40" y="410.60" width="124.60" height="93.00"/></clipPath>
<g clip-path="url(#c14)">
<rect x="196.40" y="410.60" width="124.60" height="93.00" fill="#fff"/>
<path d="M188.61 573.35 L228.48 570.25 C228.41 569.42 228.25 567.00 228.02 565.29 C227.78 563.58 227.68 561.23 227.08 560.02 C226.49 558.81 225.89 558.68 224.44 558.00 C222.98 557.33 220.07 557.02 218.36 555.99 C216.65 554.96 215.06 553.54 214.16 551.81 C213.25 550.07 212.73 547.67 212.91 545.61 C213.09 543.54 214.18 541.50 215.25 539.40 C216.31 537.31 218.36 535.48 219.30 533.05 C220.23 530.62 220.46 527.94 220.85 524.84 C221.24 521.74 221.11 518.20 221.63 514.45 C222.15 510.70 223.27 505.59 223.97 502.36 C224.67 499.13 225.06 497.63 225.84 495.08 C226.62 492.52 227.78 489.57 228.64 487.01 C229.50 484.46 230.22 481.80 230.98 479.73 C231.73 477.66 232.46 476.17 233.16 474.62 C233.86 473.06 234.48 471.95 235.18 470.43 C235.88 468.91 236.64 466.92 237.36 465.47 C238.09 464.02 238.61 463.02 239.54 461.75 C240.48 460.48 241.70 459.14 242.97 457.88 C244.24 456.61 245.82 455.42 247.17 454.16 C248.52 452.89 249.54 451.83 251.07 450.28 C252.60 448.73 254.75 446.48 256.36 444.86 C257.97 443.23 259.27 441.73 260.72 440.52 C262.18 439.30 263.40 438.42 265.09 437.57 C266.77 436.72 269.19 435.97 270.85 435.40 C272.51 434.83 273.65 434.50 275.05 434.16 C276.46 433.82 278.56 433.51 279.26 433.39 L284.40 434.62 L283.31 425.02 L283.15 423.93 L281.60 423.31 L281.44 421.14 L282.84 420.37 L282.06 415.25 L281.60 402.85 L188.61 402.85Z" fill="#e6e6e6"/>
<path d="M283.15 402.85 L283.46 411.38 L290.94 430.29 L293.28 447.18 L293.28 448.27 L303.24 447.49 L301.53 428.89 L309.63 428.43 L309.63 434.62 L313.68 434.62 L313.68 427.19 L321.31 425.48 L324.58 430.29 L319.13 434.62 L320.22 436.02 L334.86 429.82 L336.26 429.20 L339.53 429.82 L341.71 430.60 L345.76 428.12 L349.35 425.17 L351.53 421.61 L359.94 417.58 L359.94 402.85Z" fill="#e6e6e6"/>
<path d="M280.66 449.97 L288.14 444.08 L289.07 445.63 L289.85 449.97 L292.03 453.85 L292.50 456.48 L290.94 459.27 L287.05 461.75 L282.69 463.77 L280.66 462.68 L282.22 460.36 L282.84 456.95 L283.46 453.38 L281.75 451.21Z" fill="#e6e6e6"/>
<path d="M228.48 570.25 C228.41 569.42 228.25 567.00 228.02 565.29 C227.78 563.58 227.68 561.23 227.08 560.02 C226.49 558.81 225.89 558.68 224.44 558.00 C222.98 557.33 220.07 557.02 218.36 555.99 C216.65 554.96 215.06 553.54 214.16 551.81 C213.25 550.07 212.73 547.67 212.91 545.61 C213.09 543.54 214.18 541.50 215.25 539.40 C216.31 537.31 218.36 535.48 219.30 533.05 C220.23 530.62 220.46 527.94 220.85 524.84 C221.24 521.74 221.11 518.20 221.63 514.45 C222.15 510.70 223.27 505.59 223.97 502.36 C224.67 499.13 225.06 497.63 225.84 495.08 C226.62 492.52 227.78 489.57 228.64 487.01 C229.50 484.46 230.22 481.80 230.98 479.73 C231.73 477.66 232.46 476.17 233.16 474.62 C233.86 473.06 234.48 471.95 235.18 470.43 C235.88 468.91 236.64 466.92 237.36 465.47 C238.09 464.02 238.61 463.02 239.54 461.75 C240.48 460.48 241.70 459.14 242.97 457.88 C244.24 456.61 245.82 455.42 247.17 454.16 C248.52 452.89 249.54 451.83 251.07 450.28 C252.60 448.73 254.75 446.48 256.36 444.86 C257.97 443.23 259.27 441.73 260.72 440.52 C262.18 439.30 263.40 438.42 265.09 437.57 C266.77 436.72 269.19 435.97 270.85 435.40 C272.51 434.83 273.65 434.50 275.05 434.16 C276.46 433.82 278.56 433.51 279.26 433.39 L284.40 434.62 L283.31 425.02 L283.15 423.93 L281.60 423.31 L281.44 421.14 L282.84 420.37 L282.06 415.25 L281.60 402.85" fill="none" stroke="#8c8c8c" stroke-width="0.8" stroke-linejoin="round"/>
<path d="M283.15 402.85 L283.46 411.38 L290.94 430.29 L293.28 447.18 L293.28 448.27 L303.24 447.49 L301.53 428.89 L309.63 428.43 L309.63 434.62 L313.68 434.62 L313.68 427.19 L321.31 425.48 L324.58 430.29 L319.13 434.62 L320.22 436.02 L334.86 429.82 L336.26 429.20 L339.53 429.82 L341.71 430.60 L345.76 428.12 L349.35 425.17 L351.53 421.61 L359.94 417.58 L359.94 402.85" fill="none" stroke="#8c8c8c" stroke-width="0.8" stroke-linejoin="round"/>
<path d="M303.24 447.49 L321.78 444.86" fill="none" stroke="#8c8c8c" stroke-width="0.8" stroke-linejoin="round"/>
<path d="M341.71 430.60 C341.79 431.14 342.47 432.95 342.18 433.85 C341.90 434.75 341.30 435.22 340.00 436.02 C338.70 436.82 335.33 438.22 334.39 438.66" fill="none" stroke="#8c8c8c" stroke-width="0.8" stroke-linejoin="round"/>
<path d="M279.26 433.39 C279.39 434.03 279.73 436.30 280.04 437.26 C280.35 438.22 280.63 438.81 281.13 439.12 C281.62 439.43 282.45 439.48 283.00 439.12 C283.54 438.76 284.17 437.70 284.40 436.95 C284.63 436.20 284.40 435.01 284.40 434.62" fill="none" stroke="#8c8c8c" stroke-width="0.8" stroke-linejoin="round"/>
<path d="M280.66 449.97 L288.14 444.08 L289.07 445.63 L289.85 449.97 L292.03 453.85 L292.50 456.48 L290.94 459.27 L287.05 461.75 L282.69 463.77 L280.66 462.68 L282.22 460.36 L282.84 456.95 L283.46 453.38 L281.75 451.21Z" fill="none" stroke="#8c8c8c" stroke-width="0.8" stroke-linejoin="round"/>
<path d="M280.66 449.97 C280.19 450.00 278.61 449.61 277.86 450.12 C277.10 450.64 276.33 452.01 276.14 453.07 C275.96 454.13 276.12 455.45 276.77 456.48 C277.42 457.51 279.49 458.81 280.04 459.27" fill="none" stroke="#8c8c8c" stroke-width="0.8" stroke-linejoin="round"/>
<path d="M263.53 465.94 C264.23 465.68 266.33 464.44 267.73 464.39 C269.14 464.33 270.67 464.90 271.94 465.62 C273.21 466.35 274.64 467.56 275.37 468.73 C276.09 469.89 276.43 471.26 276.30 472.60 C276.17 473.94 275.44 475.60 274.59 476.79 C273.73 477.97 271.73 479.24 271.16 479.73" fill="none" stroke="#a6a6a6" stroke-width="1.6"/>
<path d="M256.21 470.74 C255.84 471.31 254.44 473.07 254.03 474.15 C253.61 475.24 253.46 476.01 253.72 477.25 C253.98 478.49 254.75 480.48 255.59 481.59 C256.42 482.70 257.69 483.42 258.70 483.92 C259.71 484.41 260.57 484.54 261.66 484.54 C262.75 484.54 264.18 484.28 265.24 483.92 C266.31 483.55 267.58 482.62 268.05 482.37" fill="none" stroke="#a6a6a6" stroke-width="1.6"/>
<path d="M255.0 451.9h0M262.8 448.9h0M262.9 446.2h0M254.0 454.7h0M252.8 458.8h0M259.7 450.7h0M261.8 445.8h0M258.1 450.0h0M267.8 442.7h0M259.4 454.7h0M269.5 441.0h0M261.9 449.7h0M257.1 452.4h0M243.1 466.8h0M265.7 444.4h0M256.9 454.2h0M248.3 458.4h0M264.7 447.9h0M267.9 444.3h0M261.6 449.3h0M269.5 442.3h0M265.5 446.5h0M254.2 455.4h0M251.4 456.1h0M256.4 453.0h0M257.3 452.4h0M269.3 442.3h0M264.2 445.2h0M252.4 456.4h0M270.7 441.3h0M264.0 445.9h0M251.7 453.3h0M253.8 459.3h0M264.6 448.5h0M250.2 457.1h0M261.7 448.0h0M264.2 446.2h0M262.6 447.0h0M261.7 446.9h0M262.1 448.6h0M269.7 442.3h0M262.9 446.1h0M262.4 451.8h0M262.8 448.2h0M267.5 443.4h0M262.3 450.6h0M261.6 449.5h0M256.1 452.5h0M250.3 459.7h0M266.7 445.5h0M249.0 460.6h0M255.6 455.9h0M265.4 444.4h0M243.3 465.1h0M261.4 446.6h0M250.4 458.9h0M264.8 445.7h0M259.9 454.4h0M264.7 444.4h0M258.7 449.8h0M262.2 449.4h0M255.1 456.4h0M246.8 459.9h0M266.1 442.6h0M263.3 452.5h0M251.9 457.4h0M245.5 464.7h0M256.7 454.2h0M247.1 459.4h0M253.4 456.7h0M256.4 453.3h0M266.9 443.8h0M250.1 456.6h0M267.4 445.0h0M266.8 444.7h0M259.7 453.2h0M247.1 460.1h0M251.4 457.1h0M257.5 454.5h0M261.6 445.7h0M253.3 457.4h0M264.0 446.6h0M265.4 446.9h0M250.0 460.6h0M254.5 456.7h0M247.9 459.1h0M263.5 452.2h0M262.2 451.3h0M259.3 451.1h0M256.5 452.9h0M253.3 455.9h0M255.5 454.3h0M262.1 453.2h0M265.1 445.4h0M259.6 452.0h0M247.6 462.2h0M265.3 445.9h0M252.9 461.9h0M256.6 453.8h0M263.5 447.8h0M246.0 459.8h0M267.7 443.5h0M264.0 451.0h0M266.4 445.4h0M265.2 447.5h0M257.8 456.0h0M265.9 449.8h0M266.6 445.3h0M269.7 440.9h0M242.8 465.1h0M255.1 453.9h0M260.9 450.2h0M259.4 453.3h0M266.6 445.1h0M253.0 454.0h0M263.6 451.1h0M267.4 444.1h0M270.6 440.3h0M263.6 448.9h0M264.1 449.5h0M265.7 445.5h0M263.5 449.4h0M248.8 460.2h0M258.6 453.7h0M257.2 453.4h0M259.3 451.4h0M258.1 449.7h0M265.0 447.5h0M258.1 453.4h0M256.7 453.5h0M252.6 458.9h0M271.8 439.4h0M254.7 453.6h0M243.9 465.8h0M255.5 457.0h0M254.2 455.5h0M268.4 441.5h0M261.9 445.5h0M261.8 449.3h0M263.1 446.2h0M261.7 450.6h0M240.5 464.5h0M264.2 449.3h0M252.4 455.8h0M252.9 456.9h0M266.8 447.8h0M251.2 459.7h0M255.1 451.2h0M265.1 446.2h0M266.4 442.7h0M247.9 461.6h0M268.6 446.0h0M258.9 457.3h0M252.8 455.8h0M248.6 458.3h0M262.3 449.8h0M244.9 466.9h0M262.4 447.5h0M264.5 445.3h0M266.8 444.8h0M271.1 444.2h0M260.5 450.9h0M242.5 465.6h0M260.9 450.3h0M254.0 453.9h0M252.9 455.8h0M256.8 453.4h0M262.5 446.7h0M266.7 443.5h0M263.6 446.0h0M264.3 447.2h0M263.5 446.8h0M245.9 462.9h0M244.7 461.8h0M261.6 447.1h0M261.2 449.8h0M257.8 452.4h0M266.2 442.6h0M255.3 453.6h0M260.7 452.6h0M270.1 440.4h0M264.8 445.7h0M260.1 455.9h0M267.1 448.2h0M247.9 461.3h0M263.8 445.6h0M249.1 457.3h0M249.8 459.4h0M261.6 452.8h0M251.0 457.3h0M253.7 458.2h0M265.8 445.5h0M246.3 463.0h0M262.2 445.3h0M265.9 444.6h0M254.1 456.1h0M263.4 446.9h0M263.1 449.5h0M263.7 444.4h0M261.0 448.2h0M265.9 446.3h0M252.0 458.8h0M263.6 446.8h0M266.3 446.6h0M254.8 459.5h0M260.8 452.2h0M254.9 454.2h0M260.3 449.8h0M254.4 452.9h0M257.9 456.3h0M264.7 448.8h0M259.6 451.2h0M254.1 454.6h0M265.6 447.9h0M265.1 449.0h0M257.4 452.0h0M267.6 445.2h0M252.2 459.1h0M253.4 456.5h0M265.7 447.7h0M251.0 461.1h0M255.4 457.3h0M251.0 458.6h0M262.7 449.7h0M247.1 459.6h0M244.9 461.8h0M259.2 450.8h0M250.7 458.5h0M256.0 454.6h0M246.4 461.8h0M255.4 456.8h0M252.2 457.6h0M241.8 466.0h0M240.4 466.3h0M249.4 459.7h0M265.6 445.7h0M251.4 455.2h0M255.3 458.3h0M263.9 450.8h0M268.6 440.9h0M255.5 456.9h0M263.8 445.2h0M257.7 451.8h0M260.1 455.2h0M247.7 462.1h0M263.6 446.7h0M257.3 459.4h0M257.5 450.6h0M264.9 442.4h0M253.9 456.4h0M259.0 454.0h0M253.5 458.2h0M254.6 453.1h0M259.9 453.8h0M262.1 452.4h0M259.1 452.8h0M249.5 457.5h0M245.0 464.7h0M271.2 440.0h0M256.0 450.3h0M253.2 459.3h0M266.9 445.5h0M257.6 455.5h0M266.6 445.6h0M257.3 455.5h0M268.4 445.6h0M251.1 459.3h0M254.0 456.9h0M252.6 456.7h0M262.4 445.9h0M251.9 458.3h0M256.5 450.9h0M258.9 450.9h0M235.7 471.5h0M239.5 473.8h0M278.3 456.1h0M278.1 454.0h0M276.0 460.2h0M275.8 439.3h0M277.3 448.8h0M269.0 458.9h0M259.7 469.4h0M262.2 469.3h0M264.0 463.7h0M263.9 469.8h0M267.3 475.0h0M250.0 471.7h0" stroke="#ff0000" stroke-width="1.4" stroke-linecap="square"/>
<path d="M260.8 448.5h0M259.1 449.1h0M259.7 446.8h0M261.2 449.1h0M258.4 450.0h0M258.9 448.4h0M259.3 449.1h0" stroke="#b70202" stroke-width="1.4" stroke-linecap="square"/>
<path d="M235.1 475.3h0M238.2 471.6h0M235.2 474.6h0M241.9 463.1h0M235.7 471.9h0M238.5 468.7h0M236.2 475.5h0M236.8 469.7h0M275.3 453.5h0M267.7 451.7h0M283.2 442.1h0M278.6 453.9h0M269.9 445.7h0M278.8 453.0h0M291.9 451.5h0M278.9 447.3h0M254.4 466.0h0M252.3 465.2h0M248.9 467.5h0" stroke="#ff9999" stroke-width="1.4" stroke-linecap="square"/>
<path d="M237.2 469.0h0M233.2 481.3h0M237.4 473.1h0M236.3 471.1h0M237.6 476.3h0M239.2 468.6h0M238.0 475.9h0M236.5 471.7h0M235.6 472.9h0M236.7 473.4h0M268.6 462.1h0M265.1 450.6h0M274.5 459.4h0M284.2 441.0h0M267.2 444.6h0M271.2 456.8h0M276.5 451.1h0M266.1 442.8h0M260.2 460.5h0M258.5 458.8h0M258.4 468.2h0M270.0 462.7h0M264.0 476.5h0M250.8 465.3h0M266.2 475.4h0" stroke="#ff6666" stroke-width="1.4" stroke-linecap="square"/>
<path d="M238.4 470.5h0M233.4 477.8h0M236.1 471.5h0M242.7 462.4h0M236.2 471.2h0M259.0 451.9h0M284.2 441.5h0M284.0 443.4h0M268.6 450.8h0M276.6 439.9h0M275.0 449.6h0M275.5 444.0h0M279.4 456.0h0M277.3 446.7h0M279.1 443.8h0M271.0 448.7h0M278.4 456.0h0M253.8 460.8h0M261.2 467.1h0M252.5 469.9h0M267.4 466.3h0M254.1 466.8h0" stroke="#ff3333" stroke-width="1.4" stroke-linecap="square"/>
</g>
<rect x="196.40" y="410.60" width="124.60" height="93.00" fill="none" stroke="#686868" stroke-width="1.35"/>
<path d="M227.55 410.60v4M227.55 503.60v-4M258.70 410.60v4M258.70 503.60v-4M289.85 410.60v4M289.85 503.60v-4M196.40 441.60h4M321.00 441.60h-4M196.40 472.60h4M321.00 472.60h-4" stroke="#686868" stroke-width="0.9"/>
<clipPath id="ck"><rect x="346.80" y="6.40" width="155.90" height="154.60"/></clipPath>
<g clip-path="url(#ck)">
<rect x="346.80" y="6.40" width="155.90" height="154.60" fill="#fff"/>
<path d="M339.00 168.73 L378.92 165.64 C378.84 164.81 378.68 162.39 378.45 160.69 C378.21 158.99 378.11 156.65 377.51 155.43 C376.91 154.22 376.32 154.09 374.86 153.42 C373.41 152.75 370.50 152.45 368.78 151.41 C367.07 150.38 365.48 148.97 364.57 147.24 C363.66 145.51 363.14 143.12 363.33 141.06 C363.51 139.00 364.60 136.96 365.66 134.87 C366.73 132.79 368.78 130.96 369.72 128.53 C370.65 126.11 370.89 123.43 371.28 120.34 C371.67 117.25 371.54 113.72 372.06 109.98 C372.58 106.25 373.69 101.14 374.39 97.92 C375.10 94.70 375.49 93.21 376.27 90.66 C377.04 88.11 378.21 85.17 379.07 82.62 C379.93 80.07 380.66 77.41 381.41 75.35 C382.16 73.29 382.89 71.80 383.59 70.25 C384.29 68.70 384.92 67.60 385.62 66.08 C386.32 64.56 387.07 62.57 387.80 61.13 C388.53 59.69 389.05 58.68 389.98 57.42 C390.92 56.16 392.14 54.82 393.41 53.55 C394.69 52.29 396.27 51.11 397.62 49.84 C398.97 48.58 399.99 47.52 401.52 45.98 C403.05 44.43 405.21 42.19 406.82 40.57 C408.43 38.94 409.73 37.45 411.19 36.24 C412.64 35.03 413.86 34.15 415.55 33.30 C417.24 32.45 419.66 31.70 421.32 31.14 C422.98 30.57 424.13 30.23 425.53 29.90 C426.93 29.56 429.04 29.26 429.74 29.13 L434.88 30.36 L433.79 20.78 L433.64 19.70 L432.08 19.08 L431.92 16.91 L433.32 16.14 L432.55 11.04 L432.08 -1.33 L339.00 -1.33Z" fill="#e6e6e6"/>
<path d="M433.64 -1.33 L433.95 7.17 L441.43 26.03 L443.77 42.89 L443.77 43.97 L453.75 43.19 L452.03 24.64 L460.14 24.18 L460.14 30.36 L464.19 30.36 L464.19 22.94 L471.83 21.24 L475.11 26.03 L469.65 30.36 L470.74 31.75 L485.40 25.57 L486.80 24.95 L490.07 25.57 L492.25 26.34 L496.31 23.87 L499.89 20.93 L502.08 17.38 L510.50 13.36 L510.50 -1.33Z" fill="#e6e6e6"/>
<path d="M431.14 45.67 L438.63 39.79 L439.56 41.34 L440.34 45.67 L442.52 49.53 L442.99 52.16 L441.43 54.94 L437.53 57.42 L433.17 59.43 L431.14 58.35 L432.70 56.03 L433.32 52.63 L433.95 49.07 L432.23 46.91Z" fill="#e6e6e6"/>
<path d="M432.70 3.31 L434.57 3.31 L441.43 26.03 L443.77 42.89 L434.57 31.14Z" fill="#ececec"/>
<path d="M436.35 15.54 L439.61 23.27M437.60 18.33 L439.95 26.06M438.22 21.19 L441.09 28.92M439.19 27.25 L441.58 31.14M438.64 25.00 L440.74 31.14M438.97 23.94 L440.54 31.14M435.14 10.99 L438.02 18.72M437.84 22.56 L441.41 30.29M439.15 23.21 L441.59 30.94M436.71 18.05 L440.17 25.78" fill="none" stroke="#b0b0b0" stroke-width="0.5"/>
<path d="M376.81 98.54 C377.12 97.34 377.88 93.90 378.65 91.37 C379.42 88.85 380.59 85.93 381.44 83.40 C382.29 80.87 383.02 78.22 383.75 76.19 C384.49 74.17 385.18 72.78 385.87 71.26 C386.56 69.75 387.19 68.61 387.89 67.10 C388.58 65.60 389.35 63.61 390.03 62.23 C390.72 60.86 391.14 60.04 391.99 58.88 C392.85 57.73 393.95 56.51 395.18 55.30 C396.40 54.10 397.98 52.91 399.33 51.64 C400.69 50.38 401.76 49.27 403.30 47.71 C404.84 46.16 407.02 43.90 408.60 42.30 C410.18 40.71 411.44 39.27 412.79 38.13 C414.14 37.00 415.12 36.28 416.68 35.51 C418.24 34.73 420.56 34.01 422.13 33.48 C423.70 32.94 424.77 32.62 426.11 32.30 C427.46 31.98 428.99 30.98 430.19 31.56 C431.39 32.14 432.41 35.79 433.32 35.77 C434.24 35.76 434.18 32.17 435.66 31.45 C437.14 30.72 440.86 29.33 442.21 31.45 C443.56 33.56 442.99 41.98 443.77 44.12 C444.55 46.26 446.52 43.14 446.89 44.28 C447.25 45.41 446.47 48.01 445.95 50.92 C445.43 53.84 445.22 57.75 443.77 61.75 C442.31 65.74 439.77 71.23 437.22 74.89 C434.68 78.55 432.10 81.38 428.49 83.70 C424.88 86.02 419.89 87.72 415.55 88.80 C411.21 89.88 406.85 89.96 402.46 90.19 C398.07 90.43 392.50 89.34 389.20 90.19 C385.90 91.04 384.22 93.03 382.66 95.30 C381.10 97.56 380.32 102.38 379.85 103.80Z" fill="#a8a8ab"/>
<path d="M381.45 83.37 C381.83 82.17 383.02 78.21 383.75 76.19 C384.49 74.18 385.18 72.78 385.87 71.26 C386.56 69.75 387.19 68.61 387.89 67.10 C388.58 65.60 389.35 63.61 390.03 62.23 C390.72 60.86 391.14 60.04 391.99 58.88 C392.85 57.73 393.95 56.51 395.18 55.30 C396.40 54.10 397.98 52.91 399.33 51.64 C400.69 50.38 401.76 49.27 403.30 47.71 C404.84 46.16 407.02 43.90 408.60 42.30 C410.18 40.71 411.44 39.27 412.79 38.13 C414.14 37.00 415.12 36.28 416.68 35.51 C418.24 34.73 420.56 34.01 422.13 33.48 C423.70 32.94 424.77 32.62 426.11 32.30 C427.46 31.98 428.99 30.98 430.19 31.56 C431.39 32.14 432.41 35.79 433.32 35.77 C434.24 35.76 434.18 32.17 435.66 31.45 C437.14 30.72 440.86 29.33 442.21 31.45 C443.56 33.56 442.99 41.98 443.77 44.12 C444.55 46.26 446.68 43.09 446.89 44.28 C447.10 45.46 445.98 48.53 445.02 51.23 C444.06 53.94 442.94 57.03 441.12 60.51 C439.30 63.99 436.83 68.76 434.10 72.11 C431.38 75.45 428.39 78.55 424.75 80.61 C421.11 82.67 416.70 83.83 412.28 84.47 C407.86 85.12 402.40 84.73 398.25 84.47 C394.09 84.22 390.19 82.93 387.33 82.93 C384.48 82.93 382.14 84.22 381.10 84.47Z" fill="#a0a0a3"/>
<path d="M447.31 67.93 L441.86 67.97 L437.26 65.05 L432.41 62.58M426.15 86.04 L424.99 87.15 L424.34 88.62 L424.37 90.22M391.70 94.91 L391.82 95.78 L391.72 96.65 L391.48 97.50M441.68 61.01 L437.97 62.35 L434.21 63.54 L431.74 66.60M444.80 58.59 L450.38 59.09 L455.96 59.69 L461.24 61.58M439.40 62.25 L437.72 64.38 L436.29 66.70 L436.05 69.40 L436.56 72.06M439.91 67.56 L441.34 65.59 L442.78 63.62M434.69 72.57 L441.55 74.72 L448.75 74.82M379.36 99.24 L376.56 102.31 L372.41 102.73 L368.38 101.65M390.35 98.70 L389.26 99.68 L388.93 101.10 L389.20 102.53 L389.56 103.95M388.16 101.82 L385.80 104.00 L383.14 105.80 L380.28 107.29 L377.06 107.28M416.45 87.71 L411.66 90.64 L409.91 95.95M437.19 68.98 L440.78 70.85 L444.47 72.53M386.43 87.85 L388.44 85.05 L390.49 82.28 L393.12 80.03 L394.84 77.05M439.11 66.49 L440.15 62.98 L439.60 59.37 L437.42 56.43 L434.07 54.89M444.55 62.87 L446.63 63.83 L448.24 65.46 L450.48 65.95 L452.77 66.09M398.15 88.90 L398.35 86.55 L398.96 84.28 L400.62 82.59 L402.46 81.10M408.04 98.15 L410.60 97.22 L412.88 95.72 L414.89 93.89 L417.23 92.50M432.29 76.05 L429.47 76.00 L427.01 77.36 L424.46 78.55M412.35 94.60 L413.35 95.46 L414.54 96.04 L415.84 95.76 L417.16 95.71M396.19 94.99 L397.74 95.63 L399.36 96.01 L401.01 96.29M403.59 94.14 L398.50 97.17 L392.58 97.46M393.75 93.93 L395.11 91.15 L397.52 89.22M397.72 95.52 L400.09 93.07 L402.54 90.71M437.72 67.12 L431.96 72.89 L423.77 73.11M442.41 61.57 L443.42 60.60 L444.68 59.98 L446.00 59.47 L447.32 59.95M452.32 59.65 L453.15 59.71 L453.98 59.65 L454.57 60.22 L454.89 60.98M438.95 67.92 L438.11 70.83 L437.07 73.67M383.37 90.73 L383.01 94.78 L382.68 98.85M386.54 100.00 L385.05 91.83 L381.86 84.15M442.09 54.92 L441.74 57.38 L441.60 59.86 L440.87 62.24M439.05 70.01 L441.15 67.15 L443.38 64.39 L445.32 61.41M442.59 61.21 L443.70 62.13 L444.04 63.52 L444.72 64.78 L444.39 66.18M381.14 95.15 L376.06 95.02 L371.17 96.40M403.54 90.81 L401.80 91.73 L400.02 92.57 L398.07 92.92 L396.30 93.77M382.63 103.37 L383.70 102.71 L384.48 101.72 L384.71 100.49 L385.41 99.45M433.68 73.57 L432.82 71.28 L430.95 69.69 L428.86 68.38M439.87 61.93 L440.41 62.24 L440.96 62.54 L441.44 62.93 L441.98 63.23M380.10 102.10 L379.98 104.59 L379.25 106.98 L377.98 109.13 L376.64 111.24M422.12 82.47 L424.78 79.98 L425.83 76.50 L425.97 72.87 L427.86 69.75M379.81 100.94 L377.20 101.23 L375.48 103.21M385.50 89.46 L385.62 92.04 L386.62 94.43M441.37 61.20 L433.47 64.38 L426.10 68.63M385.56 88.50 L386.42 85.78 L386.80 82.95 L388.45 80.62M401.32 94.61 L397.69 94.27 L394.77 92.12 L391.13 92.01M446.88 61.10 L442.90 66.21 L439.17 71.52M389.94 97.98 L389.24 100.42 L388.31 102.79 L386.24 104.30M425.52 90.59 L427.82 91.62 L429.84 93.14M389.59 93.49 L390.71 98.29 L392.78 102.76M442.52 60.88 L443.05 58.26 L443.92 55.73 L444.55 53.13M397.78 86.58 L397.81 87.61 L397.59 88.62 L396.95 89.43M437.28 72.13 L438.26 73.04 L439.56 73.33 L440.81 72.86 L441.80 71.98M429.14 83.42 L428.39 85.53 L427.41 87.55 L426.40 89.55 L424.87 91.19M379.01 102.32 L379.52 100.26 L380.05 98.20 L381.29 96.47 L382.94 95.12M431.54 77.61 L433.58 81.73 L435.54 85.88M379.04 97.44 L376.32 98.29 L373.49 98.08 L372.02 95.66M439.72 62.12 L438.10 59.31 L436.28 56.62 L435.33 53.52M380.29 99.33 L381.40 98.13 L382.71 97.14 L383.34 95.64 L383.97 94.14M434.76 73.04 L438.53 75.89 L442.89 77.74 L446.72 80.51M436.02 75.49 L436.74 76.09 L437.54 76.59 L438.46 76.79 L439.26 77.29M438.05 65.01 L437.06 67.34 L436.07 69.66 L434.91 71.91 L433.91 74.23M379.82 95.89 L375.85 96.23 L371.93 95.60 L368.09 94.54 L365.10 91.95M429.86 79.45 L430.85 81.24 L432.19 82.79 L432.97 84.68 L434.12 86.38M378.03 102.49 L377.72 106.06 L376.34 109.37 L376.01 112.93M437.17 82.40 L434.53 82.53 L431.91 82.12 L429.68 80.72 L427.21 79.77M444.75 51.78 L450.21 45.80 L454.61 39.01M441.54 68.46 L442.90 66.36 L443.63 63.97 L444.68 61.71M390.51 88.66 L389.97 89.23 L389.93 90.01 L390.18 90.75M384.54 104.77 L383.78 106.91 L382.59 108.85 L381.21 110.66 L379.03 111.36M442.00 73.79 L440.75 76.09 L439.05 78.08M383.72 90.55 L379.51 88.81 L376.44 85.47 L371.90 85.00M387.46 100.64 L389.52 99.92 L391.57 99.20 L393.51 98.21 L395.55 97.44M402.69 88.99 L404.27 87.50 L406.06 86.26 L407.51 84.65 L408.94 83.01M445.66 61.36 L448.00 59.76 L450.85 59.76 L453.45 60.91 L456.28 61.21M413.31 85.66 L414.41 83.96 L416.42 83.71 L418.44 83.94M383.28 95.10 L384.03 93.36 L385.44 92.08 L386.75 90.71M442.75 52.37 L443.71 51.00 L444.67 49.65 L445.37 48.14 L445.68 46.51M386.80 91.70 L389.87 87.99 L393.64 85.00M427.01 80.71 L431.98 76.52 L432.78 70.10M420.55 84.50 L421.10 85.00 L421.66 85.50 L422.27 85.92 L422.82 86.43M443.54 53.37 L445.03 52.39 L445.56 50.69 L446.72 49.33M442.90 58.71 L444.00 59.31 L445.02 60.03M441.90 51.90 L444.43 48.89 L446.26 45.42M434.89 71.50 L435.03 72.90 L435.19 74.30 L435.40 75.69 L435.70 77.06M419.71 86.13 L422.81 86.13 L425.87 86.67 L428.85 85.79M440.49 60.80 L445.52 60.91 L450.37 59.57 L454.11 56.24 L458.61 54.00M379.72 98.19 L376.82 100.06 L373.92 101.92 L371.71 104.55M440.90 66.42 L444.02 67.98 L446.96 69.84 L450.16 71.23M431.84 77.36 L428.20 78.94 L424.43 80.20 L421.17 82.45M443.38 50.53 L447.19 47.25 L451.61 44.83 L456.65 44.50M440.09 61.98 L441.47 59.78 L443.08 57.74 L444.47 55.55M397.37 87.87 L396.89 90.94 L396.84 94.04 L396.17 97.07 L395.50 100.10M436.42 71.68 L437.95 70.96 L439.64 70.75 L441.17 71.48M381.23 101.39 L381.00 102.30 L380.46 103.07 L379.64 103.55M381.49 102.96 L380.85 105.17 L380.62 107.45 L380.17 109.70 L379.64 111.93M421.82 82.47 L423.57 84.39 L424.87 86.64M397.39 91.03 L397.92 92.04 L398.70 92.88 L399.49 93.71 L400.47 94.30M418.77 84.54 L418.98 85.13 L418.69 85.69 L418.23 86.11 L417.84 86.60M443.59 50.53 L444.39 51.41 L445.41 52.02 L446.27 52.84M392.79 98.22 L391.58 100.45 L390.21 102.60 L387.81 103.47M390.30 89.76 L388.26 92.33 L385.66 94.34 L384.69 97.46M448.92 70.61 L445.83 73.52 L443.20 76.85 L440.85 80.39M441.53 56.81 L442.52 54.05 L443.80 51.42 L445.06 48.78M445.91 66.99 L446.09 74.92 L446.44 82.83M429.14 79.51 L429.36 81.14 L429.67 82.76M401.50 90.19 L399.00 92.74 L395.71 94.15M397.99 94.57 L394.17 95.46 L390.47 96.74 L386.68 97.73M414.80 85.76 L412.05 86.23 L410.02 88.12 L409.68 90.86M429.72 79.50 L432.57 75.15 L432.48 69.97 L431.86 64.83M380.93 92.58 L383.50 92.52 L386.05 92.27M414.83 93.89 L415.55 96.96 L416.61 99.93 L418.02 102.75M443.20 69.89 L439.88 71.23 L436.73 72.91 L433.15 73.08 L429.68 72.19M435.58 85.31 L435.04 87.19 L434.12 88.92 L433.52 90.78M414.86 85.04 L416.66 78.77 L417.56 72.31M397.79 88.47 L397.01 90.03 L395.71 91.20 L393.96 91.35 L392.46 90.45M425.69 80.87 L428.52 79.87 L430.04 77.31 L432.19 75.24 L434.30 73.11M385.20 88.76 L383.57 92.38 L382.33 96.14 L381.27 99.96 L378.73 103.01M391.50 89.12 L393.30 87.64 L395.31 86.44 L397.36 85.30M430.21 79.72 L427.83 82.30 L424.59 83.69M443.13 56.61 L446.36 61.16 L451.93 61.76 L456.72 64.65M445.88 52.69 L444.67 54.45 L442.87 55.61 L441.05 56.75M444.37 73.57 L443.21 77.07 L441.49 80.34 L440.01 83.72 L438.38 87.03M434.92 75.40 L441.57 77.85 L448.56 76.65M398.58 92.05 L397.66 94.44 L396.46 96.70 L395.67 99.13M441.86 58.36 L442.85 60.36 L444.19 62.16 L446.11 63.32 L448.28 63.90M451.50 52.92 L455.67 51.76 L459.21 49.30 L461.53 45.67M398.34 87.93 L395.11 91.32 L391.32 94.08 L386.82 95.42M388.64 99.81 L387.14 101.94 L385.09 103.58 L383.70 105.80 L381.91 107.71M434.89 80.80 L432.41 80.73 L430.06 79.94 L427.77 78.98M423.26 82.57 L421.60 85.08 L419.57 87.30 L417.33 89.31 L415.55 91.73M381.15 98.21 L380.62 95.74 L379.90 93.31M449.35 62.14 L450.85 59.12 L451.19 55.77 L451.10 52.40 L450.97 49.03M409.25 87.79 L405.09 93.29 L398.63 95.77M397.66 87.63 L400.45 96.65 L402.12 105.94M408.83 88.78 L410.00 90.27 L411.82 90.81M380.79 101.21 L387.50 100.82 L393.44 97.67M429.22 79.92 L427.10 81.12 L424.71 81.64 L423.13 83.49 L421.40 85.19M386.20 87.63 L387.53 83.96 L388.54 80.20 L388.20 76.32M411.71 92.61 L406.96 95.15 L401.67 96.25M420.97 86.15 L421.15 88.45 L420.69 90.70M395.01 91.20 L397.91 89.86 L400.03 87.47 L403.23 87.33M432.36 76.71 L435.79 75.73 L439.19 74.64 L442.74 74.99M404.28 92.14 L406.88 88.01 L410.87 85.17 L414.91 82.41M430.05 78.92 L431.55 75.38 L433.73 72.21 L434.84 68.53M442.45 52.29 L444.11 50.55 L445.69 48.72 L445.79 46.32 L445.41 43.95M437.04 73.43 L439.41 75.38 L441.36 77.76M449.57 62.19 L447.40 62.66 L446.06 64.40 L444.56 66.02M398.31 95.43 L398.37 100.67 L400.45 105.49M446.00 52.20 L448.24 50.59 L449.85 48.37 L450.82 45.80M380.15 101.50 L381.70 101.11 L383.20 100.55 L384.24 99.35M388.18 92.39 L386.41 96.26 L384.10 99.85M381.80 92.71 L380.20 95.14 L378.75 97.67 L377.40 100.25 L376.00 102.81M434.82 80.69 L436.53 77.95 L438.07 75.12 L439.38 72.18M381.73 99.85 L382.92 104.40 L382.23 109.05 L382.33 113.76M400.10 91.91 L402.10 88.70 L403.70 85.27 L406.34 82.56 L408.27 79.31M388.14 90.79 L386.64 91.70 L384.98 92.27M425.48 92.19 L423.36 94.40 L422.01 97.14 L422.01 100.20 L420.18 102.65M442.16 60.27 L441.25 63.68 L440.64 67.16 L442.23 70.31M384.31 90.10 L386.46 87.01 L388.20 83.67 L391.07 81.21M407.18 87.17 L410.51 86.31 L413.72 85.10 L417.11 85.70 L420.11 87.37M378.82 95.46 L378.52 96.14 L378.19 96.80 L378.12 97.54 L378.17 98.27M450.87 60.12 L450.55 58.23 L450.19 56.34 L449.05 54.79M443.99 60.38 L440.70 63.10 L439.59 67.21 L437.62 70.99M430.12 82.05 L430.27 84.71 L430.39 87.38 L430.62 90.03M402.36 88.30 L398.77 93.41 L395.23 98.55M380.69 98.10 L381.55 94.66 L380.70 91.22 L378.65 88.32 L376.84 85.26M447.30 68.57 L450.35 67.92 L453.37 67.11M393.93 89.42 L394.72 89.74 L395.56 89.71 L396.39 89.62M417.98 89.72 L419.79 92.47 L422.45 94.40M404.99 89.91 L409.43 85.49 L413.04 80.39M433.67 77.80 L430.60 82.20 L427.56 86.61 L422.70 88.93M429.56 83.12 L426.48 83.74 L424.88 86.43 L423.58 89.27 L423.34 92.38M422.46 85.27 L418.72 88.81 L414.11 91.14 L410.57 94.87M386.28 88.33 L385.18 89.63 L385.14 91.33 L384.87 93.01M378.13 98.71 L382.72 96.86 L387.23 94.81M411.39 87.64 L412.20 85.66 L413.87 84.31 L416.02 84.13M388.40 93.28 L388.88 94.07 L389.49 94.77 L389.98 95.56 L390.36 96.41M414.17 92.93 L411.50 94.27 L408.67 95.22 L405.78 94.47 L402.96 93.48M421.41 87.68 L418.01 90.88 L415.85 95.00 L415.19 99.59M378.70 98.40 L376.46 101.07 L375.03 104.23M411.19 90.15 L413.74 85.13 L417.02 80.55M437.27 68.63 L437.87 67.27 L438.15 65.81 L437.88 64.34 L436.93 63.19M396.36 87.69 L397.73 84.35 L398.08 80.77M418.45 85.18 L416.64 85.83 L414.79 86.33 L413.24 87.45 L412.76 89.29M438.65 77.02 L437.95 79.22 L438.29 81.51 L439.39 83.54M428.37 80.25 L427.12 83.74 L424.85 86.67 L422.01 89.08 L418.51 90.37M435.22 81.65 L432.00 85.84 L427.78 89.05M411.93 94.91 L413.62 92.90 L414.27 90.36 L416.09 88.47M428.95 83.03 L430.17 85.63 L430.70 88.45M432.61 76.00 L430.28 77.26 L428.72 79.38M446.56 55.02 L448.32 56.84 L450.36 58.35M412.84 89.45 L410.14 89.87 L407.50 90.55 L404.90 91.38 L402.37 92.37M432.23 75.42 L439.42 74.31 L444.77 69.43 L450.57 65.07M430.13 78.43 L430.96 76.88 L431.46 75.19 L431.40 73.44M388.06 100.60 L388.78 104.74 L387.89 108.86 L388.89 112.95M384.66 90.90 L381.11 98.52 L377.48 106.11M443.66 68.06 L437.19 71.26 L430.61 74.22M411.57 93.28 L414.16 91.73 L416.13 89.45M416.81 90.76 L412.78 93.42 L410.04 97.39M409.14 87.24 L407.24 89.83 L404.83 91.95 L403.37 94.81 L401.16 97.13M428.13 84.30 L426.98 86.20 L425.14 87.47 L422.99 88.07 L420.78 88.42M386.84 94.68 L386.15 99.15 L384.97 103.53 L382.03 106.98M440.90 57.62 L439.54 62.65 L439.26 67.85 L442.75 71.74M381.92 102.96 L379.37 104.20 L376.86 105.51 L374.57 107.15 L371.80 106.57M431.47 82.04 L436.20 79.60 L441.52 79.20 L446.56 77.46M445.23 51.85 L452.89 50.07 L460.58 48.48M434.41 72.00 L436.25 70.97 L438.34 70.63 L440.46 70.74 L442.50 70.18M378.61 101.91 L380.95 97.08 L382.51 91.95 L383.88 86.76M438.97 73.71 L436.03 74.00 L433.39 72.68 L430.43 72.78 L427.48 72.99M397.27 90.65 L396.38 92.46 L395.58 94.32 L395.41 96.32 L395.22 98.33M442.79 55.54 L443.70 55.44 L444.29 56.15 L445.09 56.60 L445.52 57.41M446.32 52.64 L443.88 56.85 L439.96 59.77 L436.31 63.01M430.29 80.24 L432.07 77.83 L433.76 75.37 L435.70 73.09 L437.74 70.91M409.52 90.55 L411.29 86.90 L414.38 84.25 L416.96 81.11 L420.43 78.99M377.55 100.75 L377.29 103.18 L377.36 105.62 L377.28 108.06 L378.44 110.21M401.51 90.34 L398.83 88.37 L398.43 85.09 L399.23 81.88 L400.46 78.80M442.13 57.52 L445.55 53.44 L448.26 48.87M396.73 90.60 L398.73 88.13 L400.71 85.63M416.29 96.06 L412.46 101.62 L408.67 107.22M413.51 88.50 L415.93 86.27 L418.04 83.76 L420.65 81.74M379.57 99.41 L381.69 102.84 L384.46 105.79M441.70 74.30 L439.84 76.69 L437.66 78.81 L437.53 81.82 L437.46 84.84M392.06 87.67 L391.37 89.68 L390.64 91.68 L389.45 93.45M381.65 93.90 L379.63 97.55 L378.24 101.48 L376.31 105.18M412.24 92.92 L409.82 94.80 L407.79 97.09 L406.04 99.60M391.23 97.30 L388.95 100.03 L386.50 102.60M400.32 93.49 L395.72 96.53 L391.33 99.87M407.01 98.26 L404.94 99.99 L402.70 101.49 L400.42 102.93M404.36 89.42 L404.66 88.19 L404.72 86.94 L404.79 85.68 L404.86 84.42M426.46 82.91 L427.64 84.47 L429.48 85.13 L430.91 86.45 L432.17 87.94M389.72 98.70 L388.91 100.67 L387.76 102.48M441.60 58.53 L443.56 57.22 L445.38 55.70 L447.11 54.09M378.17 102.51 L376.95 104.53 L377.07 106.88 L377.07 109.23 L378.93 110.69M427.70 81.57 L422.27 83.10 L417.64 86.29 L415.63 91.52M417.80 94.24 L416.46 95.33 L415.40 96.69 L414.07 97.80M433.01 76.12 L435.39 75.91 L437.76 76.17 L439.73 74.82 L441.55 73.29M400.33 86.79 L400.94 86.52 L401.59 86.64 L402.25 86.53 L402.91 86.54M390.12 94.32 L392.00 93.03 L394.28 93.07 L396.32 92.04M433.65 79.83 L435.12 79.24 L436.69 79.12 L438.26 79.25M441.33 76.28 L439.38 77.04 L437.58 78.10 L435.63 78.86 L434.64 80.70M402.20 86.60 L400.90 90.55 L400.36 94.66 L399.18 98.63 L401.16 102.29M382.23 102.16 L382.05 103.31 L382.22 104.46 L382.84 105.46 L383.76 106.18M446.63 56.53 L448.59 56.99 L450.11 58.28 L451.95 59.08M430.12 77.27 L429.06 85.14 L432.18 92.46M390.23 90.45 L390.35 91.27 L390.76 92.00 L391.19 92.71 L391.50 93.48M380.01 99.77 L382.74 97.13 L385.42 94.45M442.97 63.80 L444.26 62.76 L445.47 61.62 L446.99 60.93M385.77 92.37 L384.54 85.91 L381.61 80.01M412.53 96.20 L415.82 94.15 L416.53 90.37 L417.33 86.60 L416.70 82.80M415.85 84.83 L418.05 81.39 L420.48 78.10M451.48 56.48 L453.15 53.76 L454.45 50.86 L455.27 47.78 L455.68 44.63M420.21 83.28 L417.79 90.73 L415.72 98.29M409.85 87.95 L414.83 83.46 L421.34 81.77M440.38 60.21 L441.41 58.21 L442.66 56.35 L443.90 54.48 L443.25 52.33M430.12 78.05 L427.74 78.60 L425.75 80.00 L423.39 80.64 L420.95 80.80M442.77 56.31 L439.36 57.67 L435.78 56.88 L432.17 56.20 L428.70 55.00M445.54 54.72 L447.06 54.66 L448.20 53.66 L449.70 53.42 L451.22 53.32M419.83 85.16 L421.94 82.89 L423.94 80.51 L426.45 78.69 L429.08 77.03M427.97 83.02 L426.84 86.57 L426.81 90.29M385.97 101.93 L388.34 98.94 L391.04 96.26M383.61 91.40 L381.75 91.31 L380.11 90.45 L378.28 90.20 L376.49 90.71M434.77 74.40 L433.05 69.31 L431.28 64.23 L428.58 59.58M442.52 52.13 L446.27 54.38 L450.05 56.56M383.97 91.33 L386.18 89.33 L388.67 87.69M379.76 95.67 L377.55 98.86 L377.57 102.73 L378.22 106.55 L379.06 110.33M435.60 73.57 L432.76 76.59 L429.05 78.48 L424.93 79.07 L420.83 78.33M390.48 86.86 L387.83 89.20 L385.13 91.48M391.49 87.94 L389.22 90.04 L386.47 91.50 L383.40 91.03M428.09 79.23 L425.65 83.86 L424.90 89.02M406.76 86.84 L404.85 88.28 L402.98 89.78 L401.35 91.54 L399.23 92.66M401.55 88.69 L407.42 86.08 L413.84 85.57M408.95 90.26 L410.24 90.21 L411.51 90.46 L412.68 91.01 L413.95 91.27M451.06 60.73 L450.11 57.15 L451.29 53.64 L453.81 50.91M423.09 84.38 L424.94 78.03 L427.50 71.92M378.23 101.47 L376.35 103.01 L374.83 104.90 L373.98 107.16 L371.90 108.42M436.52 67.70 L441.94 66.98 L447.41 66.73 L452.53 68.66M437.49 86.75 L432.39 89.99 L426.33 89.89M441.46 66.44 L440.19 67.28 L438.67 67.29 L437.27 67.90 L436.06 68.83M378.20 97.83 L375.42 99.86 L373.96 102.96 L372.47 106.04M430.33 82.58 L427.48 83.63 L424.73 84.90 L421.81 85.73M415.34 86.81 L414.26 87.92 L413.02 88.87 L411.50 89.23 L409.97 89.56M386.00 90.44 L387.90 88.52 L390.61 88.42 L393.05 89.62 L395.47 90.83M437.27 76.16 L434.66 76.49 L432.60 74.87 L430.68 73.08 L428.74 71.32M444.13 59.34 L446.85 58.51 L449.56 57.64M439.52 77.74 L444.81 76.37 L450.14 75.17M423.93 94.65 L425.96 92.22 L428.61 90.50 L431.30 88.82M378.05 97.28 L375.16 98.16 L372.25 97.36 L369.26 97.77M426.08 84.90 L425.82 90.89 L424.49 96.73M429.83 78.56 L430.32 77.49 L430.84 76.45 L431.55 75.52 L432.45 74.77M415.94 85.09 L418.42 81.57 L419.32 77.36M441.13 68.77 L437.58 73.02 L434.26 77.45 L431.47 82.23M444.65 60.96 L439.49 67.39 L435.93 74.81M429.93 82.41 L431.04 81.31 L432.53 80.78 L434.01 80.27 L435.58 80.32M421.13 85.43 L420.99 83.54 L419.43 82.45 L417.86 81.36M442.18 71.74 L444.92 70.00 L447.73 68.39 L450.17 66.27 L453.15 64.98M447.13 51.71 L448.24 51.89 L449.37 51.93 L450.49 51.89M406.70 92.63 L410.83 92.32 L414.77 93.59 L418.55 95.29 L422.59 96.20M381.44 92.63 L381.47 91.05 L380.53 89.78 L380.05 88.27M424.00 90.27 L420.78 91.38 L417.84 93.07 L415.62 95.63 L413.98 98.59M377.14 102.31 L377.97 100.90 L377.71 99.28 L377.30 97.70 L377.26 96.06M378.27 99.92 L377.22 100.85 L375.98 100.19M382.85 97.61 L382.29 94.05 L382.59 90.46 L382.30 86.88M380.24 103.64 L379.34 106.55 L378.07 109.32 L377.31 112.27 L376.49 115.20M399.92 87.37 L401.45 90.59 L403.39 93.58 L405.41 96.52 L407.23 99.58M445.93 72.49 L446.94 73.50 L448.32 73.85 L449.75 73.89 L451.16 73.67M402.26 86.94 L403.23 86.17 L404.35 85.61 L405.58 85.35 L406.68 84.77M393.93 90.16 L391.65 91.33 L389.38 92.49 L386.95 93.30M396.86 88.34 L395.46 84.82 L393.03 81.89 L391.86 78.29M401.92 86.96 L400.71 88.23 L399.21 89.12 L397.50 89.53 L395.76 89.76M386.92 97.45 L383.97 98.31 L381.04 99.22M431.43 79.15 L437.93 73.76 L446.41 73.49M391.48 87.28 L392.32 80.58 L390.25 74.14M410.36 89.12 L410.76 92.21 L408.90 94.72M425.71 81.56 L427.22 78.67 L428.54 75.67 L431.11 73.64M440.22 74.52 L441.64 72.65 L442.10 70.36 L442.66 68.09 L443.00 65.78M432.67 76.56 L430.55 79.17 L428.05 81.42M380.97 92.41 L385.85 88.67 L390.51 84.68M380.89 97.36 L384.37 94.30 L385.36 89.80M420.69 86.30 L422.64 82.80 L424.51 79.25 L423.69 75.33M384.64 105.30 L379.05 110.77 L371.21 111.08M379.93 96.41 L378.17 99.40 L376.16 102.21 L372.77 103.01 L369.34 103.64M404.26 89.76 L402.00 91.34 L399.65 92.78 L397.15 93.95 L394.41 94.31M415.24 86.73 L412.50 86.79 L410.13 88.17 L407.39 88.20M382.98 102.91 L382.70 103.75 L381.95 104.24 L381.20 104.73M449.62 56.09 L447.51 58.22 L445.04 59.94 L442.42 61.42M379.54 101.20 L382.53 98.34 L386.55 97.25 L389.99 94.93M413.76 87.15 L414.09 87.76 L414.73 88.03 L415.23 88.52 L415.81 88.91M445.10 53.21 L445.94 54.55 L446.97 55.75 L447.91 57.02 L449.17 57.97M386.13 94.99 L391.07 93.77 L396.10 92.93 L398.96 88.76M429.43 79.53 L427.09 82.54 L424.86 85.63 L424.17 89.37 L424.34 93.17M378.58 96.98 L381.61 96.20 L384.69 95.63 L387.76 95.02M387.70 95.67 L391.46 90.60 L394.04 84.85M430.04 77.43 L428.70 82.08 L424.49 84.51M442.09 53.33 L446.52 46.86 L447.01 39.06M384.74 89.46 L381.32 91.64 L377.46 92.92 L373.47 93.72M379.04 102.56 L382.47 101.53 L386.05 101.68M382.51 91.69 L382.90 90.04 L382.77 88.34 L382.36 86.68 L382.45 84.98M382.65 90.73 L388.47 90.07 L394.33 90.13M442.79 55.28 L443.80 51.20 L446.14 47.70M390.15 93.76 L386.03 99.29 L382.60 105.26M440.76 61.64 L447.05 57.37 L454.61 56.47M425.50 88.97 L426.74 88.61 L428.03 88.67 L429.32 88.69 L430.30 89.51M432.34 75.83 L432.70 78.47 L433.02 81.12 L433.95 83.61M437.11 68.89 L442.24 67.73 L447.48 68.10 L452.14 65.68M435.22 70.85 L433.83 73.06 L431.93 74.87 L431.03 77.33 L429.85 79.66M378.17 97.83 L373.45 98.25 L368.72 98.62 L366.16 102.58M379.35 102.76 L378.00 110.40 L373.92 117.01M416.52 85.31 L417.55 81.90 L417.51 78.34M441.64 57.39 L442.88 54.52 L444.45 51.81 L446.61 49.54 L449.09 47.61M422.07 82.42 L420.28 84.09 L418.19 85.37 L416.42 87.07 L414.36 88.38M441.64 66.38 L442.30 67.40 L443.17 68.25 L443.71 69.33 L444.22 70.44M431.93 78.27 L427.37 80.99 L423.32 84.40M408.54 89.90 L413.17 87.06 L418.55 86.26M427.99 81.36 L423.39 81.91 L419.13 80.09 L415.95 76.74M383.05 91.23 L380.66 92.76 L378.11 93.98 L375.47 95.02 L373.45 97.00M379.77 95.06 L381.30 92.76 L383.10 90.65 L384.43 88.22M424.93 82.93 L423.12 84.74 L420.81 85.85 L418.80 87.44 L416.83 89.08M409.93 86.00 L412.24 83.11 L414.17 79.94 L417.11 77.67 L420.67 76.56M435.01 72.35 L428.87 77.64 L423.30 83.52M395.62 87.79 L393.26 83.46 L390.74 79.21 L386.33 76.94M436.68 76.77 L434.94 81.64 L433.41 86.59M378.75 100.22 L382.56 98.68 L385.15 95.50 L383.98 91.58 L383.98 87.50M422.94 82.93 L423.03 85.87 L421.58 88.44M395.33 89.77 L396.62 88.60 L398.10 87.68 L399.75 87.12 L400.97 85.88M440.79 57.82 L441.95 53.93 L442.61 49.92 L442.68 45.87M437.22 87.02 L441.94 81.58 L449.18 81.37M443.06 72.83 L441.03 73.99 L438.74 74.46M395.53 91.65 L396.13 88.32 L394.96 85.14M432.89 74.40 L433.57 72.40 L433.23 70.31 L432.10 68.52 L432.33 66.42M438.39 64.43 L438.94 65.05 L439.34 65.77 L440.01 66.26 L440.71 66.71M443.03 54.84 L440.57 54.41 L438.06 54.39 L435.79 55.43 L433.29 55.19M392.34 95.44 L391.25 97.54 L390.35 99.72M440.89 75.50 L437.64 77.64 L435.24 80.68 L431.60 82.06 L427.81 82.98M386.96 90.26 L392.62 83.96 L400.30 80.32M400.04 91.10 L399.16 93.05 L397.84 94.74 L396.28 96.22M440.31 66.96 L438.95 68.20 L437.46 69.29 L435.66 69.72 L434.36 71.02M404.34 92.32 L403.59 94.28 L403.01 96.31 L403.06 98.41M397.46 86.44 L399.48 85.07 L401.88 84.63M437.08 66.59 L443.01 66.34 L448.93 65.85M381.54 92.15 L386.45 88.16 L387.89 82.02M397.34 86.62 L397.64 88.20 L397.59 89.81 L398.07 91.35M438.36 79.87 L443.94 81.79 L449.85 81.63M411.27 86.57 L409.31 87.55 L407.30 88.44 L405.11 88.60M436.62 80.32 L439.88 77.68 L443.57 75.68 L447.00 73.26M407.06 88.49 L410.99 81.45 L415.48 74.75M410.43 86.61 L411.69 86.54 L412.85 86.00 L413.98 85.42 L415.11 84.84M382.35 95.41 L380.33 96.99 L377.93 97.95 L376.12 99.77M435.03 73.30 L438.05 68.98 L438.72 63.76M418.69 90.01 L426.29 90.90 L433.16 94.23M383.13 90.24 L385.70 92.19 L386.88 95.18M389.55 91.90 L389.37 93.93 L388.83 95.90 L389.13 97.92 L389.25 99.95M405.32 90.98 L407.13 85.69 L411.87 82.69 L416.94 80.25M441.37 66.67 L443.35 65.48 L444.99 63.86 L446.91 62.59 L448.10 60.62M435.60 72.87 L437.24 71.98 L438.91 71.13 L440.77 70.93M384.34 95.79 L386.58 94.41 L389.14 93.80M380.86 101.30 L387.02 98.52 L390.43 92.71M378.00 99.38 L377.78 100.01 L377.74 100.67 L377.45 101.27 L377.26 101.90M416.87 86.73 L419.41 82.01 L422.69 77.77M424.79 81.18 L421.67 85.07 L417.03 86.91M383.58 101.38 L382.94 102.67 L382.19 103.91 L381.09 104.84 L379.87 105.62M444.67 69.55 L448.48 62.42 L452.16 55.22M385.20 98.68 L380.57 100.14 L376.21 102.26M405.30 88.49 L408.22 85.49 L411.40 82.76 L413.94 79.43M434.52 73.98 L436.92 73.15 L439.23 72.13 L441.28 70.65 L443.48 69.40M440.67 64.45 L442.20 63.43 L444.00 62.96 L445.36 61.72 L445.66 59.90M435.80 71.05 L438.01 69.81 L440.07 68.33 L442.03 66.74 L443.79 64.93M442.76 68.05 L445.25 71.70 L448.69 74.48 L453.13 74.49 L457.39 73.26M385.28 96.46 L384.64 97.71 L384.07 99.00 L383.53 100.29 L382.64 101.38M382.78 99.94 L380.37 106.93 L381.71 114.20M399.16 92.17 L396.43 93.40 L393.71 94.65 L391.49 96.64 L390.84 99.54M440.98 65.32 L442.16 62.93 L443.56 60.65 L444.89 58.34 L446.37 56.11M443.05 53.06 L446.13 56.79 L449.05 60.63M377.05 101.80 L374.99 104.51 L372.00 106.17 L368.83 107.45M382.81 93.15 L380.57 94.88 L377.98 96.05 L375.58 97.56M396.97 90.52 L397.41 91.07 L398.02 91.41 L398.65 91.72 L399.29 92.01M444.20 54.32 L448.28 55.13 L452.41 54.64 L456.34 53.29M405.41 86.08 L407.69 83.78 L409.03 80.84M416.68 90.14 L420.17 91.72 L423.89 92.67 L426.56 95.41M377.77 103.09 L376.86 104.35 L375.98 105.63 L374.82 106.68 L373.69 107.75M445.60 61.34 L445.13 63.91 L444.99 66.52 L445.50 69.09M437.41 68.79 L439.81 68.31 L442.14 69.08 L444.01 67.50M380.46 94.76 L380.57 95.97 L380.26 97.15M424.71 83.13 L426.62 88.23 L429.03 93.11 L432.91 96.95M381.52 95.18 L377.37 99.13 L373.60 103.44M381.66 95.52 L383.24 91.70 L382.35 87.67M384.71 92.71 L383.50 92.65 L382.33 92.33M438.64 70.39 L446.88 71.94 L455.20 70.79M417.92 84.66 L418.04 89.09 L418.60 93.48M451.55 52.46 L452.36 50.45 L454.18 49.24 L456.08 48.16M376.91 101.35 L370.60 105.50 L367.81 112.48M430.61 79.31 L428.76 83.52 L426.01 87.22M443.13 50.61 L444.26 52.14 L444.96 53.89 L445.68 55.64 L446.29 57.42M421.20 84.34 L426.18 79.79 L432.58 77.59M444.71 59.39 L447.28 57.25 L450.39 56.00 L453.61 56.92M447.17 51.20 L444.62 52.82 L442.87 55.27 L440.55 57.19M389.80 100.99 L392.71 97.89 L395.81 94.96 L400.07 94.62 L403.50 92.08M445.50 54.15 L446.13 51.76 L447.80 49.93 L449.27 47.93M415.74 85.23 L414.42 86.40 L412.65 86.33 L411.02 87.01M389.74 86.57 L384.82 90.04 L379.71 93.23M441.49 55.55 L443.69 53.89 L445.31 51.67 L446.07 49.03 L446.22 46.29M407.23 87.95 L407.11 92.84 L409.15 97.28M426.09 88.18 L424.15 91.12 L421.77 93.73 L419.52 96.45M434.87 73.13 L431.54 74.36 L427.98 74.42 L424.42 74.51M399.82 92.17 L398.11 93.04 L396.44 93.98 L394.83 95.01 L393.11 95.85M392.51 87.07 L393.50 83.06 L394.50 79.05 L396.74 75.57 L398.28 71.73M434.81 74.52 L429.75 75.14 L424.72 76.00 L419.64 75.64M382.85 97.00 L382.78 99.03 L382.29 100.99 L381.34 102.79M409.18 87.26 L407.38 88.60 L405.47 89.77 L403.48 90.79 L401.31 91.36M390.57 87.79 L389.60 88.79 L388.61 89.78 L387.25 90.13 L385.91 90.54M406.74 85.90 L403.38 91.46 L397.46 94.18M379.12 100.17 L379.47 102.58 L380.34 104.86 L380.95 107.21M436.56 68.56 L437.84 70.95 L438.37 73.61 L439.08 76.23M442.70 80.43 L443.54 73.14 L443.13 65.82M411.21 97.81 L411.10 103.12 L411.92 108.36M402.08 95.22 L403.67 92.73 L405.69 90.57 L407.15 88.00 L408.16 85.23M388.07 106.23 L390.68 103.39 L391.00 99.57 L393.24 96.43M433.91 74.22 L434.25 79.45 L436.31 84.26M411.01 91.42 L411.03 94.43 L412.04 97.27 L412.57 100.24M404.64 87.91 L407.73 84.96 L409.59 81.14M400.99 89.51 L400.96 81.17 L393.59 77.18M395.09 88.93 L395.61 89.21 L396.02 89.62 L396.33 90.11 L396.63 90.61M385.85 88.79 L386.75 84.98 L387.90 81.25M402.80 88.65 L401.93 90.33 L401.24 92.09M382.03 93.78 L378.64 96.05 L376.78 99.66M393.53 89.87 L390.21 90.55 L386.82 90.38 L383.72 91.74M378.26 102.35 L382.10 101.66 L385.90 100.73 L389.70 99.83M444.50 59.33 L439.72 57.48 L434.59 57.62 L429.98 59.83M381.63 92.20 L381.21 93.49 L381.82 94.70 L382.59 95.82M385.87 88.30 L383.58 93.21 L381.75 98.31 L381.27 103.70 L380.47 109.05M441.51 57.13 L444.41 53.52 L446.46 49.38 L447.06 44.80M387.53 97.24 L385.61 100.88 L384.41 104.80 L383.19 108.72M418.62 86.50 L421.20 89.07 L424.42 90.77 L428.03 91.30M394.95 88.84 L398.30 87.85 L401.79 88.03 L405.26 88.35M443.39 51.75 L444.07 52.11 L444.74 52.50 L445.21 53.11 L445.96 53.31M441.67 54.15 L443.85 48.73 L444.66 42.96M391.34 86.99 L394.07 82.34 L398.59 79.37 L402.93 76.14M386.53 98.27 L386.92 103.07 L386.85 107.89 L387.55 112.66M393.49 91.21 L395.03 89.01 L396.61 86.84 L397.98 84.53M378.27 103.26 L376.71 105.15 L375.26 107.14 L374.54 109.48 L374.84 111.91M380.56 98.74 L383.03 102.93 L383.31 107.78 L383.79 112.61M440.36 62.01 L436.98 67.06 L431.00 68.36M406.04 89.05 L405.93 85.36 L406.80 81.78 L407.90 78.25M438.60 79.42 L441.63 74.74 L443.27 69.43M440.79 57.29 L445.06 53.66 L449.34 50.04M380.76 100.50 L381.42 101.81 L381.97 103.17 L383.01 104.22M414.60 85.14 L415.67 86.50 L417.29 87.15M378.78 95.35 L378.89 90.50 L377.53 85.84 L376.50 81.09M425.15 82.21 L426.73 80.47 L427.28 78.19M429.43 84.14 L430.25 84.81 L430.89 85.65 L431.71 86.33M437.33 66.87 L437.59 64.56 L437.45 62.24M437.78 76.06 L438.51 74.52 L439.58 73.18 L439.64 71.48M441.17 80.32 L444.28 75.85 L447.45 71.42M419.33 85.13 L418.53 88.21 L419.67 91.19 L420.43 94.28M435.98 72.63 L438.76 71.07 L441.91 70.67 L445.05 71.20 L447.97 72.47M408.90 87.09 L406.11 88.52 L403.08 87.68 L400.99 85.36 L399.13 82.84M434.83 73.82 L436.45 72.84 L437.57 71.32 L439.40 70.81 L441.29 70.67M383.11 100.32 L385.86 97.23 L386.96 93.25 L389.66 90.12 L393.79 89.63M444.89 52.63 L449.38 52.23 L453.89 52.45 L458.40 52.20M381.01 100.08 L379.30 101.65 L376.98 101.98M376.77 101.87 L375.91 102.67 L375.15 103.55 L375.26 104.71 L375.00 105.84M444.11 61.66 L444.86 56.08 L445.03 50.45 L443.85 44.93M426.26 83.59 L427.80 81.65 L429.74 80.10 L430.74 77.83M413.18 90.03 L413.18 93.21 L415.00 95.83 L415.58 98.96M386.31 98.54 L384.48 98.77 L382.68 99.20M410.14 95.54 L411.03 99.64 L412.38 103.62 L413.16 107.74M445.83 63.14 L443.61 64.64 L441.24 65.89 L438.73 66.86 L436.08 66.46M423.99 82.42 L421.24 83.97 L418.15 84.61 L415.03 84.07 L411.93 84.65M425.21 81.79 L425.22 82.68 L424.90 83.51 L424.91 84.40M440.52 63.08 L439.13 65.88 L437.88 68.75 L435.81 71.10 L435.50 74.21M442.51 52.91 L446.65 50.24 L451.59 49.88 L456.49 50.48M385.99 90.47 L388.82 91.10 L391.72 91.14M437.07 80.42 L438.39 81.51 L439.52 82.79 L440.08 84.40 L440.57 86.03M392.07 87.20 L396.16 81.64 L399.59 75.65M421.85 83.93 L419.38 86.90 L416.85 89.82 L414.07 92.49M430.89 81.09 L429.44 81.70 L428.94 83.18 L428.29 84.60 L427.17 85.69M430.49 76.38 L429.39 79.09 L427.68 81.46 L427.43 84.37M384.23 95.58 L382.69 95.93 L381.17 96.38 L379.78 97.14 L378.35 97.82M393.51 88.97 L391.06 91.16 L388.77 93.51M377.27 100.18 L377.79 98.29 L377.22 96.42 L376.76 94.52 L375.96 92.73M394.73 86.72 L399.70 80.25 L404.82 73.91M440.05 63.48 L443.30 61.50 L447.05 60.83 L449.93 58.35M440.95 57.33 L443.00 56.31 L444.78 54.88 L446.48 53.35M428.43 78.69 L431.77 76.09 L434.69 73.03 L438.42 71.03M422.18 84.29 L420.94 86.54 L420.15 88.99 L418.02 90.45 L416.78 92.71M442.34 58.47 L449.33 54.01 L457.15 51.24M386.83 93.63 L385.68 94.51 L384.48 95.32M442.50 80.70 L439.44 84.38 L436.11 87.82 L434.52 92.32M386.40 99.89 L383.71 101.85 L382.41 104.90 L383.28 108.09M393.96 96.73 L388.33 101.62 L380.98 100.21M414.89 85.60 L413.61 87.05 L412.06 88.20 L410.68 89.55M407.98 92.10 L411.20 89.33 L414.63 86.82M379.73 99.32 L378.26 103.04 L375.99 106.33 L373.40 109.38 L370.10 111.67M412.19 97.71 L419.01 95.03 L426.22 93.72M444.56 54.15 L440.40 57.18 L438.97 62.11 L435.81 66.16M413.61 87.94 L411.08 89.30 L408.54 90.63M392.83 98.18 L390.61 97.56 L388.38 97.01 L386.21 96.22M378.93 102.87 L381.97 98.99 L385.89 96.00 L388.85 92.06M426.49 81.21 L423.85 82.89 L421.02 84.25 L418.31 85.81M433.74 82.98 L440.12 83.08 L446.12 85.21M386.93 87.89 L385.86 90.15 L386.64 92.53M447.08 51.28 L452.85 46.46 L460.16 44.61M442.27 58.90 L446.99 55.86 L452.01 53.34 L456.04 49.43M425.98 90.00 L427.07 86.50 L424.93 83.52 L424.49 79.88M384.68 92.18 L383.81 92.52 L383.02 93.01 L382.08 93.01 L381.15 93.09M385.12 99.76 L382.62 100.89 L380.63 102.77 L379.12 105.04 L377.39 107.16M391.12 87.81 L386.88 89.04 L383.09 91.29M421.76 90.02 L423.38 94.82 L426.59 98.76 L429.65 102.81M434.34 76.03 L430.98 77.45 L427.34 77.58 L424.40 75.43 L421.34 73.46M410.83 87.01 L409.23 90.44 L411.22 93.67 L413.17 96.92M452.88 59.93 L452.17 67.89 L454.17 75.63M378.65 98.78 L377.02 99.88 L375.54 101.16M435.82 70.78 L438.57 72.36 L441.53 73.48 L444.39 74.84M416.61 84.40 L420.08 80.87 L423.76 77.57 L428.73 77.33M422.57 89.45 L420.61 91.28 L418.14 92.34M422.67 89.61 L425.43 87.07 L427.47 83.94 L429.89 81.08 L431.94 77.96M445.59 59.81 L447.88 56.80 L450.71 54.27 L452.19 50.79 L455.61 49.13M448.54 69.05 L449.70 69.64 L450.96 69.96 L452.26 70.11M453.09 58.87 L454.21 62.85 L453.38 66.90 L451.02 70.30 L448.11 73.26M438.40 72.25 L441.08 72.37 L443.53 71.30 L445.74 69.81 L447.00 67.46M403.22 89.29 L403.90 88.05 L404.72 86.89 L405.33 85.61 L405.92 84.33M436.62 69.86 L434.33 73.33 L432.81 77.20 L429.23 79.34 L426.59 82.55M392.33 89.09 L390.45 92.52 L390.08 96.41 L391.14 100.17 L392.70 103.75M433.43 77.82 L433.70 78.84 L433.80 79.88 L433.24 80.77M388.94 101.21 L386.89 105.88 L383.88 110.00M423.68 93.37 L429.17 89.61 L435.08 86.54M445.02 56.57 L442.28 58.69 L438.95 59.65 L435.88 61.26 L433.01 63.20M376.35 102.09 L369.44 105.72 L363.55 110.83M390.53 89.34 L390.65 87.53 L392.24 86.64 L393.96 86.06 L395.31 84.84M445.57 53.36 L447.29 50.17 L449.29 47.15 L449.38 43.53 L449.64 39.92M393.67 94.07 L394.17 95.04 L394.45 96.09 L395.14 96.93 L395.60 97.92M418.83 84.94 L419.98 90.23 L420.88 95.58 L422.76 100.66M445.73 74.56 L450.09 77.21 L455.18 77.65 L459.71 75.29M425.92 93.87 L424.84 95.30 L423.61 96.61 L422.56 98.06M441.11 65.27 L439.10 68.56 L439.25 72.41 L438.49 76.18 L438.10 80.01M443.84 54.87 L442.76 56.32 L441.71 57.78 L440.97 59.43 L440.88 61.23M420.67 83.35 L421.56 84.93 L422.39 86.55 L423.61 87.91M432.48 75.56 L437.06 75.64 L441.64 75.82M435.11 71.33 L438.11 71.24 L440.98 72.08 L443.21 74.05M386.52 91.76 L388.92 89.63 L391.89 88.40 L394.97 89.35M405.24 90.79 L405.50 86.87 L408.72 84.57 L411.59 81.85 L414.53 79.21M383.77 92.89 L382.85 95.50 L381.55 97.95M414.68 85.38 L418.77 83.88 L422.79 82.21M435.13 74.54 L436.33 71.94 L438.80 70.49 L441.42 69.28 L443.85 67.75M398.25 88.39 L398.03 91.13 L397.57 93.83M383.14 96.95 L384.32 95.81 L385.59 94.76 L386.49 93.38 L387.83 92.43M442.94 65.10 L441.22 68.38 L440.10 71.92M453.04 58.37 L452.96 61.58 L453.58 64.73M390.55 87.12 L389.73 88.46 L388.61 89.58M383.25 95.13 L384.59 94.01 L385.64 92.62 L386.84 91.35M402.40 89.92 L402.25 92.97 L400.39 95.40 L397.44 96.27M444.71 52.26 L444.30 56.27 L444.70 60.28 L447.10 63.54 L448.99 67.11M422.97 95.03 L421.47 97.10 L419.36 98.57 L417.12 99.83M386.02 88.42 L391.88 83.73 L399.42 83.89M435.06 75.63 L438.97 73.85 L443.25 74.25 L446.79 76.68M396.17 87.41 L394.26 90.94 L392.95 94.73 L390.56 97.96 L389.47 101.81M378.07 100.77 L376.72 103.22 L375.23 105.58 L372.43 105.89M403.33 95.89 L403.91 97.08 L404.26 98.35 L405.33 99.14 L406.13 100.19M412.71 92.00 L411.66 95.43 L411.81 99.01 L410.97 102.49M427.69 91.68 L426.34 94.47 L423.74 96.17 L421.01 97.67 L418.43 99.42M432.63 75.23 L428.64 77.95 L423.80 77.72 L419.71 75.15M446.33 51.40 L440.02 56.88 L432.89 61.27M444.00 73.31 L445.66 69.66 L444.96 65.72M438.96 71.04 L443.96 66.58 L449.52 62.83M400.08 87.89 L405.74 82.83 L410.97 77.34M446.79 58.89 L443.17 59.89 L440.14 62.10 L437.46 64.71 L434.36 66.82M447.19 54.88 L447.26 53.68 L447.34 52.49 L447.04 51.32 L446.72 50.17M391.05 93.36 L395.01 93.08 L398.96 92.81 L402.93 92.73M420.15 96.14 L416.13 96.86 L412.09 97.51M442.59 70.86 L435.08 72.34 L428.50 76.22M445.01 52.04 L444.37 55.07 L444.19 58.17M379.99 97.98 L376.87 100.71 L373.50 103.13M387.10 92.76 L388.84 87.75 L392.01 83.48 L396.36 80.39M379.71 95.83 L384.62 91.93 L389.86 88.48M378.35 98.21 L377.04 99.67 L375.57 101.00 L374.26 102.46 L372.60 103.52M423.27 82.09 L425.04 82.48 L426.71 83.16 L427.80 84.59 L429.14 85.80M400.10 89.26 L398.91 90.13 L397.58 90.78 L397.18 92.19M418.91 84.23 L416.57 86.91 L413.86 89.22 L410.29 89.39M437.05 70.08 L442.58 72.11 L448.27 73.64M418.73 85.65 L416.06 88.43 L415.38 92.21 L415.10 96.04 L417.18 99.28M391.78 89.53 L392.76 84.57 L392.28 79.54M385.79 101.18 L382.32 102.99 L378.91 104.92 L375.21 106.21M421.77 83.15 L422.09 84.23 L421.95 85.34 L421.92 86.47M421.96 94.42 L424.23 97.74 L426.07 101.31 L429.88 102.66 L433.88 103.24M438.35 66.12 L436.76 66.38 L435.25 65.84 L433.71 65.38 L432.33 64.56M412.46 88.53 L415.41 84.55 L419.83 82.26 L424.56 80.73M426.23 86.13 L426.34 87.19 L427.12 87.92 L428.03 88.50 L428.40 89.50M440.93 58.59 L437.64 61.29 L434.13 63.69 L431.61 67.11M423.91 94.53 L423.63 96.47 L423.51 98.42M408.61 86.14 L408.20 86.62 L407.63 86.90 L407.07 87.18 L406.47 87.37M418.69 84.50 L418.48 86.41 L418.56 88.33M448.34 54.77 L443.81 57.21 L438.96 58.97 L434.36 61.29M434.09 78.50 L432.92 82.16 L431.99 85.88 L429.43 88.76M404.15 92.66 L403.37 100.06 L406.32 106.92M394.31 88.26 L395.19 94.05 L393.93 99.78M441.30 64.79 L443.26 63.07 L444.45 60.77 L446.07 58.74 L447.16 56.39M382.02 96.53 L381.26 97.65 L381.02 98.97M440.91 59.58 L442.35 60.26 L443.79 60.92 L445.29 61.44 L446.81 61.88M398.30 86.74 L396.04 91.82 L391.88 95.54M426.76 81.92 L427.77 80.26 L429.27 79.01 L429.91 77.17M408.54 86.72 L411.03 81.85 L414.11 77.33 L415.47 72.04M404.34 98.54 L404.61 99.60 L404.60 100.69 L404.50 101.77M384.81 89.24 L377.78 91.36 L372.76 96.68M411.38 87.09 L411.92 88.38 L412.37 89.71 L412.29 91.10M443.06 54.29 L445.06 56.15 L446.55 58.45M386.15 89.95 L384.69 93.75 L383.78 97.72 L382.49 101.58M443.10 61.40 L445.34 60.34 L447.18 58.69M388.29 89.53 L388.20 87.31 L387.77 85.14 L388.55 83.06 L389.11 80.91M423.08 82.29 L422.72 87.80 L421.50 93.19M444.29 61.06 L448.16 61.28 L451.99 61.88 L455.87 61.80 L459.74 62.02M386.75 99.38 L383.61 101.27 L380.07 102.21 L376.55 103.22 L373.32 104.95M381.91 80.51 L382.67 84.37 L378.93 88.24 L378.26 92.10 L378.13 95.97 L375.86 99.83M378.96 88.95 L377.33 92.82 L377.79 96.68 L374.83 100.55 L375.53 104.41 L375.97 108.28 L374.81 112.14 L374.96 116.01 L373.79 119.87M382.72 78.31 L384.96 82.17 L380.24 86.04M385.69 79.57 L385.39 83.44 L384.41 87.30 L381.76 91.17 L381.99 95.03 L382.57 98.90 L381.60 102.76 L380.22 106.63 L378.61 110.49 L379.13 114.36 L379.44 118.22M380.27 86.88 L378.23 90.74 L377.38 94.61M380.76 85.56 L379.58 89.42 L377.94 93.29 L380.56 97.15 L378.13 101.02 L380.01 104.88 L380.47 108.75 L379.66 112.61 L382.08 116.48 L383.00 120.34M386.38 80.94 L386.30 84.80 L384.94 88.67 L382.53 92.53 L382.04 96.40 L380.22 100.26M383.09 83.34 L381.61 87.21 L382.66 91.07 L378.80 94.94M385.82 83.31 L384.26 87.17 L382.84 91.04 L381.26 94.90M382.74 79.56 L382.30 83.42 L383.81 87.29 L380.38 91.15 L377.66 95.02 L375.68 98.88 L374.60 102.75M381.31 80.61 L380.46 84.47 L379.81 88.34 L378.37 92.20M383.74 77.62 L382.11 81.48 L380.49 85.35 L377.99 89.21 L376.15 93.08 L378.77 96.94 L375.70 100.81 L374.61 104.67 L372.95 108.54 L375.03 112.40M384.24 82.03 L381.73 85.90 L382.68 89.76 L382.32 93.63 L380.23 97.49 L377.51 101.36 L376.22 105.22 L377.51 109.09 L378.54 112.95 L377.20 116.82 L379.17 120.68M379.25 88.22 L380.40 92.08 L379.43 95.95 L377.40 99.81 L378.11 103.68 L375.42 107.54 L376.43 111.41 L377.61 115.27 L376.47 119.14M384.31 84.90 L381.48 88.77 L381.11 92.63 L381.54 96.50M383.54 80.87 L382.23 84.74 L381.00 88.60 L382.14 92.47M384.66 82.32 L382.35 86.19 L382.50 90.05M385.52 80.00 L383.51 83.86 L383.19 87.73 L381.59 91.59 L382.93 95.46 L383.15 99.32 L383.20 103.19M386.05 79.54 L383.40 83.40 L379.82 87.27 L378.72 91.13 L377.18 95.00M385.88 85.24 L383.66 89.11 L380.67 92.97 L380.22 96.84 L379.93 100.70 L379.65 104.57 L376.89 108.43 L376.84 112.30 L376.31 116.16M387.32 82.07 L384.98 85.93 L382.79 89.80 L380.07 93.66 L378.47 97.53 L375.56 101.39 L376.24 105.26 L373.45 109.12M384.57 86.18 L383.11 90.05 L381.72 93.91M383.30 79.90 L382.73 83.77 L383.05 87.63 L380.60 91.50 L379.91 95.36 L382.21 99.23 L381.61 103.09 L378.77 106.96M385.31 81.90 L383.60 85.77 L379.80 89.63 L378.42 93.50 L377.13 97.36 L377.59 101.23M387.50 77.77 L386.06 81.63 L383.71 85.50 L381.16 89.36 L380.92 93.23 L380.36 97.09 L382.66 100.96 L379.69 104.82 L381.47 108.69 L380.96 112.55M380.13 88.66 L377.94 92.52 L376.08 96.39 L377.32 100.25 L375.50 104.12 L373.78 107.98 L373.54 111.85 L372.60 115.71 L372.63 119.58M382.23 81.35 L382.74 85.22 L381.15 89.08 L381.40 92.95 L381.53 96.81 L382.37 100.68 L381.18 104.54 L380.12 108.41 L379.70 112.27 L378.97 116.14M386.12 81.36 L384.79 85.23 L382.82 89.09 L383.99 92.96 L381.52 96.82M385.46 83.36 L385.23 87.23 L388.03 91.09 L383.51 94.96 L381.87 98.82 L380.43 102.69 L378.40 106.55 L377.56 110.42M384.04 86.88 L383.80 90.75 L384.57 94.61 L384.60 98.48M380.63 87.80 L378.50 91.67 L379.22 95.53 L377.87 99.40 L378.59 103.26 L375.16 107.13 L374.01 110.99 L373.01 114.86 L373.59 118.72M382.40 81.48 L380.76 85.35 L378.82 89.21 L377.30 93.08 L377.39 96.94 L378.27 100.81M387.55 77.67 L385.68 81.54 L386.20 85.40 L382.44 89.27 L380.76 93.13 L379.65 97.00M385.16 86.37 L383.18 90.23 L380.01 94.10 L379.87 97.96 L382.01 101.83 L380.38 105.69 L378.72 109.56 L378.22 113.42M382.47 84.14 L381.16 88.01 L382.43 91.87 L381.61 95.74 L377.87 99.60 L378.75 103.47M384.42 79.53 L383.75 83.39 L382.12 87.26 L379.95 91.12 L377.45 94.99 L376.81 98.85 L378.31 102.72 L379.21 106.58M382.59 87.73 L378.85 91.59 L378.74 95.46 L376.57 99.32 L377.03 103.19M382.73 79.86 L381.25 83.72 L380.41 87.59 L378.90 91.45 L379.00 95.32 L376.36 99.18 L375.46 103.05 L373.70 106.91 L374.93 110.78 L372.90 114.64M382.90 80.85 L384.27 84.72 L385.77 88.58M381.96 89.63 L380.80 93.49 L378.57 97.36 L378.62 101.22 L378.58 105.09 L378.60 108.95 L377.92 112.82M382.17 81.41 L380.64 85.27 L379.48 89.14 L379.70 93.00 L379.22 96.87 L379.22 100.73 L380.24 104.60 L380.50 108.46 L379.35 112.33 L380.43 116.19M378.52 88.83 L379.55 92.70 L379.26 96.56 L376.45 100.43 L375.85 104.29 L374.72 108.16 L372.48 112.02M383.47 80.74 L382.00 84.61 L379.90 88.47 L379.98 92.34 L381.05 96.20 L380.58 100.07 L381.16 103.93 L378.29 107.80M384.34 83.45 L381.36 87.32 L381.19 91.18 L378.69 95.05M381.85 82.98 L378.19 86.84 L377.42 90.71 L376.07 94.57 L376.58 98.44 L375.98 102.30 L373.92 106.17 L373.31 110.03 L372.43 113.90 L372.63 117.76 L372.17 121.63" fill="none" stroke="#9c9c9f" stroke-width="0.5" opacity="0.85" stroke-linejoin="round"/>
<path d="M406.60 73.52 L407.93 69.91M405.16 79.14 L407.33 77.77M410.81 80.75 L410.01 83.35M389.54 74.07 L386.13 76.49M426.05 75.62 L424.42 81.42M420.73 76.48 L415.68 79.36M397.59 75.14 L392.72 78.74M417.16 79.31 L414.34 79.17M411.00 66.58 L409.24 69.33M392.70 79.80 L397.52 75.93M383.94 80.33 L379.55 84.43M393.11 80.39 L390.00 86.31M421.98 68.60 L417.33 72.54M435.64 69.11 L435.91 73.59M412.40 74.57 L414.93 69.85M403.18 82.52 L399.78 85.10M400.91 81.14 L404.20 78.46M405.61 79.82 L408.65 74.81M397.03 80.57 L395.32 86.39M402.36 73.66 L405.11 71.65M409.84 77.31 L410.31 74.09M420.73 74.63 L424.28 72.38M408.24 70.26 L410.97 69.43M397.42 82.30 L399.10 79.53M418.36 72.25 L418.87 69.43M398.17 78.72 L393.66 80.05M394.45 77.23 L394.99 70.37M408.58 67.25 L410.45 65.71M387.89 78.65 L392.74 78.44M396.61 73.59 L399.86 69.72M405.78 66.37 L411.51 63.24M399.20 84.41 L394.20 88.96M422.96 80.81 L425.68 79.18M416.97 82.29 L415.09 86.24M425.35 74.03 L424.77 80.29M415.27 72.95 L413.65 74.87M395.55 77.83 L398.48 75.86M392.48 73.36 L395.27 67.83M387.57 80.47 L385.19 84.14M416.97 67.39 L422.35 65.90M417.70 77.70 L419.22 71.68M401.89 67.26 L401.02 70.81M404.44 64.30 L409.08 59.28M411.14 74.94 L416.88 71.68M399.08 81.24 L394.65 85.90" fill="none" stroke="#c9c9cb" stroke-width="0.7" opacity="0.75"/>
<path d="M407.1 72.1h0M418.0 75.4h0M419.1 75.3h0M418.2 64.0h0M408.5 71.1h0M411.8 68.6h0M417.2 74.3h0M422.1 75.0h0M411.7 68.0h0M412.9 71.8h0M422.5 68.4h0M407.9 67.7h0M418.4 71.6h0M415.3 65.5h0M409.2 72.9h0M414.8 68.9h0M411.2 68.0h0M409.2 69.7h0M410.3 65.4h0M409.9 66.9h0M410.6 65.8h0M418.9 73.1h0M414.9 68.4h0M414.7 72.4h0M421.4 67.6h0M407.2 70.9h0M416.1 73.5h0M413.6 74.8h0M409.6 64.3h0M409.3 74.6h0M416.2 77.7h0M407.7 71.3h0M421.1 65.5h0M422.4 74.1h0M415.1 72.6h0M416.1 68.6h0M413.8 72.5h0M409.9 66.2h0M410.1 72.1h0M413.5 64.6h0" stroke="#cfcfcf" stroke-width="1.0" stroke-linecap="round"/>
<path d="M339.00 168.73 L378.92 165.64 C378.84 164.81 378.68 162.39 378.45 160.69 C378.21 158.99 378.11 156.65 377.51 155.43 C376.91 154.22 376.32 154.09 374.86 153.42 C373.41 152.75 370.50 152.45 368.78 151.41 C367.07 150.38 365.48 148.97 364.57 147.24 C363.66 145.51 363.14 143.12 363.33 141.06 C363.51 139.00 364.60 136.96 365.66 134.87 C366.73 132.79 368.78 130.96 369.72 128.53 C370.65 126.11 370.89 123.43 371.28 120.34 C371.67 117.25 371.54 113.72 372.06 109.98 C372.58 106.25 373.69 101.14 374.39 97.92 C375.10 94.70 375.49 93.21 376.27 90.66 C377.04 88.11 378.21 85.17 379.07 82.62 C379.93 80.07 380.66 77.41 381.41 75.35 C382.16 73.29 382.89 71.80 383.59 70.25 C384.29 68.70 384.92 67.60 385.62 66.08 C386.32 64.56 387.07 62.57 387.80 61.13 C388.53 59.69 389.05 58.68 389.98 57.42 C390.92 56.16 392.14 54.82 393.41 53.55 C394.69 52.29 396.27 51.11 397.62 49.84 C398.97 48.58 399.99 47.52 401.52 45.98 C403.05 44.43 405.21 42.19 406.82 40.57 C408.43 38.94 409.73 37.45 411.19 36.24 C412.64 35.03 413.86 34.15 415.55 33.30 C417.24 32.45 419.66 31.70 421.32 31.14 C422.98 30.57 424.13 30.23 425.53 29.90 C426.93 29.56 429.04 29.26 429.74 29.13 L434.88 30.36 L433.79 20.78 L433.64 19.70 L432.08 19.08 L431.92 16.91 L433.32 16.14 L432.55 11.04 L432.08 -1.33 L339.00 -1.33Z" fill="#e6e6e6" stroke="#efefef" stroke-width="4.6" paint-order="stroke"/>
<path d="M433.64 -1.33 L433.95 7.17 L441.43 26.03 L443.77 42.89 L443.77 43.97 L453.75 43.19 L452.03 24.64 L460.14 24.18 L460.14 30.36 L464.19 30.36 L464.19 22.94 L471.83 21.24 L475.11 26.03 L469.65 30.36 L470.74 31.75 L485.40 25.57 L486.80 24.95 L490.07 25.57 L492.25 26.34 L496.31 23.87 L499.89 20.93 L502.08 17.38 L510.50 13.36 L510.50 -1.33Z" fill="#e6e6e6" stroke="#fff" stroke-width="1.6" paint-order="stroke"/>
<path d="M431.14 45.67 L438.63 39.79 L439.56 41.34 L440.34 45.67 L442.52 49.53 L442.99 52.16 L441.43 54.94 L437.53 57.42 L433.17 59.43 L431.14 58.35 L432.70 56.03 L433.32 52.63 L433.95 49.07 L432.23 46.91Z" fill="#e6e6e6"/>
<circle cx="432.86" cy="32.99" r="2.2" fill="#a0a0a3" stroke="#5e5e5e" stroke-width="0.9"/>
<path d="M378.92 165.64 C378.84 164.81 378.68 162.39 378.45 160.69 C378.21 158.99 378.11 156.65 377.51 155.43 C376.91 154.22 376.32 154.09 374.86 153.42 C373.41 152.75 370.50 152.45 368.78 151.41 C367.07 150.38 365.48 148.97 364.57 147.24 C363.66 145.51 363.14 143.12 363.33 141.06 C363.51 139.00 364.60 136.96 365.66 134.87 C366.73 132.79 368.78 130.96 369.72 128.53 C370.65 126.11 370.89 123.43 371.28 120.34 C371.67 117.25 371.54 113.72 372.06 109.98 C372.58 106.25 373.69 101.14 374.39 97.92 C375.10 94.70 375.49 93.21 376.27 90.66 C377.04 88.11 378.21 85.17 379.07 82.62 C379.93 80.07 380.66 77.41 381.41 75.35 C382.16 73.29 382.89 71.80 383.59 70.25 C384.29 68.70 384.92 67.60 385.62 66.08 C386.32 64.56 387.07 62.57 387.80 61.13 C388.53 59.69 389.05 58.68 389.98 57.42 C390.92 56.16 392.14 54.82 393.41 53.55 C394.69 52.29 396.27 51.11 397.62 49.84 C398.97 48.58 399.99 47.52 401.52 45.98 C403.05 44.43 405.21 42.19 406.82 40.57 C408.43 38.94 409.73 37.45 411.19 36.24 C412.64 35.03 413.86 34.15 415.55 33.30 C417.24 32.45 419.66 31.70 421.32 31.14 C422.98 30.57 424.13 30.23 425.53 29.90 C426.93 29.56 429.04 29.26 429.74 29.13 L434.88 30.36 L433.79 20.78 L433.64 19.70 L432.08 19.08 L431.92 16.91 L433.32 16.14 L432.55 11.04 L432.08 -1.33" fill="none" stroke="#6e6e6e" stroke-width="0.9" stroke-linejoin="round"/>
<path d="M433.64 -1.33 L433.95 7.17 L441.43 26.03 L443.77 42.89 L443.77 43.97 L453.75 43.19 L452.03 24.64 L460.14 24.18 L460.14 30.36 L464.19 30.36 L464.19 22.94 L471.83 21.24 L475.11 26.03 L469.65 30.36 L470.74 31.75 L485.40 25.57 L486.80 24.95 L490.07 25.57 L492.25 26.34 L496.31 23.87 L499.89 20.93 L502.08 17.38 L510.50 13.36 L510.50 -1.33" fill="none" stroke="#6e6e6e" stroke-width="0.9" stroke-linejoin="round"/>
<path d="M453.75 43.19 L472.30 40.57" fill="none" stroke="#6e6e6e" stroke-width="0.9" stroke-linejoin="round"/>
<path d="M492.25 26.34 C492.33 26.88 493.01 28.69 492.72 29.59 C492.44 30.49 491.84 30.96 490.54 31.75 C489.24 32.55 485.86 33.94 484.93 34.38" fill="none" stroke="#6e6e6e" stroke-width="0.9" stroke-linejoin="round"/>
<path d="M429.74 29.13 C429.87 29.77 430.21 32.04 430.52 32.99 C430.83 33.94 431.12 34.54 431.61 34.85 C432.10 35.16 432.93 35.21 433.48 34.85 C434.03 34.49 434.65 33.43 434.88 32.68 C435.12 31.93 434.88 30.75 434.88 30.36" fill="none" stroke="#6e6e6e" stroke-width="0.9" stroke-linejoin="round"/>
<path d="M431.14 45.67 L438.63 39.79 L439.56 41.34 L440.34 45.67 L442.52 49.53 L442.99 52.16 L441.43 54.94 L437.53 57.42 L433.17 59.43 L431.14 58.35 L432.70 56.03 L433.32 52.63 L433.95 49.07 L432.23 46.91Z" fill="none" stroke="#6e6e6e" stroke-width="0.9" stroke-linejoin="round"/>
<path d="M431.14 45.67 C430.67 45.69 429.09 45.31 428.34 45.82 C427.58 46.34 426.80 47.70 426.62 48.76 C426.44 49.82 426.59 51.13 427.24 52.16 C427.89 53.19 429.97 54.48 430.52 54.94" fill="none" stroke="#6e6e6e" stroke-width="0.9" stroke-linejoin="round"/>
<path d="M413.99 61.59 C414.69 61.33 416.80 60.10 418.20 60.05 C419.61 59.99 421.14 60.56 422.41 61.28 C423.68 62.00 425.11 63.22 425.84 64.38 C426.57 65.53 426.91 66.90 426.78 68.24 C426.65 69.58 425.92 71.23 425.06 72.41 C424.20 73.60 422.20 74.86 421.63 75.35" fill="none" stroke="#8c8c8c" stroke-width="1.9"/>
<path d="M406.67 66.38 C406.30 66.95 404.90 68.70 404.48 69.79 C404.07 70.87 403.91 71.64 404.17 72.88 C404.43 74.11 405.21 76.10 406.04 77.21 C406.87 78.31 408.15 79.04 409.16 79.53 C410.17 80.02 411.03 80.14 412.12 80.14 C413.21 80.14 414.64 79.89 415.71 79.53 C416.77 79.17 418.05 78.24 418.51 77.98" fill="none" stroke="#8c8c8c" stroke-width="1.9"/>
<path d="M413.99 61.59 C414.69 61.33 416.80 60.10 418.20 60.05 C419.61 59.99 421.14 60.56 422.41 61.28 C423.68 62.00 425.11 63.22 425.84 64.38 C426.57 65.53 426.91 66.90 426.78 68.24 C426.65 69.58 425.92 71.23 425.06 72.41 C424.20 73.60 422.20 74.86 421.63 75.35" fill="none" stroke="#bcbcbc" stroke-width="0.9"/>
<path d="M406.67 66.38 C406.30 66.95 404.90 68.70 404.48 69.79 C404.07 70.87 403.91 71.64 404.17 72.88 C404.43 74.11 405.21 76.10 406.04 77.21 C406.87 78.31 408.15 79.04 409.16 79.53 C410.17 80.02 411.03 80.14 412.12 80.14 C413.21 80.14 414.64 79.89 415.71 79.53 C416.77 79.17 418.05 78.24 418.51 77.98" fill="none" stroke="#bcbcbc" stroke-width="0.9"/>
</g>
<rect x="346.80" y="6.40" width="155.90" height="154.60" fill="none" stroke="#686868" stroke-width="1.35"/>
<path d="M377.98 6.40v4M377.98 161.00v-4M409.16 6.40v4M409.16 161.00v-4M440.34 6.40v4M440.34 161.00v-4M471.52 6.40v4M471.52 161.00v-4M346.80 37.32h4M502.70 37.32h-4M346.80 68.24h4M502.70 68.24h-4M346.80 99.16h4M502.70 99.16h-4M346.80 130.08h4M502.70 130.08h-4" stroke="#686868" stroke-width="0.9"/>
<rect x="379.3" y="247.4" width="14.2" height="224.3" fill="url(#gG)"/>
<rect x="463.5" y="247.6" width="14.2" height="224.1" fill="url(#gR)"/>
<text x="51.80" y="17.90">(a) 2021/08/10 1:00</text>
<text x="61.60" y="26.55">Flood Slack</text>
<text x="51.80" y="118.60">(b) 2021/08/10 4:00</text>
<text x="63.70" y="127.25">Maximum Ebb</text>
<text x="51.80" y="219.00">(c) 2021/08/10 8:00</text>
<text x="63.70" y="227.65">Ebb Slack</text>
<text x="51.80" y="321.70">(d) 2021/08/10 10:00</text>
<text x="64.00" y="330.35">Maximum Flood</text>
<text x="51.80" y="421.90">(e) 2021/08/10 13:00</text>
<text x="63.50" y="430.55">Flood Slack</text>
<text x="201.50" y="18.50">(f) 2021/08/10 1:00</text>
<text x="211.50" y="27.15">Flood Slack</text>
<text x="201.50" y="119.50">(g) 2021/08/10 4:00</text>
<text x="213.30" y="128.15">Maximum Ebb</text>
<text x="201.50" y="220.50">(h) 2021/08/10 8:00</text>
<text x="213.30" y="229.15">Ebb Slack</text>
<text x="201.50" y="322.40">(i) 2021/08/10 10:00</text>
<text x="213.30" y="331.05">Maximum Flood</text>
<text x="201.50" y="422.70">(j) 2021/08/10 13:00</text>
<text x="212.00" y="431.35">Flood Slack</text>
<text x="353.30" y="19.60">(k) Green Macroalgae</text>
<text x="365.50" y="27.60">Trajectories</text>
<text x="44.90" y="8.60" text-anchor="end">4,424,000</text>
<text x="44.90" y="39.70" text-anchor="end">4,422,000</text>
<text x="44.90" y="70.80" text-anchor="end">4,420,000</text>
<text x="44.90" y="101.90" text-anchor="end">4,418,000</text>
<text x="44.90" y="110.20" text-anchor="end">4,424,000</text>
<text x="44.90" y="141.17" text-anchor="end">4,422,000</text>
<text x="44.90" y="172.13" text-anchor="end">4,420,000</text>
<text x="44.90" y="203.10" text-anchor="end">4,418,000</text>
<text x="44.90" y="211.50" text-anchor="end">4,424,000</text>
<text x="44.90" y="242.43" text-anchor="end">4,422,000</text>
<text x="44.90" y="273.37" text-anchor="end">4,420,000</text>
<text x="44.90" y="304.30" text-anchor="end">4,418,000</text>
<text x="44.90" y="312.40" text-anchor="end">4,424,000</text>
<text x="44.90" y="343.30" text-anchor="end">4,422,000</text>
<text x="44.90" y="374.20" text-anchor="end">4,420,000</text>
<text x="44.90" y="405.10" text-anchor="end">4,418,000</text>
<text x="44.90" y="413.40" text-anchor="end">4,424,000</text>
<text x="44.90" y="444.40" text-anchor="end">4,422,000</text>
<text x="44.90" y="475.40" text-anchor="end">4,420,000</text>
<text x="44.90" y="506.40" text-anchor="end">4,418,000</text>
<text x="46.00" y="511.80" text-anchor="middle">714,000</text>
<text x="77.15" y="511.80" text-anchor="middle">716,000</text>
<text x="108.30" y="511.80" text-anchor="middle">718,000</text>
<text x="139.45" y="511.80" text-anchor="middle">720,000</text>
<text x="170.60" y="511.80" text-anchor="middle">722,000</text>
<text x="108.60" y="526.30" text-anchor="middle">X (m)</text>
<text x="196.40" y="511.80" text-anchor="middle">714,000</text>
<text x="227.55" y="511.80" text-anchor="middle">716,000</text>
<text x="258.70" y="511.80" text-anchor="middle">718,000</text>
<text x="289.85" y="511.80" text-anchor="middle">720,000</text>
<text x="321.00" y="511.80" text-anchor="middle">722,000</text>
<text x="0" y="0" text-anchor="middle" transform="translate(7.8 457) rotate(-90)">Y (m)</text>
<text x="504.00" y="9.10">4,424,000</text>
<text x="504.00" y="40.02">4,422,000</text>
<text x="504.00" y="70.94">4,420,000</text>
<text x="504.00" y="101.86">4,418,000</text>
<text x="504.00" y="132.78">4,416,000</text>
<text x="504.00" y="163.70">4,414,000</text>
<text x="346.80" y="170.20" text-anchor="middle">714,000</text>
<text x="377.98" y="170.20" text-anchor="middle">716,000</text>
<text x="409.16" y="170.20" text-anchor="middle">718,000</text>
<text x="440.34" y="170.20" text-anchor="middle">720,000</text>
<text x="471.52" y="170.20" text-anchor="middle">722,000</text>
<text x="502.70" y="170.20" text-anchor="middle">724,000</text>
<text x="424.80" y="182.60" text-anchor="middle">X (m)</text>
<text x="0" y="0" text-anchor="middle" transform="translate(546.8 84.8) rotate(-90)">Y (m)</text>
<text x="379.30" y="219.70">Particle</text>
<text x="379.30" y="228.40">Elevation</text>
<text x="379.30" y="236.80">(m)</text>
<text x="463.10" y="220.00">Biomass</text>
<text x="463.10" y="228.90">Concentration</text>
<text x="463.10" y="236.80">(g/m<tspan font-size="4.3" dy="-3.0">3</tspan><tspan dy="3.0">)</tspan></text>
<text x="396.20" y="251.70">1</text>
<text x="396.20" y="276.66">0</text>
<text x="394.60" y="301.62">&#8722;1</text>
<text x="394.60" y="326.58">&#8722;2</text>
<text x="394.60" y="351.54">&#8722;3</text>
<text x="394.60" y="376.50">&#8722;4</text>
<text x="394.60" y="401.46">&#8722;5</text>
<text x="394.60" y="426.42">&#8722;6</text>
<text x="394.60" y="451.38">&#8722;7</text>
<text x="394.60" y="476.34">&#8722;8</text>
<text x="479.90" y="250.90">13,000</text>
<text x="479.90" y="268.20">12,000</text>
<text x="479.90" y="285.50">11,000</text>
<text x="479.90" y="302.80">10,000</text>
<text x="479.90" y="320.10">9,000</text>
<text x="479.90" y="337.40">8,000</text>
<text x="479.90" y="354.70">7,000</text>
<text x="479.90" y="372.00">6,000</text>
<text x="479.90" y="389.30">5,000</text>
<text x="479.90" y="406.60">4,000</text>
<text x="479.90" y="423.90">3,000</text>
<text x="479.90" y="441.20">2,000</text>
<text x="479.90" y="458.50">1,000</text>
<text x="479.90" y="475.80">0</text>
</svg>
</body></html>
